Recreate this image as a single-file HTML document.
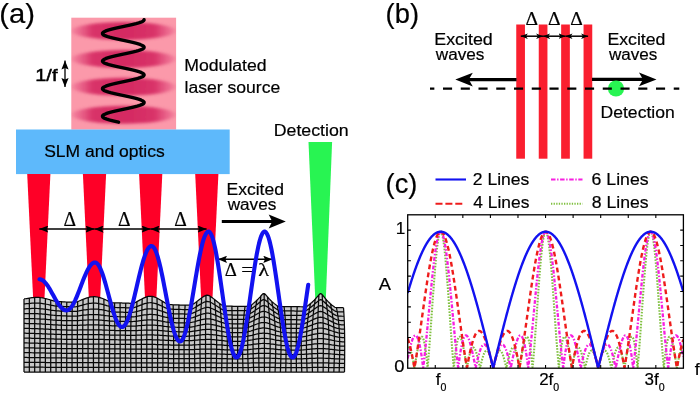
<!DOCTYPE html>
<html><head><meta charset="utf-8"><title>Figure</title>
<style>
html,body{margin:0;padding:0;background:#fff;}
svg{display:block;}
text{fill:#000;stroke:#000;stroke-width:0.2px;}
</style></head>
<body>
<svg width="700" height="397" viewBox="0 0 700 397">
<rect x="0" y="0" width="700" height="397" fill="#fff"/>
<defs>
<linearGradient id="pg" x1="0" y1="0" x2="1" y2="0"><stop offset="0" stop-color="#e0457a" stop-opacity="0.25"/><stop offset="0.2" stop-color="#d93268" stop-opacity="1"/><stop offset="0.5" stop-color="#d42a62" stop-opacity="1"/><stop offset="0.8" stop-color="#d93268" stop-opacity="1"/><stop offset="1" stop-color="#e0457a" stop-opacity="0.25"/></linearGradient>
<filter id="bl" x="-10%" y="-30%" width="120%" height="160%"><feGaussianBlur stdDeviation="2.5 1.7"/></filter>
<clipPath id="pc"><rect x="71.3" y="17.7" width="104.8" height="111.89999999999999"/></clipPath>
<marker id="ah" viewBox="0 0 10 8" refX="10" refY="4" markerWidth="9" markerHeight="7.2" markerUnits="userSpaceOnUse" orient="auto-start-reverse"><path d="M0,0 L10,4 L0,8 L1.8,4 Z" fill="#000"/></marker>
</defs>
<rect x="71.3" y="17.7" width="104.8" height="111.9" fill="#fb99aa"/>
<g clip-path="url(#pc)">
<ellipse cx="123.7" cy="31.0" rx="52" ry="9" fill="url(#pg)" filter="url(#bl)"/>
<ellipse cx="123.7" cy="59.0" rx="52" ry="9" fill="url(#pg)" filter="url(#bl)"/>
<ellipse cx="123.7" cy="86.8" rx="52" ry="9" fill="url(#pg)" filter="url(#bl)"/>
<ellipse cx="123.7" cy="114.8" rx="52" ry="9" fill="url(#pg)" filter="url(#bl)"/>
</g>
<path d="M144.1,19.7 L143.97,20.2 L143.56,20.7 L142.9,21.2 L141.98,21.7 L140.82,22.2 L139.43,22.7 L137.84,23.2 L136.06,23.7 L134.11,24.2 L132.02,24.7 L129.82,25.2 L127.53,25.7 L125.19,26.2 L122.83,26.7 L120.47,27.2 L118.15,27.7 L115.89,28.2 L113.73,28.7 L111.69,29.2 L109.81,29.7 L108.1,30.2 L106.58,30.7 L105.29,31.2 L104.22,31.7 L103.4,32.2 L102.84,32.7 L102.55,33.2 L102.52,33.7 L102.76,34.2 L103.27,34.7 L104.04,35.2 L105.05,35.7 L106.31,36.2 L107.78,36.7 L109.45,37.2 L111.31,37.7 L113.31,38.2 L115.45,38.7 L117.69,39.2 L120,39.7 L122.35,40.2 L124.72,40.7 L127.07,41.2 L129.37,41.7 L131.59,42.2 L133.7,42.7 L135.68,43.2 L137.5,43.7 L139.13,44.2 L140.56,44.7 L141.77,45.2 L142.74,45.7 L143.45,46.2 L143.91,46.7 L144.09,47.2 L144.01,47.7 L143.66,48.2 L143.05,48.7 L142.18,49.2 L141.07,49.7 L139.73,50.2 L138.17,50.7 L136.43,51.2 L134.51,51.7 L132.45,52.2 L130.27,52.7 L127.99,53.2 L125.66,53.7 L123.3,54.2 L120.94,54.7 L118.61,55.2 L116.33,55.7 L114.15,56.2 L112.09,56.7 L110.17,57.2 L108.43,57.7 L106.87,58.2 L105.53,58.7 L104.42,59.2 L103.55,59.7 L102.94,60.2 L102.59,60.7 L102.51,61.2 L102.69,61.7 L103.15,62.2 L103.86,62.7 L104.83,63.2 L106.04,63.7 L107.47,64.2 L109.1,64.7 L110.92,65.2 L112.9,65.7 L115.01,66.2 L117.23,66.7 L119.53,67.2 L121.88,67.7 L124.25,68.2 L126.6,68.7 L128.91,69.2 L131.15,69.7 L133.29,70.2 L135.29,70.7 L137.15,71.2 L138.82,71.7 L140.29,72.2 L141.55,72.7 L142.56,73.2 L143.33,73.7 L143.84,74.2 L144.08,74.7 L144.05,75.2 L143.76,75.7 L143.2,76.2 L142.38,76.7 L141.31,77.2 L140.02,77.7 L138.5,78.2 L136.79,78.7 L134.91,79.2 L132.87,79.7 L130.71,80.2 L128.45,80.7 L126.13,81.2 L123.77,81.7 L121.41,82.2 L119.07,82.7 L116.78,83.2 L114.58,83.7 L112.49,84.2 L110.54,84.7 L108.76,85.2 L107.17,85.7 L105.78,86.2 L104.62,86.7 L103.7,87.2 L103.04,87.7 L102.63,88.2 L102.5,88.7 L102.63,89.2 L103.04,89.7 L103.7,90.2 L104.62,90.7 L105.78,91.2 L107.17,91.7 L108.76,92.2 L110.54,92.7 L112.49,93.2 L114.58,93.7 L116.78,94.2 L119.07,94.7 L121.41,95.2 L123.77,95.7 L126.13,96.2 L128.45,96.7 L130.71,97.2 L132.87,97.7 L134.91,98.2 L136.79,98.7 L138.5,99.2 L140.02,99.7 L141.31,100.2 L142.38,100.7 L143.2,101.2 L143.76,101.7 L144.05,102.2 L144.08,102.7 L143.84,103.2 L143.33,103.7 L142.56,104.2 L141.55,104.7 L140.29,105.2 L138.82,105.7 L137.15,106.2 L135.29,106.7 L133.29,107.2 L131.15,107.7 L128.91,108.2 L126.6,108.7 L124.25,109.2 L121.88,109.7 L119.53,110.2 L117.23,110.7 L115.01,111.2 L112.9,111.7 L110.92,112.2 L109.1,112.7 L107.47,113.2 L106.04,113.7 L104.83,114.2 L103.86,114.7 L103.15,115.2 L102.69,115.7 L102.51,116.2 L102.59,116.7 L102.94,117.2 L103.55,117.7 L104.42,118.2 L105.53,118.7 L106.87,119.2 L108.43,119.7 L110.17,120.2 L112.09,120.7 L114.15,121.2 L116.33,121.7 L118.61,122.2" fill="none" stroke="#000" stroke-width="3.4" stroke-linecap="round" stroke-linejoin="round"/>
<rect x="16" y="129.5" width="213.7" height="44.6" fill="#5eb9fb"/>
<polygon points="27.2,174 50.4,174 44.4,300 33.2,300" fill="#fe0027"/>
<polygon points="82.9,174 106.1,174 100.1,300 88.9,300" fill="#fe0027"/>
<polygon points="139.1,174 162.3,174 156.3,300 145.1,300" fill="#fe0027"/>
<polygon points="195.2,174 218.4,174 212.4,300 201.2,300" fill="#fe0027"/>
<polygon points="308.5,142 332.1,142 325.8,300 315.3,300" fill="#28f452"/>
<text x="-0.7" y="23" font-size="27.5" font-family='"Liberation Sans", Arial, Helvetica, sans-serif' text-anchor="start" textLength="35.7" lengthAdjust="spacingAndGlyphs" >(a)</text>
<text x="35.28" y="80.8" font-size="17" font-family='"Liberation Sans", Arial, Helvetica, sans-serif' textLength="22.19" lengthAdjust="spacingAndGlyphs" style="stroke-width:0.5px">1/f</text>
<text x="184.25" y="71.4" font-size="17.3" font-family='"Liberation Sans", Arial, Helvetica, sans-serif' textLength="82.38" lengthAdjust="spacingAndGlyphs" >Modulated</text>
<text x="184.52" y="92.6" font-size="17.3" font-family='"Liberation Sans", Arial, Helvetica, sans-serif' textLength="95.77" lengthAdjust="spacingAndGlyphs" >laser source</text>
<text x="273.75" y="136.0" font-size="17.3" font-family='"Liberation Sans", Arial, Helvetica, sans-serif' textLength="74.91" lengthAdjust="spacingAndGlyphs" >Detection</text>
<text x="44.21" y="157" font-size="17.3" font-family='"Liberation Sans", Arial, Helvetica, sans-serif' textLength="120.42" lengthAdjust="spacingAndGlyphs" >SLM and optics</text>
<text x="226.46" y="195" font-size="17.3" font-family='"Liberation Sans", Arial, Helvetica, sans-serif' textLength="57.47" lengthAdjust="spacingAndGlyphs" >Excited</text>
<text x="227.63" y="209.6" font-size="17.3" font-family='"Liberation Sans", Arial, Helvetica, sans-serif' textLength="48.7" lengthAdjust="spacingAndGlyphs" >waves</text>
<line x1="65" y1="60.5" x2="65" y2="87" stroke="#000" stroke-width="1.3" marker-start="url(#ah)" marker-end="url(#ah)"/>
<line x1="39.3" y1="229.1" x2="94.5" y2="229.1" stroke="#000" stroke-width="1.5" marker-start="url(#ah)" marker-end="url(#ah)"/>
<line x1="94.5" y1="229.1" x2="150.6" y2="229.1" stroke="#000" stroke-width="1.5" marker-start="url(#ah)" marker-end="url(#ah)"/>
<line x1="150.6" y1="229.1" x2="206.6" y2="229.1" stroke="#000" stroke-width="1.5" marker-start="url(#ah)" marker-end="url(#ah)"/>
<g transform="translate(0,225.5) scale(1,1.04)">
<text x="63.4" y="0" font-size="19.4" font-family='"Liberation Serif", "Times New Roman", serif' textLength="12.58" lengthAdjust="spacingAndGlyphs" >&#916;</text>
</g>
<g transform="translate(0,225.5) scale(1,1.04)">
<text x="117.9" y="0" font-size="19.4" font-family='"Liberation Serif", "Times New Roman", serif' textLength="12.58" lengthAdjust="spacingAndGlyphs" >&#916;</text>
</g>
<g transform="translate(0,225.5) scale(1,1.04)">
<text x="174.3" y="0" font-size="19.4" font-family='"Liberation Serif", "Times New Roman", serif' textLength="12.58" lengthAdjust="spacingAndGlyphs" >&#916;</text>
</g>
<line x1="218" y1="259.3" x2="272.3" y2="259.3" stroke="#000" stroke-width="1.5" marker-start="url(#ah)" marker-end="url(#ah)"/>
<text x="224.68" y="275.6" font-size="19.4" font-family='"Liberation Serif", "Times New Roman", serif' textLength="12.13" lengthAdjust="spacingAndGlyphs" >&#916;</text>
<text x="241.23" y="275.6" font-size="19.4" font-family='"Liberation Serif", "Times New Roman", serif' textLength="12.12" lengthAdjust="spacingAndGlyphs" >=</text>
<text x="258.31" y="275.6" font-size="19.4" font-family='"Liberation Serif", "Times New Roman", serif' textLength="10.81" lengthAdjust="spacingAndGlyphs" >&#955;</text>
<line x1="221.8" y1="221.6" x2="273.2" y2="221.6" stroke="#000" stroke-width="3.0"/>
<path d="M285.8,221.6 L268.7,214.6 L272.2,221.6 L268.7,228.6 Z" fill="#000"/>
<polygon points="24,298.95 25.34,298.75 26.67,298.52 28.01,298.3 29.34,298.08 30.68,297.88 32.01,297.7 33.35,297.57 34.68,297.47 36.02,297.42 37.35,297.42 38.69,297.48 40.02,297.59 41.36,297.75 42.7,297.97 44.03,298.24 45.37,298.54 46.7,298.87 48.04,299.23 49.37,299.61 50.71,300.01 52.04,300.41 53.38,300.8 54.71,301.16 56.05,301.43 57.39,301.51 58.72,301.58 60.06,301.66 61.39,301.74 62.73,301.81 64.06,301.89 65.4,301.97 66.76,302.01 68.14,302.04 69.52,302.06 70.89,302.08 72.27,302.11 73.63,302.13 75,302.16 76.35,301.99 77.7,301.55 79.05,301.04 80.39,300.49 81.72,299.93 83.05,299.37 84.36,298.84 85.68,298.34 86.99,297.9 88.29,297.51 89.59,297.19 90.88,296.94 92.18,296.78 93.47,296.7 94.76,296.71 96.05,296.81 97.35,297 98.64,297.27 99.94,297.62 101.24,298.03 102.55,298.51 103.86,299.04 105.18,299.62 106.5,300.21 107.83,300.82 109.17,301.42 110.51,302 111.86,302.51 113.22,302.85 114.58,302.87 115.94,302.9 117.31,302.92 118.69,302.94 120.06,302.97 121.44,302.99 122.82,303.03 124.26,303.07 125.71,303.12 127.16,303.17 128.6,303.21 130.03,303.26 131.45,303.3 132.86,303.35 134.24,302.94 135.62,302.32 136.97,301.62 138.31,300.89 139.63,300.15 140.93,299.43 142.21,298.75 143.48,298.13 144.73,297.57 145.97,297.09 147.2,296.71 148.43,296.44 149.64,296.28 150.86,296.25 152.07,296.39 153.29,296.65 154.52,297.03 155.75,297.51 156.99,298.08 158.24,298.74 159.51,299.47 160.8,300.24 162.1,301.06 163.42,301.88 164.76,302.7 166.11,303.49 167.49,304.2 168.88,304.64 170.29,304.69 171.71,304.73 173.14,304.78 174.58,304.82 176.03,304.87 177.48,304.92 178.91,304.96 180.24,305.01 181.88,305.04 183.51,305.07 185.14,305.1 186.74,305.13 188.31,305.16 189.85,305.2 191.36,305.09 192.82,304.3 194.23,303.4 195.6,302.46 196.92,301.49 198.19,300.53 199.41,299.6 200.59,298.7 201.73,297.86 202.84,297.09 203.92,296.4 204.97,295.81 206.01,295.37 207.03,295.17 208.06,295.3 209.09,295.66 210.13,296.25 211.2,296.96 212.29,297.75 213.41,298.62 214.57,299.55 215.77,300.53 217.02,301.54 218.31,302.57 219.65,303.59 221.04,304.58 222.48,305.5 223.96,306.08 225.48,306.11 227.04,306.14 228.62,306.17 230.24,306.21 231.87,306.24 233.51,306.27 235,306.3 236.33,306.31 237.71,306.31 239.59,306.32 241.45,306.33 243.28,306.34 245.07,306.34 246.81,306.35 248.49,306.36 250.09,305.82 251.62,304.74 253.06,303.64 254.42,302.52 255.69,301.41 256.87,300.29 257.98,299.19 259,298.11 259.97,297.05 260.87,296.01 261.73,295.01 262.55,294.12 263.35,293.64 264.14,293.59 264.94,294.04 265.76,294.91 266.61,295.92 267.51,296.96 268.46,298.03 269.48,299.13 270.57,300.24 271.74,301.37 273,302.5 274.34,303.63 275.78,304.75 277.29,305.84 278.88,306.55 280.55,306.55 282.28,306.56 284.07,306.57 285.89,306.57 287.75,306.58 289.63,306.59 291.08,306.6 292.42,306.61 293.75,306.64 295.35,306.66 297.22,306.69 299.07,306.72 300.89,306.75 302.66,306.78 304.38,306.8 306.03,306.83 307.6,305.85 309.09,304.73 310.5,303.59 311.83,302.44 313.06,301.29 314.21,300.15 315.29,299.03 316.29,297.92 317.23,296.84 318.11,295.79 318.95,294.79 319.76,294.01 320.56,293.58 321.35,293.91 322.16,294.57 322.99,295.59 323.85,296.68 324.77,297.8 325.75,298.96 326.8,300.13 327.92,301.32 329.13,302.53 330.42,303.73 331.79,304.93 333.26,306.12 334.8,307.26 336.43,307.59 338.12,307.62 339.87,307.64 341.68,307.67 343.52,307.7 344.5,372 24,372" fill="#c8c8c8"/>
<path d="M24,298.95 L25.34,298.75 L26.67,298.52 L28.01,298.3 L29.34,298.08 L30.68,297.88 L32.01,297.7 L33.35,297.57 L34.68,297.47 L36.02,297.42 L37.35,297.42 L38.69,297.48 L40.02,297.59 L41.36,297.75 L42.7,297.97 L44.03,298.24 L45.37,298.54 L46.7,298.87 L48.04,299.23 L49.37,299.61 L50.71,300.01 L52.04,300.41 L53.38,300.8 L54.71,301.16 L56.05,301.43 L57.39,301.51 L58.72,301.58 L60.06,301.66 L61.39,301.74 L62.73,301.81 L64.06,301.89 L65.4,301.97 L66.76,302.01 L68.14,302.04 L69.52,302.06 L70.89,302.08 L72.27,302.11 L73.63,302.13 L75,302.16 L76.35,301.99 L77.7,301.55 L79.05,301.04 L80.39,300.49 L81.72,299.93 L83.05,299.37 L84.36,298.84 L85.68,298.34 L86.99,297.9 L88.29,297.51 L89.59,297.19 L90.88,296.94 L92.18,296.78 L93.47,296.7 L94.76,296.71 L96.05,296.81 L97.35,297 L98.64,297.27 L99.94,297.62 L101.24,298.03 L102.55,298.51 L103.86,299.04 L105.18,299.62 L106.5,300.21 L107.83,300.82 L109.17,301.42 L110.51,302 L111.86,302.51 L113.22,302.85 L114.58,302.87 L115.94,302.9 L117.31,302.92 L118.69,302.94 L120.06,302.97 L121.44,302.99 L122.82,303.03 L124.26,303.07 L125.71,303.12 L127.16,303.17 L128.6,303.21 L130.03,303.26 L131.45,303.3 L132.86,303.35 L134.24,302.94 L135.62,302.32 L136.97,301.62 L138.31,300.89 L139.63,300.15 L140.93,299.43 L142.21,298.75 L143.48,298.13 L144.73,297.57 L145.97,297.09 L147.2,296.71 L148.43,296.44 L149.64,296.28 L150.86,296.25 L152.07,296.39 L153.29,296.65 L154.52,297.03 L155.75,297.51 L156.99,298.08 L158.24,298.74 L159.51,299.47 L160.8,300.24 L162.1,301.06 L163.42,301.88 L164.76,302.7 L166.11,303.49 L167.49,304.2 L168.88,304.64 L170.29,304.69 L171.71,304.73 L173.14,304.78 L174.58,304.82 L176.03,304.87 L177.48,304.92 L178.91,304.96 L180.24,305.01 L181.88,305.04 L183.51,305.07 L185.14,305.1 L186.74,305.13 L188.31,305.16 L189.85,305.2 L191.36,305.09 L192.82,304.3 L194.23,303.4 L195.6,302.46 L196.92,301.49 L198.19,300.53 L199.41,299.6 L200.59,298.7 L201.73,297.86 L202.84,297.09 L203.92,296.4 L204.97,295.81 L206.01,295.37 L207.03,295.17 L208.06,295.3 L209.09,295.66 L210.13,296.25 L211.2,296.96 L212.29,297.75 L213.41,298.62 L214.57,299.55 L215.77,300.53 L217.02,301.54 L218.31,302.57 L219.65,303.59 L221.04,304.58 L222.48,305.5 L223.96,306.08 L225.48,306.11 L227.04,306.14 L228.62,306.17 L230.24,306.21 L231.87,306.24 L233.51,306.27 L235,306.3 L236.33,306.31 L237.71,306.31 L239.59,306.32 L241.45,306.33 L243.28,306.34 L245.07,306.34 L246.81,306.35 L248.49,306.36 L250.09,305.82 L251.62,304.74 L253.06,303.64 L254.42,302.52 L255.69,301.41 L256.87,300.29 L257.98,299.19 L259,298.11 L259.97,297.05 L260.87,296.01 L261.73,295.01 L262.55,294.12 L263.35,293.64 L264.14,293.59 L264.94,294.04 L265.76,294.91 L266.61,295.92 L267.51,296.96 L268.46,298.03 L269.48,299.13 L270.57,300.24 L271.74,301.37 L273,302.5 L274.34,303.63 L275.78,304.75 L277.29,305.84 L278.88,306.55 L280.55,306.55 L282.28,306.56 L284.07,306.57 L285.89,306.57 L287.75,306.58 L289.63,306.59 L291.08,306.6 L292.42,306.61 L293.75,306.64 L295.35,306.66 L297.22,306.69 L299.07,306.72 L300.89,306.75 L302.66,306.78 L304.38,306.8 L306.03,306.83 L307.6,305.85 L309.09,304.73 L310.5,303.59 L311.83,302.44 L313.06,301.29 L314.21,300.15 L315.29,299.03 L316.29,297.92 L317.23,296.84 L318.11,295.79 L318.95,294.79 L319.76,294.01 L320.56,293.58 L321.35,293.91 L322.16,294.57 L322.99,295.59 L323.85,296.68 L324.77,297.8 L325.75,298.96 L326.8,300.13 L327.92,301.32 L329.13,302.53 L330.42,303.73 L331.79,304.93 L333.26,306.12 L334.8,307.26 L336.43,307.59 L338.12,307.62 L339.87,307.64 L341.68,307.67 L343.52,307.7 M24,303.9 L25.34,303.78 L26.67,303.66 L28.01,303.53 L29.34,303.4 L30.68,303.29 L32.01,303.19 L33.35,303.12 L34.68,303.08 L36.02,303.07 L37.35,303.1 L38.69,303.16 L40.02,303.26 L41.36,303.4 L42.7,303.57 L44.03,303.77 L45.37,304 L46.7,304.25 L48.04,304.51 L49.37,304.79 L50.71,305.08 L52.04,305.37 L53.38,305.65 L54.71,305.9 L56.05,306.09 L57.39,306.2 L58.72,306.28 L60.06,306.35 L61.39,306.42 L62.73,306.49 L64.06,306.56 L65.4,306.63 L66.76,306.68 L68.12,306.7 L69.49,306.72 L70.85,306.75 L72.21,306.77 L73.57,306.79 L74.92,306.76 L76.28,306.63 L77.62,306.39 L78.96,306.05 L80.3,305.68 L81.63,305.3 L82.96,304.93 L84.29,304.57 L85.61,304.24 L86.92,303.94 L88.24,303.68 L89.54,303.47 L90.85,303.31 L92.16,303.2 L93.46,303.15 L94.77,303.17 L96.07,303.24 L97.38,303.38 L98.68,303.57 L99.99,303.81 L101.3,304.09 L102.62,304.42 L103.94,304.79 L105.26,305.18 L106.59,305.59 L107.92,306.02 L109.25,306.44 L110.59,306.83 L111.94,307.16 L113.29,307.38 L114.64,307.48 L116,307.5 L117.36,307.52 L118.72,307.55 L120.09,307.57 L121.45,307.59 L122.82,307.63 L124.23,307.67 L125.65,307.71 L127.06,307.76 L128.47,307.8 L129.88,307.84 L131.27,307.87 L132.66,307.82 L134.03,307.56 L135.39,307.16 L136.74,306.67 L138.08,306.15 L139.4,305.61 L140.71,305.09 L142.01,304.59 L143.3,304.13 L144.58,303.72 L145.84,303.36 L147.1,303.08 L148.36,302.87 L149.61,302.75 L150.86,302.73 L152.11,302.82 L153.36,303.01 L154.62,303.29 L155.88,303.65 L157.15,304.08 L158.42,304.57 L159.71,305.12 L161.01,305.71 L162.32,306.33 L163.65,306.97 L164.99,307.6 L166.34,308.2 L167.7,308.69 L169.07,309.02 L170.46,309.17 L171.86,309.22 L173.26,309.26 L174.67,309.3 L176.09,309.35 L177.51,309.39 L178.91,309.43 L180.24,309.47 L181.79,309.5 L183.34,309.53 L184.88,309.56 L186.41,309.59 L187.92,309.62 L189.4,309.58 L190.85,309.38 L192.28,308.89 L193.67,308.19 L195.03,307.43 L196.35,306.65 L197.64,305.87 L198.89,305.1 L200.12,304.36 L201.32,303.67 L202.49,303.02 L203.64,302.44 L204.77,301.96 L205.89,301.59 L207.01,301.44 L208.12,301.52 L209.24,301.79 L210.37,302.24 L211.51,302.8 L212.67,303.45 L213.85,304.17 L215.06,304.94 L216.3,305.76 L217.57,306.6 L218.88,307.47 L220.22,308.33 L221.59,309.16 L223,309.85 L224.44,310.31 L225.91,310.5 L227.4,310.53 L228.92,310.56 L230.45,310.59 L232,310.62 L233.55,310.65 L235,310.68 L236.33,310.69 L237.7,310.69 L239.42,310.7 L241.13,310.71 L242.82,310.71 L244.48,310.72 L246.11,310.73 L247.69,310.55 L249.21,310.08 L250.68,309.3 L252.1,308.33 L253.45,307.35 L254.74,306.36 L255.96,305.38 L257.13,304.41 L258.25,303.46 L259.32,302.52 L260.34,301.62 L261.34,300.76 L262.31,300.05 L263.26,299.67 L264.21,299.64 L265.16,299.98 L266.13,300.69 L267.12,301.54 L268.14,302.45 L269.2,303.4 L270.31,304.36 L271.47,305.35 L272.69,306.34 L273.97,307.34 L275.31,308.33 L276.72,309.31 L278.18,310.14 L279.7,310.7 L281.27,310.92 L282.89,310.92 L284.54,310.93 L286.23,310.94 L287.94,310.94 L289.66,310.95 L291.08,310.96 L292.42,310.97 L293.75,310.99 L295.28,311.02 L296.99,311.05 L298.7,311.07 L300.38,311.1 L302.02,311.12 L303.63,311.11 L305.19,310.89 L306.7,310.22 L308.14,309.32 L309.53,308.32 L310.86,307.31 L312.12,306.29 L313.33,305.29 L314.48,304.3 L315.57,303.33 L316.62,302.38 L317.64,301.46 L318.62,300.64 L319.58,299.99 L320.53,299.72 L321.48,299.94 L322.44,300.48 L323.41,301.3 L324.41,302.25 L325.45,303.24 L326.53,304.26 L327.66,305.29 L328.84,306.35 L330.08,307.41 L331.39,308.47 L332.75,309.53 L334.18,310.57 L335.67,311.35 L337.21,311.76 L338.8,311.91 L340.43,311.93 L342.1,311.96 L343.8,311.99 M24,308.81 L25.34,308.76 L26.67,308.7 L28.01,308.64 L29.34,308.57 L30.68,308.52 L32.01,308.48 L33.35,308.45 L34.68,308.45 L36.02,308.46 L37.35,308.5 L38.69,308.57 L40.02,308.66 L41.36,308.77 L42.7,308.91 L44.03,309.07 L45.37,309.25 L46.7,309.43 L48.04,309.63 L49.37,309.84 L50.71,310.05 L52.04,310.26 L53.38,310.47 L54.71,310.64 L56.05,310.79 L57.39,310.89 L58.72,310.97 L60.06,311.04 L61.39,311.11 L62.73,311.17 L64.06,311.24 L65.4,311.3 L66.75,311.34 L68.1,311.37 L69.46,311.39 L70.81,311.41 L72.17,311.43 L73.52,311.44 L74.86,311.41 L76.21,311.32 L77.55,311.17 L78.89,310.96 L80.23,310.71 L81.56,310.47 L82.89,310.22 L84.22,309.98 L85.55,309.76 L86.87,309.56 L88.19,309.39 L89.51,309.25 L90.82,309.15 L92.14,309.09 L93.46,309.06 L94.77,309.07 L96.08,309.13 L97.4,309.23 L98.72,309.36 L100.03,309.53 L101.35,309.72 L102.68,309.95 L104,310.2 L105.33,310.47 L106.66,310.75 L107.99,311.05 L109.33,311.34 L110.66,311.61 L112.01,311.82 L113.35,311.99 L114.7,312.06 L116.05,312.11 L117.4,312.13 L118.75,312.15 L120.11,312.17 L121.46,312.19 L122.82,312.22 L124.2,312.26 L125.59,312.3 L126.98,312.34 L128.37,312.38 L129.75,312.42 L131.13,312.42 L132.49,312.38 L133.85,312.2 L135.21,311.95 L136.55,311.61 L137.89,311.24 L139.22,310.86 L140.53,310.48 L141.85,310.12 L143.15,309.78 L144.44,309.48 L145.74,309.22 L147.02,309.01 L148.3,308.86 L149.58,308.77 L150.86,308.76 L152.14,308.82 L153.42,308.95 L154.7,309.16 L155.99,309.43 L157.28,309.75 L158.58,310.12 L159.88,310.54 L161.19,310.98 L162.51,311.45 L163.84,311.94 L165.18,312.42 L166.52,312.87 L167.88,313.22 L169.24,313.49 L170.61,313.62 L171.98,313.7 L173.36,313.74 L174.75,313.78 L176.14,313.82 L177.53,313.86 L178.91,313.9 L180.24,313.94 L181.72,313.97 L183.2,313.99 L184.67,314.02 L186.13,314.05 L187.58,314.08 L189.01,313.98 L190.43,313.82 L191.82,313.42 L193.19,312.93 L194.54,312.32 L195.87,311.7 L197.18,311.06 L198.46,310.44 L199.72,309.84 L200.96,309.27 L202.19,308.74 L203.4,308.26 L204.61,307.86 L205.8,307.58 L206.99,307.44 L208.18,307.49 L209.37,307.66 L210.57,308.03 L211.77,308.47 L212.99,309 L214.23,309.59 L215.48,310.22 L216.75,310.89 L218.05,311.6 L219.36,312.32 L220.7,313.03 L222.06,313.72 L223.44,314.25 L224.85,314.65 L226.27,314.83 L227.71,314.92 L229.17,314.95 L230.63,314.98 L232.11,315.01 L233.59,315.03 L235,315.06 L236.33,315.07 L237.69,315.07 L239.28,315.08 L240.86,315.08 L242.43,315.09 L243.99,315.1 L245.51,315.05 L247.01,314.85 L248.47,314.43 L249.9,313.8 L251.28,313 L252.63,312.15 L253.93,311.29 L255.2,310.43 L256.42,309.59 L257.61,308.75 L258.77,307.94 L259.9,307.15 L261.01,306.45 L262.1,305.85 L263.19,305.56 L264.26,305.53 L265.35,305.82 L266.44,306.39 L267.54,307.09 L268.67,307.88 L269.83,308.71 L271.01,309.55 L272.23,310.41 L273.49,311.27 L274.79,312.14 L276.13,313.01 L277.51,313.85 L278.93,314.49 L280.39,314.98 L281.88,315.2 L283.4,315.29 L284.95,315.29 L286.52,315.3 L288.1,315.3 L289.69,315.31 L291.08,315.32 L292.42,315.33 L293.75,315.35 L295.21,315.38 L296.8,315.4 L298.38,315.42 L299.94,315.45 L301.49,315.47 L303,315.36 L304.49,315.16 L305.93,314.57 L307.34,313.89 L308.71,313.02 L310.04,312.14 L311.33,311.26 L312.58,310.38 L313.79,309.52 L314.97,308.67 L316.12,307.84 L317.24,307.06 L318.34,306.38 L319.43,305.9 L320.51,305.65 L321.59,305.84 L322.67,306.23 L323.77,306.95 L324.88,307.74 L326.02,308.61 L327.19,309.5 L328.38,310.41 L329.62,311.33 L330.89,312.25 L332.21,313.18 L333.56,314.11 L334.96,314.92 L336.4,315.6 L337.87,315.96 L339.37,316.19 L340.9,316.22 L342.46,316.25 L344.04,316.27 M24,313.7 L25.34,313.7 L26.67,313.68 L28.01,313.66 L29.34,313.64 L30.68,313.63 L32.01,313.62 L33.35,313.62 L34.68,313.64 L36.02,313.67 L37.35,313.72 L38.69,313.78 L40.02,313.86 L41.36,313.96 L42.7,314.08 L44.03,314.2 L45.37,314.34 L46.7,314.48 L48.04,314.63 L49.37,314.79 L50.71,314.94 L52.04,315.1 L53.38,315.25 L54.71,315.38 L56.05,315.5 L57.39,315.59 L58.72,315.66 L60.06,315.73 L61.39,315.79 L62.73,315.85 L64.06,315.91 L65.4,315.97 L66.74,316.01 L68.09,316.03 L69.44,316.05 L70.78,316.07 L72.13,316.09 L73.47,316.08 L74.81,316.06 L76.16,316.01 L77.5,315.91 L78.83,315.79 L80.17,315.63 L81.5,315.47 L82.84,315.31 L84.17,315.16 L85.5,315.02 L86.83,314.89 L88.15,314.78 L89.48,314.69 L90.8,314.63 L92.13,314.59 L93.45,314.58 L94.77,314.59 L96.1,314.64 L97.42,314.71 L98.74,314.8 L100.07,314.92 L101.4,315.05 L102.72,315.2 L104.05,315.37 L105.38,315.56 L106.71,315.75 L108.05,315.95 L109.38,316.15 L110.72,316.33 L112.06,316.48 L113.4,316.6 L114.74,316.66 L116.09,316.71 L117.43,316.74 L118.78,316.75 L120.13,316.77 L121.47,316.79 L122.82,316.82 L124.18,316.86 L125.55,316.9 L126.92,316.93 L128.28,316.97 L129.64,317 L131,316.99 L132.36,316.96 L133.71,316.83 L135.05,316.66 L136.39,316.45 L137.73,316.19 L139.06,315.93 L140.39,315.66 L141.71,315.41 L143.02,315.17 L144.34,314.95 L145.65,314.77 L146.95,314.62 L148.26,314.51 L149.56,314.45 L150.86,314.43 L152.17,314.48 L153.47,314.58 L154.77,314.73 L156.08,314.92 L157.39,315.16 L158.7,315.44 L160.02,315.75 L161.34,316.09 L162.67,316.44 L164,316.81 L165.34,317.17 L166.68,317.48 L168.02,317.76 L169.37,317.97 L170.73,318.09 L172.09,318.18 L173.45,318.22 L174.81,318.26 L176.18,318.3 L177.55,318.33 L178.91,318.37 L180.24,318.4 L181.66,318.43 L183.08,318.46 L184.49,318.48 L185.9,318.51 L187.3,318.49 L188.7,318.41 L190.08,318.27 L191.45,317.96 L192.8,317.61 L194.15,317.14 L195.48,316.65 L196.8,316.14 L198.1,315.65 L199.39,315.16 L200.68,314.7 L201.95,314.26 L203.21,313.88 L204.47,313.55 L205.72,313.33 L206.97,313.22 L208.22,313.24 L209.48,313.38 L210.73,313.64 L211.99,313.99 L213.26,314.41 L214.54,314.88 L215.82,315.4 L217.12,315.95 L218.43,316.52 L219.76,317.11 L221.1,317.7 L222.45,318.22 L223.81,318.66 L225.18,319 L226.57,319.17 L227.97,319.31 L229.37,319.34 L230.78,319.36 L232.2,319.39 L233.62,319.41 L235,319.44 L236.33,319.45 L237.68,319.45 L239.16,319.46 L240.64,319.46 L242.12,319.47 L243.58,319.47 L245.02,319.34 L246.45,319.17 L247.86,318.8 L249.25,318.26 L250.61,317.66 L251.95,316.92 L253.27,316.18 L254.57,315.44 L255.84,314.71 L257.09,313.99 L258.32,313.28 L259.54,312.62 L260.74,312.03 L261.94,311.59 L263.12,311.35 L264.31,311.33 L265.5,311.56 L266.69,311.98 L267.89,312.57 L269.11,313.24 L270.34,313.95 L271.59,314.68 L272.86,315.42 L274.15,316.17 L275.46,316.92 L276.8,317.67 L278.16,318.31 L279.55,318.87 L280.95,319.29 L282.38,319.48 L283.82,319.65 L285.28,319.65 L286.75,319.66 L288.23,319.66 L289.71,319.67 L291.08,319.68 L292.42,319.69 L293.75,319.71 L295.16,319.73 L296.64,319.75 L298.12,319.78 L299.59,319.8 L301.04,319.79 L302.48,319.63 L303.91,319.46 L305.31,318.94 L306.68,318.39 L308.04,317.7 L309.37,316.94 L310.68,316.18 L311.97,315.43 L313.23,314.68 L314.47,313.95 L315.7,313.24 L316.91,312.59 L318.11,312.01 L319.3,311.66 L320.49,311.49 L321.68,311.63 L322.87,311.96 L324.06,312.51 L325.27,313.17 L326.49,313.91 L327.73,314.68 L328.98,315.46 L330.26,316.26 L331.56,317.06 L332.88,317.87 L334.23,318.66 L335.6,319.28 L336.99,319.87 L338.41,320.19 L339.84,320.4 L341.29,320.52 L342.76,320.54 L344.23,320.56 M24,318.58 L25.34,318.61 L26.67,318.62 L28.01,318.62 L29.34,318.63 L30.68,318.64 L32.01,318.66 L33.35,318.68 L34.68,318.71 L36.02,318.75 L37.35,318.8 L38.69,318.86 L40.02,318.94 L41.36,319.02 L42.7,319.11 L44.03,319.22 L45.37,319.33 L46.7,319.44 L48.04,319.55 L49.37,319.67 L50.71,319.79 L52.04,319.91 L53.38,320.01 L54.71,320.12 L56.05,320.21 L57.39,320.28 L58.72,320.35 L60.06,320.42 L61.39,320.47 L62.73,320.53 L64.06,320.59 L65.4,320.64 L66.74,320.68 L68.08,320.69 L69.42,320.71 L70.76,320.73 L72.1,320.74 L73.44,320.74 L74.77,320.72 L76.11,320.69 L77.45,320.63 L78.79,320.56 L80.12,320.47 L81.46,320.37 L82.79,320.27 L84.13,320.17 L85.46,320.08 L86.79,320 L88.12,319.94 L89.45,319.88 L90.78,319.85 L92.11,319.82 L93.44,319.82 L94.78,319.84 L96.11,319.87 L97.44,319.92 L98.77,319.99 L100.1,320.07 L101.43,320.16 L102.76,320.26 L104.09,320.38 L105.43,320.51 L106.76,320.64 L108.1,320.78 L109.43,320.91 L110.77,321.02 L112.11,321.13 L113.44,321.22 L114.78,321.27 L116.12,321.31 L117.46,321.34 L118.8,321.36 L120.14,321.38 L121.48,321.39 L122.82,321.42 L124.17,321.45 L125.52,321.49 L126.87,321.52 L128.21,321.56 L129.56,321.57 L130.91,321.56 L132.25,321.54 L133.59,321.46 L134.93,321.35 L136.27,321.22 L137.6,321.05 L138.94,320.87 L140.27,320.69 L141.6,320.51 L142.92,320.34 L144.25,320.19 L145.58,320.06 L146.9,319.96 L148.22,319.88 L149.54,319.84 L150.86,319.84 L152.19,319.87 L153.51,319.94 L154.83,320.05 L156.15,320.2 L157.48,320.37 L158.8,320.58 L160.13,320.81 L161.46,321.06 L162.79,321.32 L164.13,321.59 L165.46,321.86 L166.8,322.08 L168.14,322.29 L169.48,322.46 L170.82,322.56 L172.17,322.65 L173.52,322.7 L174.86,322.74 L176.21,322.77 L177.56,322.81 L178.91,322.84 L180.24,322.87 L181.61,322.89 L182.98,322.92 L184.35,322.94 L185.72,322.96 L187.08,322.91 L188.44,322.85 L189.8,322.74 L191.15,322.49 L192.49,322.22 L193.83,321.9 L195.16,321.51 L196.49,321.12 L197.81,320.72 L199.13,320.34 L200.44,319.97 L201.75,319.62 L203.06,319.32 L204.36,319.07 L205.66,318.89 L206.96,318.79 L208.26,318.8 L209.56,318.9 L210.86,319.08 L212.17,319.35 L213.47,319.68 L214.78,320.06 L216.1,320.47 L217.42,320.92 L218.74,321.38 L220.07,321.86 L221.41,322.34 L222.75,322.72 L224.1,323.09 L225.45,323.38 L226.81,323.52 L228.17,323.66 L229.53,323.73 L230.9,323.75 L232.27,323.77 L233.64,323.8 L235,323.82 L236.33,323.83 L237.67,323.83 L239.07,323.84 L240.47,323.84 L241.86,323.85 L243.25,323.81 L244.63,323.66 L246.01,323.51 L247.37,323.2 L248.73,322.73 L250.08,322.25 L251.42,321.66 L252.74,321.03 L254.06,320.39 L255.37,319.77 L256.67,319.15 L257.96,318.55 L259.25,318.02 L260.53,317.53 L261.8,317.19 L263.08,317.02 L264.35,317.01 L265.62,317.17 L266.9,317.51 L268.18,317.98 L269.46,318.52 L270.75,319.12 L272.05,319.75 L273.36,320.38 L274.67,321.02 L276,321.67 L277.34,322.29 L278.68,322.78 L280.04,323.26 L281.4,323.63 L282.78,323.79 L284.16,323.95 L285.55,324.02 L286.94,324.02 L288.34,324.03 L289.73,324.03 L291.08,324.04 L292.42,324.05 L293.75,324.07 L295.12,324.09 L296.52,324.11 L297.91,324.13 L299.3,324.15 L300.69,324.07 L302.07,323.92 L303.44,323.78 L304.81,323.34 L306.16,322.86 L307.5,322.35 L308.84,321.7 L310.16,321.06 L311.48,320.41 L312.78,319.78 L314.08,319.15 L315.37,318.56 L316.65,318.04 L317.93,317.61 L319.2,317.31 L320.47,317.18 L321.75,317.29 L323.02,317.55 L324.3,317.96 L325.58,318.52 L326.86,319.13 L328.16,319.79 L329.46,320.47 L330.77,321.15 L332.09,321.84 L333.42,322.52 L334.76,323.13 L336.11,323.65 L337.47,324.16 L338.84,324.44 L340.22,324.62 L341.6,324.8 L342.99,324.83 L344.39,324.85 M24,323.46 L25.34,323.49 L26.67,323.52 L28.01,323.54 L29.34,323.57 L30.68,323.59 L32.01,323.62 L33.35,323.65 L34.68,323.69 L36.02,323.74 L37.35,323.79 L38.69,323.84 L40.02,323.91 L41.36,323.98 L42.7,324.06 L44.03,324.15 L45.37,324.24 L46.7,324.32 L48.04,324.41 L49.37,324.5 L50.71,324.59 L52.04,324.68 L53.38,324.76 L54.71,324.85 L56.05,324.92 L57.39,324.99 L58.72,325.05 L60.06,325.11 L61.39,325.16 L62.73,325.21 L64.06,325.26 L65.4,325.31 L66.73,325.34 L68.07,325.36 L69.4,325.37 L70.74,325.39 L72.07,325.4 L73.41,325.39 L74.74,325.39 L76.08,325.37 L77.42,325.33 L78.75,325.29 L80.09,325.24 L81.42,325.18 L82.76,325.12 L84.09,325.07 L85.43,325.01 L86.76,324.97 L88.1,324.93 L89.43,324.9 L90.77,324.88 L92.11,324.87 L93.44,324.87 L94.78,324.88 L96.11,324.91 L97.45,324.95 L98.78,325 L100.12,325.06 L101.46,325.12 L102.79,325.19 L104.13,325.27 L105.46,325.35 L106.8,325.44 L108.13,325.54 L109.47,325.62 L110.8,325.7 L112.14,325.78 L113.47,325.84 L114.81,325.88 L116.14,325.91 L117.48,325.95 L118.82,325.96 L120.15,325.98 L121.49,325.99 L122.82,326.02 L124.16,326.05 L125.49,326.08 L126.83,326.11 L128.16,326.14 L129.5,326.14 L130.83,326.14 L132.17,326.14 L133.5,326.09 L134.84,326.01 L136.17,325.93 L137.51,325.83 L138.84,325.71 L140.18,325.59 L141.51,325.47 L142.85,325.36 L144.18,325.26 L145.52,325.17 L146.86,325.1 L148.19,325.05 L149.53,325.02 L150.86,325.02 L152.2,325.05 L153.54,325.1 L154.87,325.18 L156.21,325.29 L157.54,325.42 L158.88,325.57 L160.22,325.74 L161.55,325.92 L162.89,326.12 L164.22,326.32 L165.56,326.5 L166.89,326.67 L168.23,326.83 L169.56,326.96 L170.9,327.04 L172.23,327.12 L173.57,327.18 L174.9,327.22 L176.24,327.25 L177.57,327.28 L178.91,327.31 L180.24,327.34 L181.58,327.36 L182.91,327.38 L184.25,327.4 L185.58,327.4 L186.91,327.35 L188.25,327.3 L189.58,327.22 L190.92,327.03 L192.25,326.82 L193.59,326.59 L194.92,326.3 L196.26,326 L197.59,325.69 L198.93,325.39 L200.27,325.1 L201.6,324.83 L202.94,324.58 L204.28,324.4 L205.61,324.26 L206.95,324.18 L208.29,324.18 L209.63,324.25 L210.96,324.39 L212.3,324.58 L213.64,324.83 L214.97,325.13 L216.31,325.46 L217.65,325.81 L218.98,326.19 L220.32,326.57 L221.65,326.91 L222.99,327.22 L224.32,327.53 L225.66,327.77 L226.99,327.89 L228.33,328.01 L229.66,328.12 L230.99,328.14 L232.33,328.16 L233.66,328.18 L235,328.2 L236.33,328.2 L237.67,328.21 L239,328.21 L240.33,328.22 L241.66,328.22 L243,328.13 L244.33,328 L245.66,327.87 L247,327.6 L248.33,327.21 L249.67,326.81 L251,326.37 L252.34,325.83 L253.67,325.3 L255.01,324.77 L256.35,324.25 L257.69,323.76 L259.02,323.32 L260.36,322.97 L261.7,322.68 L263.04,322.56 L264.38,322.55 L265.71,322.67 L267.05,322.94 L268.39,323.29 L269.73,323.74 L271.07,324.23 L272.4,324.76 L273.74,325.3 L275.08,325.84 L276.41,326.38 L277.75,326.85 L279.08,327.26 L280.42,327.67 L281.75,327.98 L283.08,328.12 L284.42,328.26 L285.75,328.38 L287.08,328.38 L288.42,328.39 L289.75,328.39 L291.08,328.4 L292.42,328.41 L293.75,328.42 L295.09,328.44 L296.42,328.46 L297.75,328.48 L299.09,328.48 L300.42,328.36 L301.75,328.24 L303.09,328.11 L304.42,327.74 L305.76,327.34 L307.09,326.93 L308.43,326.43 L309.76,325.89 L311.1,325.34 L312.44,324.81 L313.77,324.28 L315.11,323.81 L316.45,323.37 L317.79,323.06 L319.12,322.83 L320.46,322.73 L321.8,322.83 L323.14,323.02 L324.48,323.37 L325.81,323.79 L327.15,324.28 L328.49,324.84 L329.83,325.41 L331.16,325.99 L332.5,326.57 L333.83,327.15 L335.17,327.6 L336.5,328.04 L337.84,328.48 L339.17,328.71 L340.51,328.87 L341.84,329.03 L343.17,329.11 L344.51,329.13 M24,328.33 L25.34,328.36 L26.67,328.4 L28.01,328.43 L29.34,328.47 L30.68,328.5 L32.01,328.53 L33.35,328.57 L34.68,328.61 L36.02,328.66 L37.35,328.71 L38.69,328.76 L40.02,328.82 L41.36,328.88 L42.7,328.95 L44.03,329.02 L45.37,329.09 L46.7,329.16 L48.04,329.23 L49.37,329.3 L50.71,329.37 L52.04,329.44 L53.38,329.51 L54.71,329.57 L56.05,329.63 L57.39,329.69 L58.72,329.74 L60.06,329.79 L61.39,329.84 L62.73,329.89 L64.06,329.93 L65.4,329.98 L66.73,330.01 L68.06,330.02 L69.39,330.04 L70.72,330.05 L72.06,330.05 L73.39,330.06 L74.72,330.06 L76.06,330.05 L77.39,330.03 L78.72,330 L80.06,329.98 L81.4,329.95 L82.73,329.91 L84.07,329.88 L85.41,329.85 L86.74,329.82 L88.08,329.8 L89.42,329.79 L90.76,329.78 L92.1,329.78 L93.44,329.78 L94.78,329.8 L96.12,329.82 L97.46,329.85 L98.8,329.88 L100.14,329.92 L101.47,329.97 L102.81,330.01 L104.15,330.07 L105.49,330.13 L106.82,330.19 L108.16,330.25 L109.49,330.31 L110.83,330.36 L112.16,330.42 L113.5,330.46 L114.83,330.49 L116.16,330.52 L117.49,330.55 L118.83,330.57 L120.16,330.58 L121.49,330.59 L122.82,330.62 L124.15,330.64 L125.47,330.67 L126.8,330.7 L128.12,330.72 L129.45,330.73 L130.78,330.73 L132.1,330.73 L133.43,330.7 L134.77,330.66 L136.1,330.6 L137.44,330.55 L138.77,330.47 L140.11,330.4 L141.45,330.32 L142.79,330.25 L144.14,330.18 L145.48,330.12 L146.83,330.08 L148.17,330.05 L149.52,330.04 L150.87,330.04 L152.21,330.06 L153.56,330.1 L154.9,330.16 L156.25,330.24 L157.59,330.33 L158.94,330.44 L160.28,330.57 L161.62,330.7 L162.96,330.85 L164.29,330.99 L165.63,331.12 L166.96,331.24 L168.29,331.37 L169.62,331.47 L170.95,331.53 L172.28,331.6 L173.61,331.65 L174.93,331.69 L176.26,331.72 L177.58,331.75 L178.91,331.78 L180.24,331.8 L181.55,331.82 L182.86,331.84 L184.17,331.86 L185.48,331.84 L186.79,331.8 L188.11,331.76 L189.43,331.7 L190.75,331.56 L192.08,331.4 L193.41,331.23 L194.75,331.03 L196.09,330.8 L197.43,330.57 L198.78,330.33 L200.14,330.11 L201.49,329.9 L202.85,329.72 L204.22,329.58 L205.58,329.47 L206.94,329.4 L208.31,329.4 L209.67,329.45 L211.04,329.55 L212.4,329.68 L213.76,329.88 L215.11,330.1 L216.46,330.36 L217.81,330.64 L219.15,330.93 L220.49,331.23 L221.83,331.48 L223.16,331.73 L224.48,331.98 L225.81,332.17 L227.12,332.28 L228.44,332.38 L229.75,332.47 L231.06,332.52 L232.37,332.54 L233.67,332.56 L235,332.58 L236.33,332.58 L237.66,332.59 L238.95,332.59 L240.23,332.6 L241.52,332.57 L242.81,332.47 L244.11,332.36 L245.42,332.25 L246.73,332.03 L248.04,331.69 L249.37,331.36 L250.7,331.02 L252.04,330.6 L253.39,330.16 L254.75,329.72 L256.11,329.29 L257.48,328.9 L258.86,328.54 L260.24,328.27 L261.62,328.06 L263.01,327.96 L264.4,327.95 L265.78,328.05 L267.17,328.26 L268.55,328.54 L269.92,328.88 L271.3,329.28 L272.66,329.71 L274.02,330.16 L275.37,330.61 L276.71,331.05 L278.05,331.4 L279.37,331.74 L280.69,332.09 L282,332.35 L283.31,332.47 L284.61,332.58 L285.9,332.7 L287.19,332.74 L288.47,332.75 L289.76,332.75 L291.08,332.76 L292.42,332.77 L293.75,332.78 L295.07,332.8 L296.35,332.82 L297.64,332.83 L298.93,332.78 L300.22,332.68 L301.52,332.57 L302.83,332.47 L304.14,332.16 L305.46,331.82 L306.79,331.48 L308.13,331.12 L309.47,330.67 L310.82,330.22 L312.18,329.77 L313.55,329.35 L314.92,328.97 L316.3,328.65 L317.68,328.39 L319.07,328.23 L320.45,328.14 L321.84,328.22 L323.23,328.38 L324.61,328.65 L325.99,328.96 L327.36,329.37 L328.73,329.81 L330.09,330.29 L331.45,330.77 L332.8,331.26 L334.14,331.69 L335.47,332.06 L336.79,332.44 L338.11,332.8 L339.41,333 L340.72,333.14 L342.01,333.27 L343.3,333.4 L344.59,333.42 M24,333.19 L25.34,333.23 L26.67,333.27 L28.01,333.3 L29.34,333.34 L30.68,333.37 L32.01,333.41 L33.35,333.45 L34.68,333.49 L36.02,333.53 L37.35,333.58 L38.69,333.63 L40.02,333.68 L41.36,333.73 L42.7,333.79 L44.03,333.85 L45.37,333.91 L46.7,333.96 L48.04,334.02 L49.37,334.08 L50.71,334.13 L52.04,334.19 L53.38,334.24 L54.71,334.29 L56.05,334.35 L57.39,334.39 L58.72,334.44 L60.06,334.48 L61.39,334.53 L62.73,334.57 L64.06,334.61 L65.4,334.65 L66.73,334.67 L68.06,334.69 L69.39,334.7 L70.72,334.71 L72.05,334.71 L73.38,334.72 L74.71,334.72 L76.04,334.72 L77.37,334.71 L78.71,334.7 L80.04,334.69 L81.38,334.67 L82.71,334.66 L84.05,334.64 L85.39,334.62 L86.73,334.61 L88.07,334.6 L89.41,334.6 L90.75,334.59 L92.1,334.6 L93.44,334.6 L94.78,334.62 L96.12,334.63 L97.46,334.65 L98.81,334.68 L100.15,334.71 L101.49,334.74 L102.83,334.77 L104.17,334.81 L105.5,334.85 L106.84,334.89 L108.18,334.93 L109.51,334.97 L110.85,335.01 L112.18,335.05 L113.51,335.08 L114.84,335.1 L116.17,335.13 L117.5,335.15 L118.83,335.17 L120.16,335.18 L121.49,335.2 L122.82,335.22 L124.14,335.24 L125.46,335.26 L126.78,335.29 L128.1,335.3 L129.42,335.31 L130.74,335.32 L132.06,335.32 L133.39,335.31 L134.72,335.28 L136.05,335.25 L137.39,335.22 L138.73,335.18 L140.07,335.14 L141.41,335.09 L142.76,335.04 L144.1,335 L145.45,334.97 L146.81,334.94 L148.16,334.93 L149.51,334.92 L150.87,334.93 L152.22,334.94 L153.57,334.98 L154.93,335.02 L156.28,335.08 L157.63,335.15 L158.97,335.23 L160.32,335.32 L161.66,335.42 L163,335.52 L164.34,335.62 L165.68,335.71 L167.01,335.81 L168.34,335.9 L169.66,335.98 L170.99,336.03 L172.31,336.08 L173.63,336.13 L174.95,336.17 L176.27,336.2 L177.59,336.22 L178.91,336.25 L180.24,336.27 L181.53,336.29 L182.82,336.3 L184.11,336.31 L185.41,336.29 L186.71,336.26 L188.01,336.23 L189.32,336.19 L190.64,336.08 L191.96,335.96 L193.29,335.83 L194.63,335.7 L195.97,335.53 L197.33,335.36 L198.69,335.18 L200.05,335.01 L201.42,334.86 L202.8,334.73 L204.18,334.62 L205.56,334.53 L206.94,334.48 L208.32,334.48 L209.7,334.51 L211.09,334.58 L212.46,334.69 L213.84,334.82 L215.2,334.99 L216.57,335.19 L217.92,335.4 L219.27,335.63 L220.61,335.84 L221.95,336.03 L223.27,336.23 L224.59,336.43 L225.91,336.59 L227.21,336.67 L228.52,336.75 L229.81,336.84 L231.1,336.91 L232.39,336.93 L233.68,336.94 L235,336.96 L236.33,336.96 L237.66,336.97 L238.91,336.97 L240.17,336.97 L241.43,336.91 L242.69,336.82 L243.96,336.73 L245.25,336.64 L246.54,336.46 L247.85,336.18 L249.17,335.91 L250.5,335.63 L251.84,335.33 L253.2,334.97 L254.57,334.61 L255.96,334.26 L257.35,333.95 L258.75,333.7 L260.16,333.48 L261.57,333.32 L262.99,333.24 L264.41,333.23 L265.83,333.31 L267.24,333.48 L268.65,333.69 L270.06,333.94 L271.45,334.26 L272.83,334.6 L274.21,334.97 L275.57,335.34 L276.91,335.66 L278.25,335.95 L279.57,336.23 L280.88,336.51 L282.17,336.73 L283.46,336.83 L284.73,336.93 L286,337.02 L287.26,337.11 L288.51,337.11 L289.77,337.11 L291.08,337.12 L292.42,337.12 L293.75,337.14 L295.05,337.15 L296.3,337.17 L297.56,337.17 L298.82,337.09 L300.09,337.01 L301.37,336.92 L302.65,336.84 L303.95,336.58 L305.26,336.31 L306.59,336.03 L307.92,335.75 L309.28,335.41 L310.64,335.04 L312.01,334.68 L313.4,334.34 L314.8,334.04 L316.2,333.81 L317.61,333.62 L319.03,333.49 L320.45,333.42 L321.87,333.49 L323.28,333.62 L324.7,333.82 L326.1,334.07 L327.5,334.38 L328.89,334.73 L330.27,335.11 L331.64,335.51 L333,335.91 L334.34,336.22 L335.67,336.53 L336.98,336.84 L338.29,337.14 L339.58,337.31 L340.86,337.42 L342.13,337.53 L343.39,337.64 L344.65,337.71 M24,338.05 L25.34,338.09 L26.67,338.12 L28.01,338.16 L29.34,338.19 L30.68,338.23 L32.01,338.26 L33.35,338.3 L34.68,338.34 L36.02,338.38 L37.35,338.42 L38.69,338.46 L40.02,338.51 L41.36,338.56 L42.7,338.6 L44.03,338.66 L45.37,338.7 L46.7,338.75 L48.04,338.79 L49.37,338.84 L50.71,338.88 L52.04,338.92 L53.38,338.97 L54.71,339.01 L56.05,339.06 L57.39,339.09 L58.72,339.13 L60.06,339.17 L61.39,339.21 L62.73,339.25 L64.06,339.28 L65.4,339.32 L66.73,339.34 L68.05,339.35 L69.38,339.36 L70.71,339.37 L72.04,339.37 L73.37,339.38 L74.7,339.39 L76.03,339.39 L77.36,339.38 L78.7,339.38 L80.03,339.38 L81.37,339.37 L82.7,339.37 L84.04,339.36 L85.38,339.35 L86.72,339.35 L88.06,339.35 L89.41,339.34 L90.75,339.35 L92.09,339.35 L93.44,339.36 L94.78,339.37 L96.12,339.38 L97.47,339.4 L98.81,339.42 L100.15,339.44 L101.49,339.46 L102.83,339.49 L104.17,339.51 L105.51,339.54 L106.85,339.57 L108.19,339.6 L109.52,339.62 L110.86,339.65 L112.19,339.68 L113.52,339.7 L114.85,339.72 L116.18,339.74 L117.51,339.75 L118.84,339.77 L120.17,339.78 L121.49,339.8 L122.82,339.81 L124.14,339.83 L125.45,339.86 L126.76,339.87 L128.08,339.89 L129.4,339.9 L130.72,339.91 L132.04,339.92 L133.37,339.91 L134.69,339.9 L136.03,339.88 L137.36,339.87 L138.7,339.85 L140.04,339.82 L141.39,339.8 L142.73,339.77 L144.09,339.75 L145.44,339.73 L146.79,339.72 L148.15,339.71 L149.51,339.71 L150.87,339.72 L152.22,339.73 L153.58,339.76 L154.94,339.79 L156.29,339.83 L157.65,339.88 L159,339.94 L160.34,340.01 L161.69,340.08 L163.03,340.15 L164.37,340.22 L165.7,340.29 L167.04,340.36 L168.36,340.43 L169.69,340.49 L171.01,340.53 L172.33,340.57 L173.65,340.61 L174.96,340.64 L176.28,340.67 L177.59,340.69 L178.91,340.72 L180.24,340.74 L181.52,340.75 L182.8,340.77 L184.08,340.76 L185.37,340.74 L186.66,340.73 L187.96,340.71 L189.26,340.67 L190.57,340.6 L191.89,340.51 L193.22,340.42 L194.56,340.32 L195.91,340.21 L197.26,340.08 L198.63,339.95 L200,339.83 L201.38,339.72 L202.76,339.62 L204.15,339.54 L205.54,339.48 L206.94,339.44 L208.33,339.43 L209.72,339.46 L211.11,339.51 L212.5,339.58 L213.88,339.67 L215.26,339.8 L216.63,339.95 L217.99,340.11 L219.34,340.28 L220.68,340.42 L222.02,340.57 L223.34,340.73 L224.66,340.88 L225.97,341.01 L227.27,341.07 L228.56,341.14 L229.85,341.21 L231.13,341.28 L232.41,341.31 L233.69,341.33 L235,341.34 L236.33,341.34 L237.66,341.35 L238.89,341.35 L240.13,341.33 L241.37,341.26 L242.62,341.19 L243.88,341.12 L245.15,341.04 L246.44,340.9 L247.74,340.68 L249.05,340.45 L250.38,340.23 L251.73,340 L253.09,339.73 L254.47,339.44 L255.87,339.18 L257.27,338.94 L258.69,338.75 L260.11,338.59 L261.55,338.46 L262.98,338.4 L264.42,338.39 L265.86,338.46 L267.29,338.59 L268.71,338.75 L270.13,338.94 L271.54,339.18 L272.93,339.44 L274.32,339.74 L275.68,340.03 L277.03,340.26 L278.36,340.49 L279.68,340.72 L280.98,340.95 L282.27,341.12 L283.54,341.2 L284.81,341.28 L286.06,341.36 L287.3,341.44 L288.54,341.47 L289.77,341.47 L291.08,341.48 L292.42,341.48 L293.75,341.5 L295.04,341.51 L296.28,341.52 L297.51,341.49 L298.76,341.42 L300.01,341.36 L301.28,341.29 L302.55,341.22 L303.84,341.01 L305.15,340.79 L306.47,340.57 L307.81,340.34 L309.16,340.11 L310.53,339.81 L311.92,339.53 L313.32,339.27 L314.73,339.06 L316.15,338.88 L317.57,338.73 L319.01,338.63 L320.44,338.58 L321.88,338.63 L323.32,338.73 L324.75,338.89 L326.17,339.09 L327.58,339.3 L328.99,339.58 L330.38,339.89 L331.75,340.21 L333.11,340.49 L334.46,340.74 L335.78,340.99 L337.09,341.24 L338.39,341.49 L339.67,341.62 L340.94,341.72 L342.2,341.81 L343.44,341.9 L344.68,341.99 M24,342.9 L25.34,342.94 L26.67,342.97 L28.01,343 L29.34,343.04 L30.68,343.07 L32.01,343.1 L33.35,343.14 L34.68,343.17 L36.02,343.21 L37.35,343.24 L38.69,343.28 L40.02,343.32 L41.36,343.36 L42.7,343.4 L44.03,343.44 L45.37,343.48 L46.7,343.52 L48.04,343.55 L49.37,343.59 L50.71,343.62 L52.04,343.66 L53.38,343.69 L54.71,343.73 L56.05,343.76 L57.39,343.8 L58.72,343.83 L60.06,343.86 L61.39,343.89 L62.73,343.93 L64.06,343.96 L65.4,343.99 L66.73,344.01 L68.05,344.01 L69.38,344.02 L70.71,344.03 L72.04,344.04 L73.37,344.04 L74.7,344.05 L76.03,344.05 L77.36,344.05 L78.69,344.05 L80.03,344.05 L81.36,344.05 L82.7,344.05 L84.04,344.05 L85.38,344.05 L86.72,344.05 L88.06,344.05 L89.4,344.06 L90.75,344.06 L92.09,344.07 L93.44,344.07 L94.78,344.08 L96.12,344.09 L97.47,344.11 L98.81,344.12 L100.15,344.14 L101.5,344.15 L102.84,344.17 L104.18,344.19 L105.52,344.21 L106.85,344.22 L108.19,344.24 L109.53,344.26 L110.86,344.28 L112.19,344.3 L113.52,344.32 L114.85,344.33 L116.18,344.35 L117.51,344.36 L118.84,344.37 L120.17,344.39 L121.49,344.4 L122.82,344.41 L124.14,344.43 L125.45,344.45 L126.76,344.46 L128.07,344.47 L129.39,344.48 L130.71,344.49 L132.03,344.5 L133.36,344.51 L134.68,344.5 L136.02,344.5 L137.35,344.49 L138.69,344.48 L140.03,344.47 L141.38,344.46 L142.73,344.45 L144.08,344.44 L145.43,344.43 L146.79,344.42 L148.15,344.42 L149.51,344.43 L150.87,344.43 L152.23,344.45 L153.58,344.47 L154.94,344.49 L156.3,344.52 L157.65,344.56 L159,344.6 L160.35,344.65 L161.7,344.7 L163.04,344.75 L164.38,344.8 L165.71,344.85 L167.04,344.9 L168.37,344.95 L169.7,344.99 L171.02,345.02 L172.34,345.06 L173.65,345.09 L174.97,345.12 L176.28,345.15 L177.59,345.17 L178.91,345.18 L180.24,345.2 L181.52,345.21 L182.79,345.22 L184.07,345.21 L185.35,345.2 L186.64,345.19 L187.94,345.18 L189.24,345.16 L190.55,345.1 L191.87,345.04 L193.2,344.98 L194.54,344.91 L195.88,344.84 L197.24,344.75 L198.61,344.66 L199.98,344.57 L201.36,344.49 L202.75,344.43 L204.14,344.37 L205.54,344.32 L206.94,344.29 L208.33,344.29 L209.73,344.3 L211.12,344.34 L212.51,344.39 L213.9,344.46 L215.28,344.54 L216.65,344.65 L218.01,344.77 L219.36,344.88 L220.71,344.98 L222.04,345.1 L223.37,345.22 L224.68,345.34 L225.99,345.43 L227.28,345.48 L228.58,345.54 L229.86,345.59 L231.14,345.65 L232.42,345.69 L233.69,345.71 L235,345.72 L236.33,345.72 L237.66,345.73 L238.88,345.73 L240.11,345.69 L241.35,345.63 L242.59,345.57 L243.85,345.52 L245.12,345.46 L246.4,345.34 L247.69,345.16 L249.01,344.99 L250.34,344.81 L251.69,344.64 L253.05,344.45 L254.44,344.23 L255.83,344.03 L257.24,343.86 L258.67,343.72 L260.1,343.6 L261.53,343.5 L262.98,343.45 L264.42,343.44 L265.86,343.5 L267.3,343.6 L268.74,343.72 L270.16,343.86 L271.57,344.03 L272.97,344.23 L274.36,344.46 L275.72,344.66 L277.07,344.84 L278.41,345.02 L279.72,345.2 L281.02,345.39 L282.31,345.52 L283.58,345.59 L284.83,345.65 L286.08,345.72 L287.31,345.78 L288.55,345.83 L289.77,345.84 L291.08,345.84 L292.42,345.84 L293.75,345.85 L295.04,345.87 L296.27,345.87 L297.5,345.82 L298.74,345.77 L299.98,345.71 L301.24,345.66 L302.52,345.61 L303.8,345.45 L305.11,345.27 L306.43,345.09 L307.77,344.92 L309.12,344.74 L310.49,344.53 L311.88,344.32 L313.28,344.12 L314.7,343.97 L316.12,343.84 L317.56,343.74 L319,343.65 L320.44,343.61 L321.89,343.66 L323.33,343.74 L324.77,343.87 L326.2,344.01 L327.61,344.18 L329.02,344.38 L330.41,344.61 L331.79,344.85 L333.15,345.05 L334.5,345.25 L335.83,345.45 L337.13,345.65 L338.43,345.85 L339.71,345.95 L340.97,346.03 L342.22,346.1 L343.46,346.18 L344.7,346.25 M24,347.76 L25.34,347.79 L26.67,347.81 L28.01,347.84 L29.34,347.87 L30.68,347.9 L32.01,347.93 L33.35,347.96 L34.68,347.99 L36.02,348.02 L37.35,348.05 L38.69,348.08 L40.02,348.11 L41.36,348.15 L42.7,348.18 L44.03,348.21 L45.37,348.25 L46.7,348.27 L48.04,348.3 L49.37,348.33 L50.71,348.36 L52.04,348.39 L53.38,348.41 L54.71,348.44 L56.05,348.47 L57.39,348.5 L58.72,348.52 L60.06,348.55 L61.39,348.58 L62.73,348.6 L64.06,348.63 L65.4,348.66 L66.73,348.67 L68.05,348.68 L69.38,348.69 L70.71,348.69 L72.04,348.7 L73.37,348.7 L74.7,348.71 L76.03,348.71 L77.36,348.72 L78.69,348.72 L80.03,348.72 L81.37,348.72 L82.7,348.73 L84.04,348.73 L85.38,348.73 L86.72,348.73 L88.06,348.74 L89.41,348.74 L90.75,348.75 L92.09,348.75 L93.44,348.76 L94.78,348.77 L96.12,348.77 L97.47,348.78 L98.81,348.79 L100.15,348.81 L101.5,348.82 L102.84,348.83 L104.18,348.84 L105.52,348.86 L106.85,348.87 L108.19,348.88 L109.52,348.9 L110.86,348.91 L112.19,348.92 L113.52,348.94 L114.85,348.95 L116.18,348.96 L117.51,348.97 L118.84,348.98 L120.17,348.99 L121.49,349 L122.82,349.01 L124.14,349.02 L125.45,349.04 L126.76,349.05 L128.08,349.06 L129.39,349.07 L130.71,349.08 L132.03,349.09 L133.36,349.1 L134.69,349.1 L136.02,349.1 L137.35,349.1 L138.69,349.1 L140.04,349.09 L141.38,349.09 L142.73,349.09 L144.08,349.08 L145.44,349.08 L146.79,349.08 L148.15,349.08 L149.51,349.09 L150.87,349.1 L152.22,349.11 L153.58,349.13 L154.94,349.14 L156.3,349.17 L157.65,349.19 L159,349.22 L160.35,349.26 L161.69,349.29 L163.04,349.32 L164.37,349.36 L165.71,349.39 L167.04,349.43 L168.37,349.47 L169.69,349.5 L171.01,349.52 L172.33,349.55 L173.65,349.57 L174.96,349.6 L176.28,349.62 L177.59,349.64 L178.91,349.65 L180.24,349.67 L181.52,349.68 L182.8,349.68 L184.08,349.67 L185.36,349.67 L186.65,349.66 L187.94,349.65 L189.25,349.64 L190.56,349.6 L191.88,349.56 L193.21,349.52 L194.55,349.47 L195.89,349.42 L197.25,349.37 L198.62,349.31 L199.99,349.25 L201.37,349.2 L202.76,349.15 L204.15,349.11 L205.54,349.07 L206.94,349.05 L208.33,349.05 L209.73,349.06 L211.12,349.09 L212.51,349.12 L213.89,349.17 L215.27,349.23 L216.64,349.3 L218,349.38 L219.35,349.45 L220.7,349.53 L222.03,349.61 L223.35,349.7 L224.67,349.79 L225.98,349.86 L227.28,349.9 L228.57,349.94 L229.85,349.98 L231.14,350.03 L232.41,350.07 L233.69,350.09 L235,350.1 L236.33,350.1 L237.66,350.1 L238.89,350.1 L240.12,350.05 L241.36,350.01 L242.61,349.96 L243.86,349.92 L245.13,349.88 L246.41,349.79 L247.71,349.65 L249.03,349.52 L250.36,349.38 L251.71,349.25 L253.07,349.12 L254.45,348.97 L255.85,348.82 L257.26,348.7 L258.68,348.6 L260.1,348.52 L261.54,348.44 L262.98,348.4 L264.42,348.4 L265.86,348.44 L267.3,348.52 L268.73,348.61 L270.15,348.71 L271.56,348.83 L272.96,348.97 L274.34,349.13 L275.71,349.27 L277.06,349.41 L278.39,349.55 L279.71,349.69 L281.01,349.83 L282.29,349.93 L283.56,349.98 L284.82,350.03 L286.07,350.08 L287.31,350.13 L288.54,350.18 L289.77,350.2 L291.08,350.2 L292.42,350.2 L293.75,350.21 L295.04,350.22 L296.27,350.2 L297.5,350.16 L298.75,350.12 L300,350.08 L301.26,350.04 L302.53,350 L303.82,349.88 L305.13,349.75 L306.45,349.61 L307.78,349.48 L309.14,349.34 L310.51,349.21 L311.9,349.06 L313.3,348.92 L314.71,348.81 L316.13,348.72 L317.57,348.64 L319,348.58 L320.44,348.55 L321.88,348.58 L323.32,348.65 L324.76,348.74 L326.18,348.85 L327.6,348.97 L329.01,349.11 L330.4,349.28 L331.78,349.44 L333.14,349.59 L334.48,349.75 L335.81,349.9 L337.12,350.05 L338.41,350.2 L339.69,350.29 L340.96,350.35 L342.21,350.4 L343.45,350.46 L344.69,350.52 M24,352.61 L25.34,352.63 L26.67,352.65 L28.01,352.68 L29.34,352.7 L30.68,352.73 L32.01,352.75 L33.35,352.77 L34.68,352.8 L36.02,352.82 L37.35,352.85 L38.69,352.87 L40.02,352.9 L41.36,352.93 L42.7,352.95 L44.03,352.98 L45.37,353 L46.7,353.02 L48.04,353.05 L49.37,353.07 L50.71,353.09 L52.04,353.11 L53.38,353.13 L54.71,353.16 L56.05,353.18 L57.39,353.2 L58.72,353.22 L60.06,353.24 L61.39,353.26 L62.73,353.28 L64.06,353.3 L65.4,353.32 L66.73,353.34 L68.06,353.34 L69.38,353.35 L70.71,353.35 L72.04,353.36 L73.37,353.36 L74.7,353.37 L76.03,353.37 L77.37,353.38 L78.7,353.38 L80.04,353.38 L81.37,353.39 L82.71,353.39 L84.05,353.39 L85.39,353.4 L86.73,353.4 L88.07,353.4 L89.41,353.41 L90.75,353.41 L92.09,353.42 L93.44,353.42 L94.78,353.43 L96.12,353.44 L97.47,353.44 L98.81,353.45 L100.15,353.46 L101.49,353.47 L102.83,353.48 L104.17,353.49 L105.51,353.49 L106.85,353.5 L108.18,353.51 L109.52,353.52 L110.85,353.53 L112.19,353.54 L113.52,353.55 L114.85,353.56 L116.18,353.57 L117.51,353.57 L118.84,353.58 L120.17,353.59 L121.49,353.6 L122.82,353.61 L124.14,353.62 L125.45,353.63 L126.77,353.64 L128.09,353.65 L129.4,353.66 L130.73,353.67 L132.05,353.68 L133.37,353.68 L134.7,353.69 L136.04,353.69 L137.37,353.69 L138.71,353.69 L140.05,353.7 L141.4,353.7 L142.74,353.7 L144.09,353.7 L145.44,353.7 L146.8,353.7 L148.15,353.71 L149.51,353.71 L150.87,353.72 L152.22,353.73 L153.58,353.74 L154.93,353.76 L156.29,353.77 L157.64,353.79 L158.99,353.81 L160.33,353.84 L161.68,353.86 L163.02,353.88 L164.36,353.9 L165.69,353.93 L167.03,353.95 L168.35,353.98 L169.68,354 L171,354.02 L172.32,354.04 L173.64,354.06 L174.96,354.08 L176.27,354.09 L177.59,354.11 L178.91,354.12 L180.24,354.13 L181.53,354.14 L182.81,354.14 L184.09,354.14 L185.38,354.14 L186.68,354.13 L187.98,354.13 L189.28,354.12 L190.6,354.1 L191.92,354.07 L193.25,354.04 L194.59,354.01 L195.93,353.98 L197.29,353.95 L198.65,353.91 L200.02,353.87 L201.4,353.84 L202.78,353.81 L204.16,353.78 L205.55,353.76 L206.94,353.74 L208.33,353.74 L209.72,353.75 L211.1,353.76 L212.49,353.79 L213.86,353.82 L215.24,353.86 L216.6,353.91 L217.96,353.95 L219.31,354 L220.66,354.06 L221.99,354.11 L223.32,354.18 L224.63,354.24 L225.94,354.29 L227.25,354.32 L228.54,354.35 L229.83,354.38 L231.12,354.41 L232.4,354.44 L233.69,354.47 L235,354.48 L236.33,354.48 L237.66,354.48 L238.9,354.46 L240.14,354.43 L241.39,354.4 L242.65,354.36 L243.91,354.33 L245.19,354.3 L246.48,354.23 L247.78,354.13 L249.1,354.03 L250.43,353.94 L251.77,353.84 L253.14,353.74 L254.51,353.65 L255.9,353.56 L257.3,353.48 L258.71,353.41 L260.13,353.35 L261.56,353.29 L262.99,353.26 L264.42,353.26 L265.85,353.29 L267.27,353.35 L268.69,353.41 L270.1,353.49 L271.51,353.57 L272.9,353.66 L274.27,353.76 L275.64,353.85 L276.99,353.96 L278.32,354.06 L279.64,354.16 L280.94,354.27 L282.23,354.34 L283.51,354.38 L284.78,354.42 L286.03,354.45 L287.28,354.49 L288.53,354.53 L289.77,354.56 L291.08,354.56 L292.42,354.56 L293.75,354.57 L295.04,354.57 L296.29,354.55 L297.53,354.52 L298.78,354.49 L300.04,354.46 L301.31,354.43 L302.59,354.4 L303.88,354.31 L305.19,354.21 L306.52,354.11 L307.85,354.02 L309.21,353.92 L310.57,353.83 L311.95,353.73 L313.35,353.65 L314.75,353.58 L316.17,353.51 L317.59,353.45 L319.02,353.41 L320.45,353.39 L321.88,353.42 L323.3,353.46 L324.73,353.53 L326.14,353.61 L327.55,353.7 L328.95,353.79 L330.34,353.91 L331.71,354 L333.07,354.11 L334.41,354.23 L335.74,354.34 L337.05,354.45 L338.35,354.56 L339.64,354.63 L340.91,354.67 L342.17,354.71 L343.42,354.76 L344.67,354.8 M24,357.46 L25.34,357.47 L26.67,357.49 L28.01,357.51 L29.34,357.53 L30.68,357.55 L32.01,357.57 L33.35,357.58 L34.68,357.6 L36.02,357.62 L37.35,357.64 L38.69,357.66 L40.02,357.68 L41.36,357.7 L42.7,357.72 L44.03,357.74 L45.37,357.76 L46.7,357.77 L48.04,357.79 L49.37,357.8 L50.71,357.82 L52.04,357.84 L53.38,357.85 L54.71,357.87 L56.05,357.88 L57.39,357.9 L58.72,357.92 L60.06,357.93 L61.39,357.95 L62.73,357.96 L64.06,357.98 L65.4,357.99 L66.73,358 L68.06,358.01 L69.39,358.01 L70.72,358.02 L72.05,358.02 L73.38,358.02 L74.71,358.03 L76.04,358.03 L77.38,358.03 L78.71,358.04 L80.04,358.04 L81.38,358.04 L82.72,358.05 L84.06,358.05 L85.39,358.05 L86.73,358.06 L88.07,358.06 L89.41,358.06 L90.75,358.07 L92.1,358.07 L93.44,358.08 L94.78,358.08 L96.12,358.09 L97.46,358.09 L98.8,358.1 L100.14,358.1 L101.48,358.11 L102.82,358.11 L104.16,358.12 L105.5,358.13 L106.84,358.13 L108.17,358.14 L109.51,358.14 L110.84,358.15 L112.18,358.16 L113.51,358.16 L114.84,358.17 L116.17,358.18 L117.5,358.18 L118.83,358.19 L120.16,358.19 L121.49,358.2 L122.82,358.21 L124.14,358.21 L125.46,358.22 L126.78,358.23 L128.1,358.24 L129.42,358.25 L130.75,358.25 L132.07,358.26 L133.4,358.27 L134.73,358.27 L136.06,358.27 L137.4,358.28 L138.73,358.28 L140.07,358.28 L141.42,358.29 L142.76,358.29 L144.11,358.29 L145.46,358.3 L146.81,358.3 L148.16,358.3 L149.51,358.31 L150.87,358.32 L152.22,358.32 L153.57,358.33 L154.92,358.34 L156.27,358.35 L157.62,358.37 L158.97,358.38 L160.31,358.39 L161.65,358.41 L163,358.42 L164.33,358.44 L165.67,358.46 L167,358.47 L168.33,358.49 L169.66,358.51 L170.98,358.52 L172.31,358.53 L173.63,358.54 L174.95,358.56 L176.27,358.57 L177.59,358.58 L178.91,358.59 L180.24,358.6 L181.54,358.6 L182.83,358.6 L184.12,358.6 L185.42,358.6 L186.72,358.6 L188.03,358.6 L189.34,358.6 L190.66,358.58 L191.98,358.56 L193.31,358.55 L194.65,358.53 L196,358.51 L197.35,358.49 L198.7,358.47 L200.07,358.45 L201.44,358.43 L202.81,358.41 L204.18,358.4 L205.56,358.38 L206.94,358.37 L208.32,358.37 L209.7,358.37 L211.08,358.39 L212.45,358.4 L213.82,358.42 L215.19,358.45 L216.55,358.47 L217.9,358.5 L219.25,358.53 L220.59,358.56 L221.93,358.6 L223.25,358.64 L224.57,358.69 L225.89,358.72 L227.2,358.74 L228.5,358.76 L229.8,358.78 L231.1,358.8 L232.39,358.83 L233.68,358.85 L235,358.86 L236.33,358.86 L237.66,358.86 L238.92,358.84 L240.18,358.81 L241.44,358.79 L242.71,358.77 L243.99,358.75 L245.28,358.72 L246.58,358.68 L247.88,358.61 L249.2,358.54 L250.54,358.47 L251.88,358.41 L253.24,358.35 L254.61,358.3 L255.99,358.24 L257.37,358.19 L258.77,358.15 L260.18,358.1 L261.58,358.06 L263,358.04 L264.41,358.04 L265.82,358.06 L267.23,358.1 L268.63,358.15 L270.03,358.2 L271.42,358.25 L272.8,358.31 L274.17,358.36 L275.53,358.42 L276.88,358.49 L278.21,358.56 L279.53,358.63 L280.84,358.7 L282.14,358.76 L283.43,358.78 L284.71,358.81 L285.98,358.83 L287.25,358.86 L288.51,358.88 L289.77,358.91 L291.08,358.92 L292.42,358.92 L293.75,358.93 L295.05,358.92 L296.31,358.9 L297.57,358.88 L298.84,358.86 L300.11,358.84 L301.39,358.82 L302.69,358.8 L303.99,358.74 L305.3,358.67 L306.62,358.61 L307.96,358.54 L309.31,358.48 L310.67,358.42 L312.05,358.37 L313.43,358.32 L314.82,358.27 L316.22,358.23 L317.63,358.19 L319.04,358.16 L320.45,358.14 L321.86,358.16 L323.27,358.2 L324.68,358.25 L326.08,358.3 L327.48,358.36 L328.86,358.42 L330.24,358.48 L331.61,358.54 L332.96,358.61 L334.3,358.69 L335.63,358.77 L336.95,358.85 L338.25,358.93 L339.55,358.97 L340.83,359 L342.11,359.03 L343.38,359.06 L344.64,359.09 M24,362.31 L25.34,362.32 L26.67,362.33 L28.01,362.34 L29.34,362.35 L30.68,362.37 L32.01,362.38 L33.35,362.39 L34.68,362.4 L36.02,362.42 L37.35,362.43 L38.69,362.44 L40.02,362.45 L41.36,362.47 L42.7,362.48 L44.03,362.49 L45.37,362.51 L46.7,362.52 L48.04,362.53 L49.37,362.54 L50.71,362.55 L52.04,362.56 L53.38,362.57 L54.71,362.58 L56.05,362.59 L57.39,362.6 L58.72,362.61 L60.06,362.62 L61.39,362.63 L62.73,362.64 L64.06,362.65 L65.4,362.66 L66.73,362.67 L68.06,362.67 L69.39,362.67 L70.72,362.68 L72.06,362.68 L73.39,362.68 L74.72,362.69 L76.05,362.69 L77.39,362.69 L78.72,362.69 L80.06,362.7 L81.39,362.7 L82.73,362.7 L84.07,362.7 L85.4,362.71 L86.74,362.71 L88.08,362.71 L89.42,362.71 L90.76,362.72 L92.1,362.72 L93.44,362.72 L94.78,362.73 L96.12,362.73 L97.46,362.73 L98.8,362.74 L100.14,362.74 L101.48,362.74 L102.81,362.75 L104.15,362.75 L105.49,362.75 L106.83,362.76 L108.16,362.76 L109.5,362.77 L110.83,362.77 L112.17,362.77 L113.5,362.78 L114.83,362.78 L116.16,362.78 L117.5,362.79 L118.83,362.79 L120.16,362.79 L121.49,362.8 L122.82,362.8 L124.15,362.81 L125.47,362.81 L126.79,362.82 L128.12,362.83 L129.44,362.83 L130.77,362.84 L132.1,362.84 L133.43,362.85 L134.76,362.85 L136.09,362.85 L137.43,362.86 L138.77,362.86 L140.11,362.86 L141.45,362.87 L142.79,362.87 L144.13,362.87 L145.48,362.87 L146.82,362.88 L148.17,362.88 L149.52,362.89 L150.87,362.89 L152.21,362.9 L153.56,362.9 L154.91,362.91 L156.25,362.92 L157.6,362.92 L158.94,362.93 L160.28,362.94 L161.62,362.95 L162.96,362.96 L164.3,362.97 L165.63,362.98 L166.97,362.99 L168.3,363 L169.63,363.01 L170.96,363.01 L172.28,363.02 L173.61,363.03 L174.93,363.04 L176.26,363.05 L177.58,363.05 L178.91,363.06 L180.24,363.07 L181.55,363.07 L182.85,363.07 L184.16,363.07 L185.47,363.07 L186.78,363.07 L188.09,363.07 L189.41,363.07 L190.74,363.06 L192.06,363.05 L193.4,363.04 L194.73,363.03 L196.07,363.02 L197.42,363.01 L198.77,363 L200.13,362.99 L201.49,362.98 L202.85,362.97 L204.21,362.96 L205.58,362.96 L206.94,362.95 L208.31,362.95 L209.68,362.95 L211.04,362.96 L212.4,362.97 L213.77,362.98 L215.12,362.99 L216.48,363.01 L217.82,363.02 L219.17,363.04 L220.51,363.06 L221.84,363.08 L223.17,363.1 L224.5,363.13 L225.82,363.15 L227.14,363.16 L228.45,363.17 L229.76,363.19 L231.07,363.2 L232.37,363.21 L233.68,363.23 L235,363.24 L236.33,363.24 L237.66,363.23 L238.94,363.22 L240.22,363.2 L241.51,363.19 L242.8,363.18 L244.09,363.16 L245.39,363.15 L246.7,363.12 L248.02,363.08 L249.34,363.04 L250.68,363 L252.02,362.96 L253.37,362.92 L254.73,362.9 L256.1,362.87 L257.47,362.84 L258.85,362.82 L260.23,362.79 L261.62,362.77 L263.01,362.76 L264.4,362.75 L265.79,362.77 L267.18,362.79 L268.56,362.82 L269.94,362.85 L271.31,362.88 L272.68,362.91 L274.04,362.93 L275.39,362.97 L276.74,363.01 L278.07,363.05 L279.4,363.1 L280.71,363.14 L282.02,363.17 L283.33,363.19 L284.62,363.2 L285.91,363.22 L287.2,363.24 L288.48,363.25 L289.76,363.27 L291.08,363.28 L292.42,363.28 L293.75,363.28 L295.06,363.27 L296.34,363.26 L297.63,363.25 L298.91,363.24 L300.21,363.23 L301.5,363.21 L302.81,363.2 L304.12,363.17 L305.44,363.12 L306.76,363.08 L308.1,363.04 L309.45,363.01 L310.8,362.98 L312.16,362.96 L313.53,362.93 L314.91,362.9 L316.29,362.88 L317.67,362.85 L319.06,362.83 L320.45,362.83 L321.84,362.84 L323.23,362.86 L324.62,362.89 L326,362.92 L327.38,362.96 L328.75,362.99 L330.12,363.02 L331.47,363.05 L332.82,363.1 L334.16,363.14 L335.49,363.19 L336.81,363.24 L338.13,363.29 L339.43,363.31 L340.73,363.33 L342.03,363.35 L343.32,363.37 L344.6,363.39 M24,367.15 L25.34,367.16 L26.67,367.17 L28.01,367.17 L29.34,367.18 L30.68,367.18 L32.01,367.19 L33.35,367.2 L34.68,367.2 L36.02,367.21 L37.35,367.22 L38.69,367.22 L40.02,367.23 L41.36,367.23 L42.7,367.24 L44.03,367.25 L45.37,367.25 L46.7,367.26 L48.04,367.26 L49.37,367.27 L50.71,367.27 L52.04,367.28 L53.38,367.28 L54.71,367.29 L56.05,367.3 L57.39,367.3 L58.72,367.31 L60.06,367.31 L61.39,367.32 L62.73,367.32 L64.06,367.33 L65.4,367.33 L66.73,367.33 L68.06,367.34 L69.4,367.34 L70.73,367.34 L72.06,367.34 L73.4,367.34 L74.73,367.34 L76.07,367.34 L77.4,367.35 L78.74,367.35 L80.07,367.35 L81.41,367.35 L82.74,367.35 L84.08,367.35 L85.42,367.35 L86.75,367.36 L88.09,367.36 L89.43,367.36 L90.76,367.36 L92.1,367.36 L93.44,367.36 L94.78,367.36 L96.12,367.37 L97.45,367.37 L98.79,367.37 L100.13,367.37 L101.47,367.37 L102.8,367.37 L104.14,367.38 L105.48,367.38 L106.81,367.38 L108.15,367.38 L109.48,367.38 L110.82,367.39 L112.15,367.39 L113.49,367.39 L114.82,367.39 L116.15,367.39 L117.49,367.39 L118.82,367.4 L120.15,367.4 L121.49,367.4 L122.82,367.4 L124.15,367.4 L125.48,367.41 L126.81,367.41 L128.14,367.41 L129.47,367.42 L130.8,367.42 L132.13,367.42 L133.46,367.42 L134.8,367.43 L136.13,367.43 L137.47,367.43 L138.8,367.43 L140.14,367.43 L141.48,367.44 L142.82,367.44 L144.16,367.44 L145.5,367.44 L146.84,367.44 L148.18,367.45 L149.52,367.45 L150.86,367.45 L152.21,367.45 L153.55,367.46 L154.89,367.46 L156.23,367.46 L157.57,367.47 L158.91,367.47 L160.25,367.47 L161.59,367.48 L162.92,367.48 L164.26,367.49 L165.6,367.49 L166.93,367.49 L168.26,367.5 L169.6,367.5 L170.93,367.51 L172.26,367.51 L173.59,367.51 L174.92,367.52 L176.25,367.52 L177.58,367.53 L178.91,367.53 L180.24,367.53 L181.56,367.53 L182.88,367.53 L184.2,367.53 L185.52,367.53 L186.85,367.54 L188.17,367.54 L189.5,367.54 L190.83,367.53 L192.16,367.53 L193.49,367.53 L194.83,367.52 L196.17,367.52 L197.51,367.51 L198.85,367.51 L200.2,367.51 L201.55,367.5 L202.89,367.5 L204.24,367.5 L205.6,367.49 L206.95,367.49 L208.3,367.49 L209.65,367.49 L211,367.5 L212.35,367.5 L213.7,367.5 L215.05,367.51 L216.39,367.51 L217.73,367.52 L219.07,367.53 L220.41,367.54 L221.75,367.55 L223.08,367.56 L224.41,367.57 L225.74,367.58 L227.06,367.58 L228.39,367.59 L229.71,367.59 L231.03,367.6 L232.35,367.61 L233.67,367.61 L235,367.62 L236.33,367.62 L237.66,367.61 L238.97,367.61 L240.28,367.6 L241.59,367.59 L242.9,367.59 L244.21,367.58 L245.53,367.58 L246.85,367.56 L248.18,367.54 L249.51,367.53 L250.84,367.51 L252.18,367.49 L253.52,367.48 L254.87,367.46 L256.22,367.46 L257.58,367.45 L258.94,367.43 L260.3,367.42 L261.66,367.41 L263.02,367.4 L264.39,367.4 L265.75,367.41 L267.11,367.42 L268.48,367.43 L269.83,367.45 L271.19,367.46 L272.54,367.47 L273.89,367.48 L275.23,367.5 L276.57,367.51 L277.91,367.53 L279.24,367.55 L280.56,367.57 L281.89,367.59 L283.2,367.59 L284.52,367.6 L285.83,367.61 L287.14,367.62 L288.45,367.62 L289.75,367.63 L291.08,367.64 L292.42,367.64 L293.75,367.64 L295.08,367.63 L296.38,367.63 L297.69,367.62 L299,367.62 L300.31,367.61 L301.63,367.61 L302.95,367.6 L304.27,367.59 L305.6,367.57 L306.93,367.55 L308.26,367.53 L309.61,367.52 L310.95,367.5 L312.3,367.49 L313.65,367.49 L315.01,367.48 L316.37,367.46 L317.73,367.45 L319.09,367.45 L320.46,367.44 L321.82,367.45 L323.19,367.46 L324.55,367.47 L325.91,367.49 L327.26,367.5 L328.62,367.51 L329.97,367.53 L331.32,367.54 L332.66,367.56 L334,367.58 L335.33,367.6 L336.66,367.62 L337.98,367.64 L339.3,367.66 L340.62,367.67 L341.93,367.67 L343.24,367.68 L344.55,367.69 M24,372 L25.34,372 L26.67,372 L28.01,372 L29.34,372 L30.68,372 L32.01,372 L33.35,372 L34.68,372 L36.02,372 L37.35,372 L38.69,372 L40.02,372 L41.36,372 L42.7,372 L44.03,372 L45.37,372 L46.7,372 L48.04,372 L49.37,372 L50.71,372 L52.04,372 L53.38,372 L54.71,372 L56.05,372 L57.39,372 L58.72,372 L60.06,372 L61.39,372 L62.73,372 L64.06,372 L65.4,372 L66.73,372 L68.07,372 L69.4,372 L70.74,372 L72.08,372 L73.41,372 L74.75,372 L76.08,372 L77.42,372 L78.75,372 L80.09,372 L81.42,372 L82.76,372 L84.09,372 L85.43,372 L86.76,372 L88.1,372 L89.44,372 L90.77,372 L92.11,372 L93.44,372 L94.78,372 L96.11,372 L97.45,372 L98.78,372 L100.12,372 L101.45,372 L102.79,372 L104.12,372 L105.46,372 L106.8,372 L108.13,372 L109.47,372 L110.8,372 L112.14,372 L113.47,372 L114.81,372 L116.14,372 L117.48,372 L118.81,372 L120.15,372 L121.49,372 L122.82,372 L124.16,372 L125.49,372 L126.83,372 L128.16,372 L129.5,372 L130.83,372 L132.17,372 L133.5,372 L134.84,372 L136.18,372 L137.51,372 L138.85,372 L140.18,372 L141.52,372 L142.85,372 L144.19,372 L145.52,372 L146.86,372 L148.19,372 L149.53,372 L150.86,372 L152.2,372 L153.54,372 L154.87,372 L156.21,372 L157.54,372 L158.88,372 L160.21,372 L161.55,372 L162.88,372 L164.22,372 L165.55,372 L166.89,372 L168.22,372 L169.56,372 L170.9,372 L172.23,372 L173.57,372 L174.9,372 L176.24,372 L177.57,372 L178.91,372 L180.24,372 L181.58,372 L182.91,372 L184.25,372 L185.59,372 L186.92,372 L188.26,372 L189.59,372 L190.93,372 L192.26,372 L193.6,372 L194.93,372 L196.27,372 L197.6,372 L198.94,372 L200.28,372 L201.61,372 L202.95,372 L204.28,372 L205.62,372 L206.95,372 L208.29,372 L209.62,372 L210.96,372 L212.29,372 L213.63,372 L214.96,372 L216.3,372 L217.64,372 L218.97,372 L220.31,372 L221.64,372 L222.98,372 L224.31,372 L225.65,372 L226.98,372 L228.32,372 L229.65,372 L230.99,372 L232.32,372 L233.66,372 L235,372 L236.33,372 L237.67,372 L239,372 L240.34,372 L241.67,372 L243.01,372 L244.34,372 L245.68,372 L247.01,372 L248.35,372 L249.69,372 L251.02,372 L252.36,372 L253.69,372 L255.03,372 L256.36,372 L257.7,372 L259.03,372 L260.37,372 L261.7,372 L263.04,372 L264.38,372 L265.71,372 L267.05,372 L268.38,372 L269.72,372 L271.05,372 L272.39,372 L273.72,372 L275.06,372 L276.39,372 L277.73,372 L279.06,372 L280.4,372 L281.74,372 L283.07,372 L284.41,372 L285.74,372 L287.08,372 L288.41,372 L289.75,372 L291.08,372 L292.42,372 L293.75,372 L295.09,372 L296.43,372 L297.76,372 L299.1,372 L300.43,372 L301.77,372 L303.1,372 L304.44,372 L305.77,372 L307.11,372 L308.44,372 L309.78,372 L311.11,372 L312.45,372 L313.79,372 L315.12,372 L316.46,372 L317.79,372 L319.13,372 L320.46,372 L321.8,372 L323.13,372 L324.47,372 L325.8,372 L327.14,372 L328.48,372 L329.81,372 L331.15,372 L332.48,372 L333.82,372 L335.15,372 L336.49,372 L337.82,372 L339.16,372 L340.49,372 L341.83,372 L343.16,372 L344.5,372 M24,298.95 L24,303.9 L24,308.81 L24,313.7 L24,318.58 L24,323.46 L24,328.33 L24,333.19 L24,338.05 L24,342.9 L24,347.76 L24,352.61 L24,357.46 L24,362.31 L24,367.15 L24,372 M29.34,298.08 L29.34,303.4 L29.34,308.57 L29.34,313.64 L29.34,318.63 L29.34,323.57 L29.34,328.47 L29.34,333.34 L29.34,338.19 L29.34,343.04 L29.34,347.87 L29.34,352.7 L29.34,357.53 L29.34,362.35 L29.34,367.18 L29.34,372 M34.68,297.47 L34.68,303.08 L34.68,308.45 L34.68,313.64 L34.68,318.71 L34.68,323.69 L34.68,328.61 L34.68,333.49 L34.68,338.34 L34.68,343.17 L34.68,347.99 L34.68,352.8 L34.68,357.6 L34.68,362.4 L34.68,367.2 L34.68,372 M40.02,297.59 L40.02,303.26 L40.02,308.66 L40.02,313.86 L40.02,318.94 L40.02,323.91 L40.02,328.82 L40.02,333.68 L40.02,338.51 L40.02,343.32 L40.02,348.11 L40.02,352.9 L40.02,357.68 L40.02,362.45 L40.02,367.23 L40.02,372 M45.37,298.54 L45.37,304 L45.37,309.25 L45.37,314.34 L45.37,319.33 L45.37,324.24 L45.37,329.09 L45.37,333.91 L45.37,338.7 L45.37,343.48 L45.37,348.25 L45.37,353 L45.37,357.76 L45.37,362.51 L45.37,367.25 L45.37,372 M50.71,300.01 L50.71,305.08 L50.71,310.05 L50.71,314.94 L50.71,319.79 L50.71,324.59 L50.71,329.37 L50.71,334.13 L50.71,338.88 L50.71,343.62 L50.71,348.36 L50.71,353.09 L50.71,357.82 L50.71,362.55 L50.71,367.27 L50.71,372 M56.05,301.43 L56.05,306.09 L56.05,310.79 L56.05,315.5 L56.05,320.21 L56.05,324.92 L56.05,329.63 L56.05,334.35 L56.05,339.06 L56.05,343.76 L56.05,348.47 L56.05,353.18 L56.05,357.88 L56.05,362.59 L56.05,367.3 L56.05,372 M61.39,301.74 L61.39,306.42 L61.39,311.11 L61.39,315.79 L61.39,320.47 L61.39,325.16 L61.39,329.84 L61.39,334.53 L61.39,339.21 L61.39,343.89 L61.39,348.58 L61.39,353.26 L61.39,357.95 L61.39,362.63 L61.39,367.32 L61.39,372 M66.76,302.01 L66.76,306.68 L66.75,311.34 L66.74,316.01 L66.74,320.68 L66.73,325.34 L66.73,330.01 L66.73,334.67 L66.73,339.34 L66.73,344.01 L66.73,348.67 L66.73,353.34 L66.73,358 L66.73,362.67 L66.73,367.33 L66.73,372 M72.27,302.11 L72.21,306.77 L72.17,311.43 L72.13,316.09 L72.1,320.74 L72.07,325.4 L72.06,330.05 L72.05,334.71 L72.04,339.37 L72.04,344.04 L72.04,348.7 L72.04,353.36 L72.05,358.02 L72.06,362.68 L72.06,367.34 L72.08,372 M77.7,301.55 L77.62,306.39 L77.55,311.17 L77.5,315.91 L77.45,320.63 L77.42,325.33 L77.39,330.03 L77.37,334.71 L77.36,339.38 L77.36,344.05 L77.36,348.72 L77.37,353.38 L77.38,358.03 L77.39,362.69 L77.4,367.35 L77.42,372 M83.05,299.37 L82.96,304.93 L82.89,310.22 L82.84,315.31 L82.79,320.27 L82.76,325.12 L82.73,329.91 L82.71,334.66 L82.7,339.37 L82.7,344.05 L82.7,348.73 L82.71,353.39 L82.72,358.05 L82.73,362.7 L82.74,367.35 L82.76,372 M88.29,297.51 L88.24,303.68 L88.19,309.39 L88.15,314.78 L88.12,319.94 L88.1,324.93 L88.08,329.8 L88.07,334.6 L88.06,339.35 L88.06,344.05 L88.06,348.74 L88.07,353.4 L88.07,358.06 L88.08,362.71 L88.09,367.36 L88.1,372 M93.47,296.7 L93.46,303.15 L93.46,309.06 L93.45,314.58 L93.44,319.82 L93.44,324.87 L93.44,329.78 L93.44,334.6 L93.44,339.36 L93.44,344.07 L93.44,348.76 L93.44,353.42 L93.44,358.08 L93.44,362.72 L93.44,367.36 L93.44,372 M98.64,297.27 L98.68,303.57 L98.72,309.36 L98.74,314.8 L98.77,319.99 L98.78,325 L98.8,329.88 L98.81,334.68 L98.81,339.42 L98.81,344.12 L98.81,348.79 L98.81,353.45 L98.8,358.1 L98.8,362.74 L98.79,367.37 L98.78,372 M103.86,299.04 L103.94,304.79 L104,310.2 L104.05,315.37 L104.09,320.38 L104.13,325.27 L104.15,330.07 L104.17,334.81 L104.17,339.51 L104.18,344.19 L104.18,348.84 L104.17,353.49 L104.16,358.12 L104.15,362.75 L104.14,367.38 L104.12,372 M109.17,301.42 L109.25,306.44 L109.33,311.34 L109.38,316.15 L109.43,320.91 L109.47,325.62 L109.49,330.31 L109.51,334.97 L109.52,339.62 L109.53,344.26 L109.52,348.9 L109.52,353.52 L109.51,358.14 L109.5,362.77 L109.48,367.38 L109.47,372 M114.58,302.87 L114.64,307.48 L114.7,312.06 L114.74,316.66 L114.78,321.27 L114.81,325.88 L114.83,330.49 L114.84,335.1 L114.85,339.72 L114.85,344.33 L114.85,348.95 L114.85,353.56 L114.84,358.17 L114.83,362.78 L114.82,367.39 L114.81,372 M120.06,302.97 L120.09,307.57 L120.11,312.17 L120.13,316.77 L120.14,321.38 L120.15,325.98 L120.16,330.58 L120.16,335.18 L120.17,339.78 L120.17,344.39 L120.17,348.99 L120.17,353.59 L120.16,358.19 L120.16,362.79 L120.15,367.4 L120.15,372 M125.71,303.12 L125.65,307.71 L125.59,312.3 L125.55,316.9 L125.52,321.49 L125.49,326.08 L125.47,330.67 L125.46,335.26 L125.45,339.86 L125.45,344.45 L125.45,349.04 L125.45,353.63 L125.46,358.22 L125.47,362.81 L125.48,367.41 L125.49,372 M131.45,303.3 L131.27,307.87 L131.13,312.42 L131,316.99 L130.91,321.56 L130.83,326.14 L130.78,330.73 L130.74,335.32 L130.72,339.91 L130.71,344.49 L130.71,349.08 L130.73,353.67 L130.75,358.25 L130.77,362.84 L130.8,367.42 L130.83,372 M136.97,301.62 L136.74,306.67 L136.55,311.61 L136.39,316.45 L136.27,321.22 L136.17,325.93 L136.1,330.6 L136.05,335.25 L136.03,339.88 L136.02,344.5 L136.02,349.1 L136.04,353.69 L136.06,358.27 L136.09,362.85 L136.13,367.43 L136.18,372 M142.21,298.75 L142.01,304.59 L141.85,310.12 L141.71,315.41 L141.6,320.51 L141.51,325.47 L141.45,330.32 L141.41,335.09 L141.39,339.8 L141.38,344.46 L141.38,349.09 L141.4,353.7 L141.42,358.29 L141.45,362.87 L141.48,367.44 L141.52,372 M147.2,296.71 L147.1,303.08 L147.02,309.01 L146.95,314.62 L146.9,319.96 L146.86,325.1 L146.83,330.08 L146.81,334.94 L146.79,339.72 L146.79,344.42 L146.79,349.08 L146.8,353.7 L146.81,358.3 L146.82,362.88 L146.84,367.44 L146.86,372 M152.07,296.39 L152.11,302.82 L152.14,308.82 L152.17,314.48 L152.19,319.87 L152.2,325.05 L152.21,330.06 L152.22,334.94 L152.22,339.73 L152.23,344.45 L152.22,349.11 L152.22,353.73 L152.22,358.32 L152.21,362.9 L152.21,367.45 L152.2,372 M156.99,298.08 L157.15,304.08 L157.28,309.75 L157.39,315.16 L157.48,320.37 L157.54,325.42 L157.59,330.33 L157.63,335.15 L157.65,339.88 L157.65,344.56 L157.65,349.19 L157.64,353.79 L157.62,358.37 L157.6,362.92 L157.57,367.47 L157.54,372 M162.1,301.06 L162.32,306.33 L162.51,311.45 L162.67,316.44 L162.79,321.32 L162.89,326.12 L162.96,330.85 L163,335.52 L163.03,340.15 L163.04,344.75 L163.04,349.32 L163.02,353.88 L163,358.42 L162.96,362.96 L162.92,367.48 L162.88,372 M167.49,304.2 L167.7,308.69 L167.88,313.22 L168.02,317.76 L168.14,322.29 L168.23,326.83 L168.29,331.37 L168.34,335.9 L168.36,340.43 L168.37,344.95 L168.37,349.47 L168.35,353.98 L168.33,358.49 L168.3,363 L168.26,367.5 L168.22,372 M173.14,304.78 L173.26,309.26 L173.36,313.74 L173.45,318.22 L173.52,322.7 L173.57,327.18 L173.61,331.65 L173.63,336.13 L173.65,340.61 L173.65,345.09 L173.65,349.57 L173.64,354.06 L173.63,358.54 L173.61,363.03 L173.59,367.51 L173.57,372 M178.91,304.96 L178.91,309.43 L178.91,313.9 L178.91,318.37 L178.91,322.84 L178.91,327.31 L178.91,331.78 L178.91,336.25 L178.91,340.72 L178.91,345.18 L178.91,349.65 L178.91,354.12 L178.91,358.59 L178.91,363.06 L178.91,367.53 L178.91,372 M185.14,305.1 L184.88,309.56 L184.67,314.02 L184.49,318.48 L184.35,322.94 L184.25,327.4 L184.17,331.86 L184.11,336.31 L184.08,340.76 L184.07,345.21 L184.08,349.67 L184.09,354.14 L184.12,358.6 L184.16,363.07 L184.2,367.53 L184.25,372 M191.36,305.09 L190.85,309.38 L190.43,313.82 L190.08,318.27 L189.8,322.74 L189.58,327.22 L189.43,331.7 L189.32,336.19 L189.26,340.67 L189.24,345.16 L189.25,349.64 L189.28,354.12 L189.34,358.6 L189.41,363.07 L189.5,367.54 L189.59,372 M196.92,301.49 L196.35,306.65 L195.87,311.7 L195.48,316.65 L195.16,321.51 L194.92,326.3 L194.75,331.03 L194.63,335.7 L194.56,340.32 L194.54,344.91 L194.55,349.47 L194.59,354.01 L194.65,358.53 L194.73,363.03 L194.83,367.52 L194.93,372 M201.73,297.86 L201.32,303.67 L200.96,309.27 L200.68,314.7 L200.44,319.97 L200.27,325.1 L200.14,330.11 L200.05,335.01 L200,339.83 L199.98,344.57 L199.99,349.25 L200.02,353.87 L200.07,358.45 L200.13,362.99 L200.2,367.51 L200.28,372 M206.01,295.37 L205.89,301.59 L205.8,307.58 L205.72,313.33 L205.66,318.89 L205.61,324.26 L205.58,329.47 L205.56,334.53 L205.54,339.48 L205.54,344.32 L205.54,349.07 L205.55,353.76 L205.56,358.38 L205.58,362.96 L205.6,367.49 L205.62,372 M210.13,296.25 L210.37,302.24 L210.57,308.03 L210.73,313.64 L210.86,319.08 L210.96,324.39 L211.04,329.55 L211.09,334.58 L211.11,339.51 L211.12,344.34 L211.12,349.09 L211.1,353.76 L211.08,358.39 L211.04,362.96 L211,367.5 L210.96,372 M214.57,299.55 L215.06,304.94 L215.48,310.22 L215.82,315.4 L216.1,320.47 L216.31,325.46 L216.46,330.36 L216.57,335.19 L216.63,339.95 L216.65,344.65 L216.64,349.3 L216.6,353.91 L216.55,358.47 L216.48,363.01 L216.39,367.51 L216.3,372 M219.65,303.59 L220.22,308.33 L220.7,313.03 L221.1,317.7 L221.41,322.34 L221.65,326.91 L221.83,331.48 L221.95,336.03 L222.02,340.57 L222.04,345.1 L222.03,349.61 L221.99,354.11 L221.93,358.6 L221.84,363.08 L221.75,367.55 L221.64,372 M225.48,306.11 L225.91,310.5 L226.27,314.83 L226.57,319.17 L226.81,323.52 L226.99,327.89 L227.12,332.28 L227.21,336.67 L227.27,341.07 L227.28,345.48 L227.28,349.9 L227.25,354.32 L227.2,358.74 L227.14,363.16 L227.06,367.58 L226.98,372 M231.87,306.24 L232,310.62 L232.11,315.01 L232.2,319.39 L232.27,323.77 L232.33,328.16 L232.37,332.54 L232.39,336.93 L232.41,341.31 L232.42,345.69 L232.41,350.07 L232.4,354.44 L232.39,358.83 L232.37,363.21 L232.35,367.61 L232.32,372 M237.71,306.31 L237.7,310.69 L237.69,315.07 L237.68,319.45 L237.67,323.83 L237.67,328.21 L237.66,332.59 L237.66,336.97 L237.66,341.35 L237.66,345.73 L237.66,350.1 L237.66,354.48 L237.66,358.86 L237.66,363.23 L237.66,367.61 L237.67,372 M245.07,306.34 L244.48,310.72 L243.99,315.1 L243.58,319.47 L243.25,323.81 L243,328.13 L242.81,332.47 L242.69,336.82 L242.62,341.19 L242.59,345.57 L242.61,349.96 L242.65,354.36 L242.71,358.77 L242.8,363.18 L242.9,367.59 L243.01,372 M251.62,304.74 L250.68,309.3 L249.9,313.8 L249.25,318.26 L248.73,322.73 L248.33,327.21 L248.04,331.69 L247.85,336.18 L247.74,340.68 L247.69,345.16 L247.71,349.65 L247.78,354.13 L247.88,358.61 L248.02,363.08 L248.18,367.54 L248.35,372 M256.87,300.29 L255.96,305.38 L255.2,310.43 L254.57,315.44 L254.06,320.39 L253.67,325.3 L253.39,330.16 L253.2,334.97 L253.09,339.73 L253.05,344.45 L253.07,349.12 L253.14,353.74 L253.24,358.35 L253.37,362.92 L253.52,367.48 L253.69,372 M260.87,296.01 L260.34,301.62 L259.9,307.15 L259.54,312.62 L259.25,318.02 L259.02,323.32 L258.86,328.54 L258.75,333.7 L258.69,338.75 L258.67,343.72 L258.68,348.6 L258.71,353.41 L258.77,358.15 L258.85,362.82 L258.94,367.43 L259.03,372 M264.14,293.59 L264.21,299.64 L264.26,305.53 L264.31,311.33 L264.35,317.01 L264.38,322.55 L264.4,327.95 L264.41,333.23 L264.42,338.39 L264.42,343.44 L264.42,348.4 L264.42,353.26 L264.41,358.04 L264.4,362.75 L264.39,367.4 L264.38,372 M267.51,296.96 L268.14,302.45 L268.67,307.88 L269.11,313.24 L269.46,318.52 L269.73,323.74 L269.92,328.88 L270.06,333.94 L270.13,338.94 L270.16,343.86 L270.15,348.71 L270.1,353.49 L270.03,358.2 L269.94,362.85 L269.83,367.45 L269.72,372 M271.74,301.37 L272.69,306.34 L273.49,311.27 L274.15,316.17 L274.67,321.02 L275.08,325.84 L275.37,330.61 L275.57,335.34 L275.68,340.03 L275.72,344.66 L275.71,349.27 L275.64,353.85 L275.53,358.42 L275.39,362.97 L275.23,367.5 L275.06,372 M277.29,305.84 L278.18,310.14 L278.93,314.49 L279.55,318.87 L280.04,323.26 L280.42,327.67 L280.69,332.09 L280.88,336.51 L280.98,340.95 L281.02,345.39 L281.01,349.83 L280.94,354.27 L280.84,358.7 L280.71,363.14 L280.56,367.57 L280.4,372 M284.07,306.57 L284.54,310.93 L284.95,315.29 L285.28,319.65 L285.55,324.02 L285.75,328.38 L285.9,332.7 L286,337.02 L286.06,341.36 L286.08,345.72 L286.07,350.08 L286.03,354.45 L285.98,358.83 L285.91,363.22 L285.83,367.61 L285.74,372 M291.08,306.6 L291.08,310.96 L291.08,315.32 L291.08,319.68 L291.08,324.04 L291.08,328.4 L291.08,332.76 L291.08,337.12 L291.08,341.48 L291.08,345.84 L291.08,350.2 L291.08,354.56 L291.08,358.92 L291.08,363.28 L291.08,367.64 L291.08,372 M297.22,306.69 L296.99,311.05 L296.8,315.4 L296.64,319.75 L296.52,324.11 L296.42,328.46 L296.35,332.82 L296.3,337.17 L296.28,341.52 L296.27,345.87 L296.27,350.2 L296.29,354.55 L296.31,358.9 L296.34,363.26 L296.38,367.63 L296.43,372 M304.38,306.8 L303.63,311.11 L303,315.36 L302.48,319.63 L302.07,323.92 L301.75,328.24 L301.52,332.57 L301.37,336.92 L301.28,341.29 L301.24,345.66 L301.26,350.04 L301.31,354.43 L301.39,358.82 L301.5,363.21 L301.63,367.61 L301.77,372 M310.5,303.59 L309.53,308.32 L308.71,313.02 L308.04,317.7 L307.5,322.35 L307.09,326.93 L306.79,331.48 L306.59,336.03 L306.47,340.57 L306.43,345.09 L306.45,349.61 L306.52,354.11 L306.62,358.61 L306.76,363.08 L306.93,367.55 L307.11,372 M315.29,299.03 L314.48,304.3 L313.79,309.52 L313.23,314.68 L312.78,319.78 L312.44,324.81 L312.18,329.77 L312.01,334.68 L311.92,339.53 L311.88,344.32 L311.9,349.06 L311.95,353.73 L312.05,358.37 L312.16,362.96 L312.3,367.49 L312.45,372 M318.95,294.79 L318.62,300.64 L318.34,306.38 L318.11,312.01 L317.93,317.61 L317.79,323.06 L317.68,328.39 L317.61,333.62 L317.57,338.73 L317.56,343.74 L317.57,348.64 L317.59,353.45 L317.63,358.19 L317.67,362.85 L317.73,367.45 L317.79,372 M322.16,294.57 L322.44,300.48 L322.67,306.23 L322.87,311.96 L323.02,317.55 L323.14,323.02 L323.23,328.38 L323.28,333.62 L323.32,338.73 L323.33,343.74 L323.32,348.65 L323.3,353.46 L323.27,358.2 L323.23,362.86 L323.19,367.46 L323.13,372 M325.75,298.96 L326.53,304.26 L327.19,309.5 L327.73,314.68 L328.16,319.79 L328.49,324.84 L328.73,329.81 L328.89,334.73 L328.99,339.58 L329.02,344.38 L329.01,349.11 L328.95,353.79 L328.86,358.42 L328.75,362.99 L328.62,367.51 L328.48,372 M330.42,303.73 L331.39,308.47 L332.21,313.18 L332.88,317.87 L333.42,322.52 L333.83,327.15 L334.14,331.69 L334.34,336.22 L334.46,340.74 L334.5,345.25 L334.48,349.75 L334.41,354.23 L334.3,358.69 L334.16,363.14 L334,367.58 L333.82,372 M336.43,307.59 L337.21,311.76 L337.87,315.96 L338.41,320.19 L338.84,324.44 L339.17,328.71 L339.41,333 L339.58,337.31 L339.67,341.62 L339.71,345.95 L339.69,350.29 L339.64,354.63 L339.55,358.97 L339.43,363.31 L339.3,367.66 L339.16,372 M343.52,307.7 L343.8,311.99 L344.04,316.27 L344.23,320.56 L344.39,324.85 L344.51,329.13 L344.59,333.42 L344.65,337.71 L344.68,341.99 L344.7,346.25 L344.69,350.52 L344.67,354.8 L344.64,359.09 L344.6,363.39 L344.55,367.69 L344.5,372" fill="none" stroke="#080808" stroke-width="1.25" stroke-linejoin="round"/>
<g transform="scale(1,1.0)"><path d="M39.5,279.3 L40.17,279.35 L40.85,279.49 L41.52,279.73 L42.2,280.06 L42.88,280.48 L43.55,280.99 L44.23,281.59 L44.9,282.27 L45.58,283.03 L46.25,283.85 L46.92,284.75 L47.6,285.71 L48.27,286.73 L48.95,287.79 L49.62,288.9 L50.3,290.04 L50.98,291.22 L51.65,292.42 L52.33,293.63 L53,294.85 L53.67,296.07 L54.35,297.28 L55.02,298.48 L55.7,299.66 L56.38,300.8 L57.05,301.91 L57.73,302.97 L58.4,303.99 L59.08,304.95 L59.75,305.85 L60.42,306.67 L61.1,307.43 L61.77,308.11 L62.45,308.71 L63.12,309.22 L63.8,309.64 L64.47,309.97 L65.15,310.21 L65.83,310.35 L66.5,310.4 L67.21,310.33 L67.92,310.11 L68.64,309.74 L69.35,309.23 L70.06,308.58 L70.78,307.79 L71.49,306.87 L72.2,305.83 L72.91,304.66 L73.62,303.39 L74.34,302 L75.05,300.53 L75.76,298.96 L76.47,297.32 L77.19,295.62 L77.9,293.85 L78.61,292.04 L79.33,290.2 L80.04,288.33 L80.75,286.45 L81.46,284.57 L82.17,282.7 L82.89,280.86 L83.6,279.05 L84.31,277.28 L85.03,275.58 L85.74,273.94 L86.45,272.37 L87.16,270.9 L87.88,269.51 L88.59,268.24 L89.3,267.07 L90.01,266.03 L90.72,265.11 L91.44,264.32 L92.15,263.67 L92.86,263.16 L93.58,262.79 L94.29,262.57 L95,262.5 L95.67,262.6 L96.35,262.9 L97.03,263.39 L97.7,264.08 L98.38,264.95 L99.05,266.02 L99.72,267.25 L100.4,268.66 L101.08,270.23 L101.75,271.95 L102.42,273.81 L103.1,275.79 L103.78,277.9 L104.45,280.11 L105.12,282.41 L105.8,284.78 L106.47,287.22 L107.15,289.7 L107.83,292.22 L108.5,294.75 L109.17,297.28 L109.85,299.8 L110.53,302.28 L111.2,304.72 L111.88,307.09 L112.55,309.39 L113.22,311.6 L113.9,313.71 L114.58,315.69 L115.25,317.55 L115.92,319.27 L116.6,320.84 L117.28,322.25 L117.95,323.48 L118.62,324.55 L119.3,325.42 L119.97,326.11 L120.65,326.6 L121.33,326.9 L122,327 L122.74,326.88 L123.47,326.5 L124.21,325.88 L124.95,325.02 L125.69,323.92 L126.42,322.59 L127.16,321.03 L127.9,319.27 L128.64,317.3 L129.38,315.14 L130.11,312.8 L130.85,310.31 L131.59,307.66 L132.32,304.89 L133.06,302 L133.8,299.02 L134.54,295.95 L135.28,292.84 L136.01,289.68 L136.75,286.5 L137.49,283.32 L138.22,280.16 L138.96,277.05 L139.7,273.98 L140.44,271 L141.18,268.11 L141.91,265.34 L142.65,262.69 L143.39,260.2 L144.12,257.86 L144.86,255.7 L145.6,253.73 L146.34,251.97 L147.07,250.41 L147.81,249.08 L148.55,247.98 L149.29,247.12 L150.03,246.5 L150.76,246.12 L151.5,246 L152.21,246.15 L152.93,246.59 L153.64,247.32 L154.35,248.34 L155.06,249.63 L155.78,251.2 L156.49,253.04 L157.2,255.12 L157.91,257.44 L158.62,259.99 L159.34,262.74 L160.05,265.68 L160.76,268.8 L161.47,272.07 L162.19,275.48 L162.9,278.99 L163.61,282.6 L164.32,286.28 L165.04,290 L165.75,293.75 L166.46,297.5 L167.18,301.22 L167.89,304.9 L168.6,308.51 L169.31,312.02 L170.03,315.43 L170.74,318.7 L171.45,321.82 L172.16,324.76 L172.88,327.51 L173.59,330.06 L174.3,332.38 L175.01,334.46 L175.72,336.3 L176.44,337.87 L177.15,339.16 L177.86,340.18 L178.57,340.91 L179.29,341.35 L180,341.5 L180.71,341.33 L181.43,340.82 L182.14,339.98 L182.85,338.81 L183.56,337.32 L184.28,335.51 L184.99,333.4 L185.7,331.01 L186.41,328.33 L187.12,325.41 L187.84,322.24 L188.55,318.85 L189.26,315.26 L189.97,311.5 L190.69,307.58 L191.4,303.53 L192.11,299.38 L192.82,295.15 L193.54,290.86 L194.25,286.55 L194.96,282.24 L195.68,277.95 L196.39,273.72 L197.1,269.57 L197.81,265.52 L198.53,261.6 L199.24,257.84 L199.95,254.25 L200.66,250.86 L201.38,247.69 L202.09,244.77 L202.8,242.09 L203.51,239.7 L204.22,237.59 L204.94,235.78 L205.65,234.29 L206.36,233.12 L207.07,232.28 L207.79,231.77 L208.5,231.6 L209.2,231.79 L209.9,232.38 L210.6,233.34 L211.3,234.68 L212,236.39 L212.7,238.46 L213.4,240.88 L214.1,243.62 L214.8,246.68 L215.5,250.04 L216.2,253.67 L216.9,257.55 L217.6,261.66 L218.3,265.97 L219,270.46 L219.7,275.1 L220.4,279.85 L221.1,284.7 L221.8,289.61 L222.5,294.55 L223.2,299.49 L223.9,304.4 L224.6,309.25 L225.3,314 L226,318.64 L226.7,323.13 L227.4,327.44 L228.1,331.55 L228.8,335.43 L229.5,339.06 L230.2,342.42 L230.9,345.48 L231.6,348.22 L232.3,350.64 L233,352.71 L233.7,354.42 L234.4,355.76 L235.1,356.72 L235.8,357.31 L236.5,357.5 L237.2,357.31 L237.91,356.72 L238.61,355.76 L239.31,354.42 L240.01,352.71 L240.72,350.64 L241.42,348.22 L242.12,345.48 L242.82,342.42 L243.53,339.06 L244.23,335.43 L244.93,331.55 L245.63,327.44 L246.34,323.13 L247.04,318.64 L247.74,314 L248.44,309.25 L249.15,304.4 L249.85,299.49 L250.55,294.55 L251.25,289.61 L251.96,284.7 L252.66,279.85 L253.36,275.1 L254.06,270.46 L254.77,265.97 L255.47,261.66 L256.17,257.55 L256.87,253.67 L257.58,250.04 L258.28,246.68 L258.98,243.62 L259.68,240.88 L260.38,238.46 L261.09,236.39 L261.79,234.68 L262.49,233.34 L263.2,232.38 L263.9,231.79 L264.6,231.6 L265.3,231.79 L266,232.38 L266.7,233.34 L267.4,234.68 L268.1,236.39 L268.8,238.46 L269.5,240.88 L270.2,243.62 L270.9,246.68 L271.6,250.04 L272.3,253.67 L273,257.55 L273.7,261.66 L274.4,265.97 L275.1,270.46 L275.8,275.1 L276.5,279.85 L277.2,284.7 L277.9,289.61 L278.6,294.55 L279.3,299.49 L280,304.4 L280.7,309.25 L281.4,314 L282.1,318.64 L282.8,323.13 L283.5,327.44 L284.2,331.55 L284.9,335.43 L285.6,339.06 L286.3,342.42 L287,345.48 L287.7,348.22 L288.4,350.64 L289.1,352.71 L289.8,354.42 L290.5,355.76 L291.2,356.72 L291.9,357.31 L292.6,357.5 L293.31,357.31 L294.02,356.72 L294.73,355.76 L295.44,354.42 L296.15,352.71 L296.86,350.64 L297.57,348.22 L298.28,345.48 L298.99,342.42 L299.7,339.06 L300.41,335.43 L301.12,331.55 L301.83,327.44 L302.54,323.13 L303.25,318.64 L303.96,314 L304.67,309.25 L305.38,304.4 L306.09,299.49 L306.8,294.55 L307.51,289.61 L308.22,284.7" fill="none" stroke="#1212f0" stroke-width="4.1" stroke-linecap="round" stroke-linejoin="round"/></g>
<text x="385.6" y="22.5" font-size="27.5" font-family='"Liberation Sans", Arial, Helvetica, sans-serif' text-anchor="start" textLength="33.4" lengthAdjust="spacingAndGlyphs" >(b)</text>
<rect x="516.25" y="24.5" width="8.7" height="134.2" fill="#fa1f2f"/>
<rect x="538.75" y="24.5" width="8.7" height="134.2" fill="#fa1f2f"/>
<rect x="561.15" y="24.5" width="8.7" height="134.2" fill="#fa1f2f"/>
<rect x="583.55" y="24.5" width="8.7" height="134.2" fill="#fa1f2f"/>
<text x="525.4" y="24.8" font-size="19.4" font-family='"Liberation Serif", "Times New Roman", serif' textLength="12.58" lengthAdjust="spacingAndGlyphs" >&#916;</text>
<text x="548" y="24.8" font-size="19.4" font-family='"Liberation Serif", "Times New Roman", serif' textLength="12.58" lengthAdjust="spacingAndGlyphs" >&#916;</text>
<text x="570.3" y="24.8" font-size="19.4" font-family='"Liberation Serif", "Times New Roman", serif' textLength="12.58" lengthAdjust="spacingAndGlyphs" >&#916;</text>
<line x1="520.8" y1="36.2" x2="543.1" y2="36.2" stroke="#000" stroke-width="1.5" marker-start="url(#ah2)" marker-end="url(#ah2)"/>
<line x1="543.1" y1="36.2" x2="565.5" y2="36.2" stroke="#000" stroke-width="1.5" marker-start="url(#ah2)" marker-end="url(#ah2)"/>
<line x1="565.5" y1="36.2" x2="588.1" y2="36.2" stroke="#000" stroke-width="1.5" marker-start="url(#ah2)" marker-end="url(#ah2)"/>
<defs><marker id="ah2" viewBox="0 0 10 8" refX="10" refY="4" markerWidth="7" markerHeight="5.6" markerUnits="userSpaceOnUse" orient="auto-start-reverse"><path d="M0,0 L10,4 L0,8 L2.5,4 Z" fill="#000"/></marker></defs>
<text x="434.24" y="45.2" font-size="17.3" font-family='"Liberation Sans", Arial, Helvetica, sans-serif' textLength="58.51" lengthAdjust="spacingAndGlyphs" >Excited</text>
<text x="435.73" y="59.5" font-size="17.3" font-family='"Liberation Sans", Arial, Helvetica, sans-serif' textLength="48.7" lengthAdjust="spacingAndGlyphs" >waves</text>
<text x="607.45" y="45.2" font-size="17.3" font-family='"Liberation Sans", Arial, Helvetica, sans-serif' textLength="57.99" lengthAdjust="spacingAndGlyphs" >Excited</text>
<text x="608.93" y="59.8" font-size="17.3" font-family='"Liberation Sans", Arial, Helvetica, sans-serif' textLength="48.39" lengthAdjust="spacingAndGlyphs" >waves</text>
<text x="600.56" y="118.3" font-size="17.3" font-family='"Liberation Sans", Arial, Helvetica, sans-serif' textLength="74.18" lengthAdjust="spacingAndGlyphs" >Detection</text>
<line x1="516.5" y1="79.6" x2="467.8" y2="79.6" stroke="#000" stroke-width="3.1"/>
<path d="M455.3,79.6 L472.8,72.8 L468.8,79.6 L472.8,86.4 Z" fill="#000"/>
<line x1="592" y1="79.4" x2="644" y2="79.4" stroke="#000" stroke-width="3.1"/>
<path d="M656.5,79.4 L639,72.6 L643,79.4 L639,86.2 Z" fill="#000"/>
<circle cx="616" cy="88.5" r="8.1" fill="#28f452"/>
<line x1="430" y1="88.6" x2="679.3" y2="88.6" stroke="#000" stroke-width="2.1" stroke-dasharray="9.1 8.65" stroke-dashoffset="4.75"/>
<text x="385.6" y="193.2" font-size="27.5" font-family='"Liberation Sans", Arial, Helvetica, sans-serif' text-anchor="start" textLength="31.8" lengthAdjust="spacingAndGlyphs" >(c)</text>
<clipPath id="fc"><rect x="407.7" y="214.8" width="275.7" height="153.4"/></clipPath>
<g clip-path="url(#fc)" fill="none" stroke-linejoin="round">
<path d="M407.7,347.61 L407.9,347.5 L408.1,347.45 L408.3,347.44 L408.5,347.47 L408.7,347.56 L408.9,347.69 L409.1,347.86 L409.3,348.09 L409.5,348.36 L409.7,348.68 L409.9,349.04 L410.1,349.46 L410.3,349.91 L410.5,350.42 L410.7,350.96 L410.9,351.55 L411.1,352.19 L411.3,352.86 L411.5,353.58 L411.7,354.34 L411.9,355.13 L412.1,355.97 L412.3,356.84 L412.5,357.74 L412.7,358.68 L412.9,359.64 L413.1,360.64 L413.3,361.67 L413.5,362.72 L413.7,363.79 L413.9,364.89 L414.1,366 L414.3,367.14 L414.5,367.71 L414.7,366.55 L414.9,365.37 L415.1,364.19 L415.3,363 L415.5,361.81 L415.7,360.62 L415.9,359.42 L416.1,358.24 L416.3,357.05 L416.5,355.88 L416.7,354.72 L416.9,353.57 L417.1,352.44 L417.3,351.33 L417.5,350.24 L417.7,349.17 L417.9,348.14 L418.1,347.13 L418.3,346.15 L418.5,345.21 L418.7,344.31 L418.9,343.44 L419.1,342.62 L419.3,341.84 L419.5,341.11 L419.7,340.43 L419.9,339.8 L420.1,339.23 L420.3,338.71 L420.5,338.24 L420.7,337.84 L420.9,337.5 L421.1,337.22 L421.3,337.01 L421.5,336.86 L421.7,336.78 L421.9,336.77 L422.1,336.83 L422.3,336.97 L422.5,337.17 L422.7,337.46 L422.9,337.81 L423.1,338.24 L423.3,338.75 L423.5,339.34 L423.7,340.01 L423.9,340.75 L424.1,341.57 L424.3,342.47 L424.5,343.45 L424.7,344.51 L424.9,345.65 L425.1,346.86 L425.3,348.15 L425.5,349.52 L425.7,350.96 L425.9,352.48 L426.1,354.08 L426.3,355.74 L426.5,357.48 L426.7,359.29 L426.9,361.17 L427.1,363.12 L427.3,365.13 L427.5,367.21 L427.7,366.66 L427.9,364.46 L428.1,362.2 L428.3,359.89 L428.5,357.52 L428.7,355.1 L428.9,352.63 L429.1,350.12 L429.3,347.56 L429.5,344.96 L429.7,342.33 L429.9,339.66 L430.1,336.96 L430.3,334.22 L430.5,331.47 L430.7,328.68 L430.9,325.88 L431.1,323.07 L431.3,320.24 L431.5,317.4 L431.7,314.55 L431.9,311.7 L432.1,308.86 L432.3,306.01 L432.5,303.17 L432.7,300.35 L432.9,297.54 L433.1,294.74 L433.3,291.97 L433.5,289.22 L433.7,286.5 L433.9,283.82 L434.1,281.16 L434.3,278.55 L434.5,275.97 L434.7,273.45 L434.9,270.97 L435.1,268.54 L435.3,266.16 L435.5,263.85 L435.7,261.59 L435.9,259.4 L436.1,257.27 L436.3,255.21 L436.5,253.22 L436.7,251.31 L436.9,249.48 L437.1,247.72 L437.3,246.04 L437.5,244.45 L437.7,242.95 L437.9,241.53 L438.1,240.2 L438.3,238.96 L438.5,237.82 L438.7,236.77 L438.9,235.81 L439.1,234.96 L439.3,234.2 L439.5,233.54 L439.7,232.98 L439.9,232.52 L440.1,232.16 L440.3,231.9 L440.5,231.75 L440.7,231.7 L440.9,231.75 L441.1,231.9 L441.3,232.16 L441.5,232.52 L441.7,232.98 L441.9,233.54 L442.1,234.2 L442.3,234.96 L442.5,235.81 L442.7,236.77 L442.9,237.82 L443.1,238.96 L443.3,240.2 L443.5,241.53 L443.7,242.95 L443.9,244.45 L444.1,246.04 L444.3,247.72 L444.5,249.48 L444.7,251.31 L444.9,253.22 L445.1,255.21 L445.3,257.27 L445.5,259.4 L445.7,261.59 L445.9,263.85 L446.1,266.16 L446.3,268.54 L446.5,270.97 L446.7,273.45 L446.9,275.97 L447.1,278.55 L447.3,281.16 L447.5,283.82 L447.7,286.5 L447.9,289.22 L448.1,291.97 L448.3,294.74 L448.5,297.54 L448.7,300.35 L448.9,303.17 L449.1,306.01 L449.3,308.86 L449.5,311.7 L449.7,314.55 L449.9,317.4 L450.1,320.24 L450.3,323.07 L450.5,325.88 L450.7,328.68 L450.9,331.47 L451.1,334.22 L451.3,336.96 L451.5,339.66 L451.7,342.33 L451.9,344.96 L452.1,347.56 L452.3,350.12 L452.5,352.63 L452.7,355.1 L452.9,357.52 L453.1,359.89 L453.3,362.2 L453.5,364.46 L453.7,366.66 L453.9,367.21 L454.1,365.13 L454.3,363.12 L454.5,361.17 L454.7,359.29 L454.9,357.48 L455.1,355.74 L455.3,354.08 L455.5,352.48 L455.7,350.96 L455.9,349.52 L456.1,348.15 L456.3,346.86 L456.5,345.65 L456.7,344.51 L456.9,343.45 L457.1,342.47 L457.3,341.57 L457.5,340.75 L457.7,340.01 L457.9,339.34 L458.1,338.75 L458.3,338.24 L458.5,337.81 L458.7,337.46 L458.9,337.17 L459.1,336.97 L459.3,336.83 L459.5,336.77 L459.7,336.78 L459.9,336.86 L460.1,337.01 L460.3,337.22 L460.5,337.5 L460.7,337.84 L460.9,338.24 L461.1,338.71 L461.3,339.23 L461.5,339.8 L461.7,340.43 L461.9,341.11 L462.1,341.84 L462.3,342.62 L462.5,343.44 L462.7,344.31 L462.9,345.21 L463.1,346.15 L463.3,347.13 L463.5,348.14 L463.7,349.17 L463.9,350.24 L464.1,351.33 L464.3,352.44 L464.5,353.57 L464.7,354.72 L464.9,355.88 L465.1,357.05 L465.3,358.24 L465.5,359.42 L465.7,360.62 L465.9,361.81 L466.1,363 L466.3,364.19 L466.5,365.37 L466.7,366.55 L466.9,367.71 L467.1,367.14 L467.3,366 L467.5,364.89 L467.7,363.79 L467.9,362.72 L468.1,361.67 L468.3,360.64 L468.5,359.64 L468.7,358.68 L468.9,357.74 L469.1,356.84 L469.3,355.97 L469.5,355.13 L469.7,354.34 L469.9,353.58 L470.1,352.86 L470.3,352.19 L470.5,351.55 L470.7,350.96 L470.9,350.42 L471.1,349.91 L471.3,349.46 L471.5,349.04 L471.7,348.68 L471.9,348.36 L472.1,348.09 L472.3,347.86 L472.5,347.69 L472.7,347.56 L472.9,347.47 L473.1,347.44 L473.3,347.45 L473.5,347.5 L473.7,347.61 L473.9,347.75 L474.1,347.94 L474.3,348.18 L474.5,348.46 L474.7,348.78 L474.9,349.14 L475.1,349.54 L475.3,349.97 L475.5,350.45 L475.7,350.96 L475.9,351.51 L476.1,352.09 L476.3,352.7 L476.5,353.34 L476.7,354.02 L476.9,354.71 L477.1,355.44 L477.3,356.19 L477.5,356.95 L477.7,357.74 L477.9,358.55 L478.1,359.38 L478.3,360.22 L478.5,361.07 L478.7,361.93 L478.9,362.8 L479.1,363.68 L479.3,364.56 L479.5,365.45 L479.7,366.34 L479.9,367.23 L480.1,367.89 L480.3,367.01 L480.5,366.14 L480.7,365.27 L480.9,364.42 L481.1,363.57 L481.3,362.75 L481.5,361.93 L481.7,361.14 L481.9,360.36 L482.1,359.6 L482.3,358.87 L482.5,358.16 L482.7,357.47 L482.9,356.81 L483.1,356.18 L483.3,355.57 L483.5,355 L483.7,354.46 L483.9,353.95 L484.1,353.47 L484.3,353.03 L484.5,352.63 L484.7,352.26 L484.9,351.92 L485.1,351.62 L485.3,351.37 L485.5,351.14 L485.7,350.96 L485.9,350.82 L486.1,350.71 L486.3,350.65 L486.5,350.62 L486.7,350.64 L486.9,350.69 L487.1,350.78 L487.3,350.91 L487.5,351.08 L487.7,351.28 L487.9,351.53 L488.1,351.81 L488.3,352.12 L488.5,352.47 L488.7,352.86 L488.9,353.28 L489.1,353.73 L489.3,354.21 L489.5,354.73 L489.7,355.27 L489.9,355.84 L490.1,356.44 L490.3,357.06 L490.5,357.71 L490.7,358.38 L490.9,359.07 L491.1,359.78 L491.3,360.5 L491.5,361.25 L491.7,362.01 L491.9,362.78 L492.1,363.56 L492.3,364.36 L492.5,365.16 L492.7,365.97 L492.9,366.78 L493.1,367.59 L493.3,367.59 L493.5,366.78 L493.7,365.97 L493.9,365.16 L494.1,364.36 L494.3,363.56 L494.5,362.78 L494.7,362.01 L494.9,361.25 L495.1,360.5 L495.3,359.78 L495.5,359.07 L495.7,358.38 L495.9,357.71 L496.1,357.06 L496.3,356.44 L496.5,355.84 L496.7,355.27 L496.9,354.73 L497.1,354.21 L497.3,353.73 L497.5,353.28 L497.7,352.86 L497.9,352.47 L498.1,352.12 L498.3,351.81 L498.5,351.53 L498.7,351.28 L498.9,351.08 L499.1,350.91 L499.3,350.78 L499.5,350.69 L499.7,350.64 L499.9,350.62 L500.1,350.65 L500.3,350.71 L500.5,350.82 L500.7,350.96 L500.9,351.14 L501.1,351.37 L501.3,351.62 L501.5,351.92 L501.7,352.26 L501.9,352.63 L502.1,353.03 L502.3,353.47 L502.5,353.95 L502.7,354.46 L502.9,355 L503.1,355.57 L503.3,356.18 L503.5,356.81 L503.7,357.47 L503.9,358.16 L504.1,358.87 L504.3,359.6 L504.5,360.36 L504.7,361.14 L504.9,361.93 L505.1,362.75 L505.3,363.57 L505.5,364.42 L505.7,365.27 L505.9,366.14 L506.1,367.01 L506.3,367.89 L506.5,367.23 L506.7,366.34 L506.9,365.45 L507.1,364.56 L507.3,363.68 L507.5,362.8 L507.7,361.93 L507.9,361.07 L508.1,360.22 L508.3,359.38 L508.5,358.55 L508.7,357.74 L508.9,356.95 L509.1,356.19 L509.3,355.44 L509.5,354.71 L509.7,354.02 L509.9,353.34 L510.1,352.7 L510.3,352.09 L510.5,351.51 L510.7,350.96 L510.9,350.45 L511.1,349.97 L511.3,349.54 L511.5,349.14 L511.7,348.78 L511.9,348.46 L512.1,348.18 L512.3,347.94 L512.5,347.75 L512.7,347.61 L512.9,347.5 L513.1,347.45 L513.3,347.44 L513.5,347.47 L513.7,347.56 L513.9,347.69 L514.1,347.86 L514.3,348.09 L514.5,348.36 L514.7,348.68 L514.9,349.04 L515.1,349.46 L515.3,349.91 L515.5,350.42 L515.7,350.96 L515.9,351.55 L516.1,352.19 L516.3,352.86 L516.5,353.58 L516.7,354.34 L516.9,355.13 L517.1,355.97 L517.3,356.84 L517.5,357.74 L517.7,358.68 L517.9,359.64 L518.1,360.64 L518.3,361.67 L518.5,362.72 L518.7,363.79 L518.9,364.89 L519.1,366 L519.3,367.14 L519.5,367.71 L519.7,366.55 L519.9,365.37 L520.1,364.19 L520.3,363 L520.5,361.81 L520.7,360.62 L520.9,359.42 L521.1,358.24 L521.3,357.05 L521.5,355.88 L521.7,354.72 L521.9,353.57 L522.1,352.44 L522.3,351.33 L522.5,350.24 L522.7,349.17 L522.9,348.14 L523.1,347.13 L523.3,346.15 L523.5,345.21 L523.7,344.31 L523.9,343.44 L524.1,342.62 L524.3,341.84 L524.5,341.11 L524.7,340.43 L524.9,339.8 L525.1,339.23 L525.3,338.71 L525.5,338.24 L525.7,337.84 L525.9,337.5 L526.1,337.22 L526.3,337.01 L526.5,336.86 L526.7,336.78 L526.9,336.77 L527.1,336.83 L527.3,336.97 L527.5,337.17 L527.7,337.46 L527.9,337.81 L528.1,338.24 L528.3,338.75 L528.5,339.34 L528.7,340.01 L528.9,340.75 L529.1,341.57 L529.3,342.47 L529.5,343.45 L529.7,344.51 L529.9,345.65 L530.1,346.86 L530.3,348.15 L530.5,349.52 L530.7,350.96 L530.9,352.48 L531.1,354.08 L531.3,355.74 L531.5,357.48 L531.7,359.29 L531.9,361.17 L532.1,363.12 L532.3,365.13 L532.5,367.21 L532.7,366.66 L532.9,364.46 L533.1,362.2 L533.3,359.89 L533.5,357.52 L533.7,355.1 L533.9,352.63 L534.1,350.12 L534.3,347.56 L534.5,344.96 L534.7,342.33 L534.9,339.66 L535.1,336.96 L535.3,334.22 L535.5,331.47 L535.7,328.68 L535.9,325.88 L536.1,323.07 L536.3,320.24 L536.5,317.4 L536.7,314.55 L536.9,311.7 L537.1,308.86 L537.3,306.01 L537.5,303.17 L537.7,300.35 L537.9,297.54 L538.1,294.74 L538.3,291.97 L538.5,289.22 L538.7,286.5 L538.9,283.82 L539.1,281.16 L539.3,278.55 L539.5,275.97 L539.7,273.45 L539.9,270.97 L540.1,268.54 L540.3,266.16 L540.5,263.85 L540.7,261.59 L540.9,259.4 L541.1,257.27 L541.3,255.21 L541.5,253.22 L541.7,251.31 L541.9,249.48 L542.1,247.72 L542.3,246.04 L542.5,244.45 L542.7,242.95 L542.9,241.53 L543.1,240.2 L543.3,238.96 L543.5,237.82 L543.7,236.77 L543.9,235.81 L544.1,234.96 L544.3,234.2 L544.5,233.54 L544.7,232.98 L544.9,232.52 L545.1,232.16 L545.3,231.9 L545.5,231.75 L545.7,231.7 L545.9,231.75 L546.1,231.9 L546.3,232.16 L546.5,232.52 L546.7,232.98 L546.9,233.54 L547.1,234.2 L547.3,234.96 L547.5,235.81 L547.7,236.77 L547.9,237.82 L548.1,238.96 L548.3,240.2 L548.5,241.53 L548.7,242.95 L548.9,244.45 L549.1,246.04 L549.3,247.72 L549.5,249.48 L549.7,251.31 L549.9,253.22 L550.1,255.21 L550.3,257.27 L550.5,259.4 L550.7,261.59 L550.9,263.85 L551.1,266.16 L551.3,268.54 L551.5,270.97 L551.7,273.45 L551.9,275.97 L552.1,278.55 L552.3,281.16 L552.5,283.82 L552.7,286.5 L552.9,289.22 L553.1,291.97 L553.3,294.74 L553.5,297.54 L553.7,300.35 L553.9,303.17 L554.1,306.01 L554.3,308.86 L554.5,311.7 L554.7,314.55 L554.9,317.4 L555.1,320.24 L555.3,323.07 L555.5,325.88 L555.7,328.68 L555.9,331.47 L556.1,334.22 L556.3,336.96 L556.5,339.66 L556.7,342.33 L556.9,344.96 L557.1,347.56 L557.3,350.12 L557.5,352.63 L557.7,355.1 L557.9,357.52 L558.1,359.89 L558.3,362.2 L558.5,364.46 L558.7,366.66 L558.9,367.21 L559.1,365.13 L559.3,363.12 L559.5,361.17 L559.7,359.29 L559.9,357.48 L560.1,355.74 L560.3,354.08 L560.5,352.48 L560.7,350.96 L560.9,349.52 L561.1,348.15 L561.3,346.86 L561.5,345.65 L561.7,344.51 L561.9,343.45 L562.1,342.47 L562.3,341.57 L562.5,340.75 L562.7,340.01 L562.9,339.34 L563.1,338.75 L563.3,338.24 L563.5,337.81 L563.7,337.46 L563.9,337.17 L564.1,336.97 L564.3,336.83 L564.5,336.77 L564.7,336.78 L564.9,336.86 L565.1,337.01 L565.3,337.22 L565.5,337.5 L565.7,337.84 L565.9,338.24 L566.1,338.71 L566.3,339.23 L566.5,339.8 L566.7,340.43 L566.9,341.11 L567.1,341.84 L567.3,342.62 L567.5,343.44 L567.7,344.31 L567.9,345.21 L568.1,346.15 L568.3,347.13 L568.5,348.14 L568.7,349.17 L568.9,350.24 L569.1,351.33 L569.3,352.44 L569.5,353.57 L569.7,354.72 L569.9,355.88 L570.1,357.05 L570.3,358.24 L570.5,359.42 L570.7,360.62 L570.9,361.81 L571.1,363 L571.3,364.19 L571.5,365.37 L571.7,366.55 L571.9,367.71 L572.1,367.14 L572.3,366 L572.5,364.89 L572.7,363.79 L572.9,362.72 L573.1,361.67 L573.3,360.64 L573.5,359.64 L573.7,358.68 L573.9,357.74 L574.1,356.84 L574.3,355.97 L574.5,355.13 L574.7,354.34 L574.9,353.58 L575.1,352.86 L575.3,352.19 L575.5,351.55 L575.7,350.96 L575.9,350.42 L576.1,349.91 L576.3,349.46 L576.5,349.04 L576.7,348.68 L576.9,348.36 L577.1,348.09 L577.3,347.86 L577.5,347.69 L577.7,347.56 L577.9,347.47 L578.1,347.44 L578.3,347.45 L578.5,347.5 L578.7,347.61 L578.9,347.75 L579.1,347.94 L579.3,348.18 L579.5,348.46 L579.7,348.78 L579.9,349.14 L580.1,349.54 L580.3,349.97 L580.5,350.45 L580.7,350.96 L580.9,351.51 L581.1,352.09 L581.3,352.7 L581.5,353.34 L581.7,354.02 L581.9,354.71 L582.1,355.44 L582.3,356.19 L582.5,356.95 L582.7,357.74 L582.9,358.55 L583.1,359.38 L583.3,360.22 L583.5,361.07 L583.7,361.93 L583.9,362.8 L584.1,363.68 L584.3,364.56 L584.5,365.45 L584.7,366.34 L584.9,367.23 L585.1,367.89 L585.3,367.01 L585.5,366.14 L585.7,365.27 L585.9,364.42 L586.1,363.57 L586.3,362.75 L586.5,361.93 L586.7,361.14 L586.9,360.36 L587.1,359.6 L587.3,358.87 L587.5,358.16 L587.7,357.47 L587.9,356.81 L588.1,356.18 L588.3,355.57 L588.5,355 L588.7,354.46 L588.9,353.95 L589.1,353.47 L589.3,353.03 L589.5,352.63 L589.7,352.26 L589.9,351.92 L590.1,351.62 L590.3,351.37 L590.5,351.14 L590.7,350.96 L590.9,350.82 L591.1,350.71 L591.3,350.65 L591.5,350.62 L591.7,350.64 L591.9,350.69 L592.1,350.78 L592.3,350.91 L592.5,351.08 L592.7,351.28 L592.9,351.53 L593.1,351.81 L593.3,352.12 L593.5,352.47 L593.7,352.86 L593.9,353.28 L594.1,353.73 L594.3,354.21 L594.5,354.73 L594.7,355.27 L594.9,355.84 L595.1,356.44 L595.3,357.06 L595.5,357.71 L595.7,358.38 L595.9,359.07 L596.1,359.78 L596.3,360.5 L596.5,361.25 L596.7,362.01 L596.9,362.78 L597.1,363.56 L597.3,364.36 L597.5,365.16 L597.7,365.97 L597.9,366.78 L598.1,367.59 L598.3,367.59 L598.5,366.78 L598.7,365.97 L598.9,365.16 L599.1,364.36 L599.3,363.56 L599.5,362.78 L599.7,362.01 L599.9,361.25 L600.1,360.5 L600.3,359.78 L600.5,359.07 L600.7,358.38 L600.9,357.71 L601.1,357.06 L601.3,356.44 L601.5,355.84 L601.7,355.27 L601.9,354.73 L602.1,354.21 L602.3,353.73 L602.5,353.28 L602.7,352.86 L602.9,352.47 L603.1,352.12 L603.3,351.81 L603.5,351.53 L603.7,351.28 L603.9,351.08 L604.1,350.91 L604.3,350.78 L604.5,350.69 L604.7,350.64 L604.9,350.62 L605.1,350.65 L605.3,350.71 L605.5,350.82 L605.7,350.96 L605.9,351.14 L606.1,351.37 L606.3,351.62 L606.5,351.92 L606.7,352.26 L606.9,352.63 L607.1,353.03 L607.3,353.47 L607.5,353.95 L607.7,354.46 L607.9,355 L608.1,355.57 L608.3,356.18 L608.5,356.81 L608.7,357.47 L608.9,358.16 L609.1,358.87 L609.3,359.6 L609.5,360.36 L609.7,361.14 L609.9,361.93 L610.1,362.75 L610.3,363.57 L610.5,364.42 L610.7,365.27 L610.9,366.14 L611.1,367.01 L611.3,367.89 L611.5,367.23 L611.7,366.34 L611.9,365.45 L612.1,364.56 L612.3,363.68 L612.5,362.8 L612.7,361.93 L612.9,361.07 L613.1,360.22 L613.3,359.38 L613.5,358.55 L613.7,357.74 L613.9,356.95 L614.1,356.19 L614.3,355.44 L614.5,354.71 L614.7,354.02 L614.9,353.34 L615.1,352.7 L615.3,352.09 L615.5,351.51 L615.7,350.96 L615.9,350.45 L616.1,349.97 L616.3,349.54 L616.5,349.14 L616.7,348.78 L616.9,348.46 L617.1,348.18 L617.3,347.94 L617.5,347.75 L617.7,347.61 L617.9,347.5 L618.1,347.45 L618.3,347.44 L618.5,347.47 L618.7,347.56 L618.9,347.69 L619.1,347.86 L619.3,348.09 L619.5,348.36 L619.7,348.68 L619.9,349.04 L620.1,349.46 L620.3,349.91 L620.5,350.42 L620.7,350.96 L620.9,351.55 L621.1,352.19 L621.3,352.86 L621.5,353.58 L621.7,354.34 L621.9,355.13 L622.1,355.97 L622.3,356.84 L622.5,357.74 L622.7,358.68 L622.9,359.64 L623.1,360.64 L623.3,361.67 L623.5,362.72 L623.7,363.79 L623.9,364.89 L624.1,366 L624.3,367.14 L624.5,367.71 L624.7,366.55 L624.9,365.37 L625.1,364.19 L625.3,363 L625.5,361.81 L625.7,360.62 L625.9,359.42 L626.1,358.24 L626.3,357.05 L626.5,355.88 L626.7,354.72 L626.9,353.57 L627.1,352.44 L627.3,351.33 L627.5,350.24 L627.7,349.17 L627.9,348.14 L628.1,347.13 L628.3,346.15 L628.5,345.21 L628.7,344.31 L628.9,343.44 L629.1,342.62 L629.3,341.84 L629.5,341.11 L629.7,340.43 L629.9,339.8 L630.1,339.23 L630.3,338.71 L630.5,338.24 L630.7,337.84 L630.9,337.5 L631.1,337.22 L631.3,337.01 L631.5,336.86 L631.7,336.78 L631.9,336.77 L632.1,336.83 L632.3,336.97 L632.5,337.17 L632.7,337.46 L632.9,337.81 L633.1,338.24 L633.3,338.75 L633.5,339.34 L633.7,340.01 L633.9,340.75 L634.1,341.57 L634.3,342.47 L634.5,343.45 L634.7,344.51 L634.9,345.65 L635.1,346.86 L635.3,348.15 L635.5,349.52 L635.7,350.96 L635.9,352.48 L636.1,354.08 L636.3,355.74 L636.5,357.48 L636.7,359.29 L636.9,361.17 L637.1,363.12 L637.3,365.13 L637.5,367.21 L637.7,366.66 L637.9,364.46 L638.1,362.2 L638.3,359.89 L638.5,357.52 L638.7,355.1 L638.9,352.63 L639.1,350.12 L639.3,347.56 L639.5,344.96 L639.7,342.33 L639.9,339.66 L640.1,336.96 L640.3,334.22 L640.5,331.47 L640.7,328.68 L640.9,325.88 L641.1,323.07 L641.3,320.24 L641.5,317.4 L641.7,314.55 L641.9,311.7 L642.1,308.86 L642.3,306.01 L642.5,303.17 L642.7,300.35 L642.9,297.54 L643.1,294.74 L643.3,291.97 L643.5,289.22 L643.7,286.5 L643.9,283.82 L644.1,281.16 L644.3,278.55 L644.5,275.97 L644.7,273.45 L644.9,270.97 L645.1,268.54 L645.3,266.16 L645.5,263.85 L645.7,261.59 L645.9,259.4 L646.1,257.27 L646.3,255.21 L646.5,253.22 L646.7,251.31 L646.9,249.48 L647.1,247.72 L647.3,246.04 L647.5,244.45 L647.7,242.95 L647.9,241.53 L648.1,240.2 L648.3,238.96 L648.5,237.82 L648.7,236.77 L648.9,235.81 L649.1,234.96 L649.3,234.2 L649.5,233.54 L649.7,232.98 L649.9,232.52 L650.1,232.16 L650.3,231.9 L650.5,231.75 L650.7,231.7 L650.9,231.75 L651.1,231.9 L651.3,232.16 L651.5,232.52 L651.7,232.98 L651.9,233.54 L652.1,234.2 L652.3,234.96 L652.5,235.81 L652.7,236.77 L652.9,237.82 L653.1,238.96 L653.3,240.2 L653.5,241.53 L653.7,242.95 L653.9,244.45 L654.1,246.04 L654.3,247.72 L654.5,249.48 L654.7,251.31 L654.9,253.22 L655.1,255.21 L655.3,257.27 L655.5,259.4 L655.7,261.59 L655.9,263.85 L656.1,266.16 L656.3,268.54 L656.5,270.97 L656.7,273.45 L656.9,275.97 L657.1,278.55 L657.3,281.16 L657.5,283.82 L657.7,286.5 L657.9,289.22 L658.1,291.97 L658.3,294.74 L658.5,297.54 L658.7,300.35 L658.9,303.17 L659.1,306.01 L659.3,308.86 L659.5,311.7 L659.7,314.55 L659.9,317.4 L660.1,320.24 L660.3,323.07 L660.5,325.88 L660.7,328.68 L660.9,331.47 L661.1,334.22 L661.3,336.96 L661.5,339.66 L661.7,342.33 L661.9,344.96 L662.1,347.56 L662.3,350.12 L662.5,352.63 L662.7,355.1 L662.9,357.52 L663.1,359.89 L663.3,362.2 L663.5,364.46 L663.7,366.66 L663.9,367.21 L664.1,365.13 L664.3,363.12 L664.5,361.17 L664.7,359.29 L664.9,357.48 L665.1,355.74 L665.3,354.08 L665.5,352.48 L665.7,350.96 L665.9,349.52 L666.1,348.15 L666.3,346.86 L666.5,345.65 L666.7,344.51 L666.9,343.45 L667.1,342.47 L667.3,341.57 L667.5,340.75 L667.7,340.01 L667.9,339.34 L668.1,338.75 L668.3,338.24 L668.5,337.81 L668.7,337.46 L668.9,337.17 L669.1,336.97 L669.3,336.83 L669.5,336.77 L669.7,336.78 L669.9,336.86 L670.1,337.01 L670.3,337.22 L670.5,337.5 L670.7,337.84 L670.9,338.24 L671.1,338.71 L671.3,339.23 L671.5,339.8 L671.7,340.43 L671.9,341.11 L672.1,341.84 L672.3,342.62 L672.5,343.44 L672.7,344.31 L672.9,345.21 L673.1,346.15 L673.3,347.13 L673.5,348.14 L673.7,349.17 L673.9,350.24 L674.1,351.33 L674.3,352.44 L674.5,353.57 L674.7,354.72 L674.9,355.88 L675.1,357.05 L675.3,358.24 L675.5,359.42 L675.7,360.62 L675.9,361.81 L676.1,363 L676.3,364.19 L676.5,365.37 L676.7,366.55 L676.9,367.71 L677.1,367.14 L677.3,366 L677.5,364.89 L677.7,363.79 L677.9,362.72 L678.1,361.67 L678.3,360.64 L678.5,359.64 L678.7,358.68 L678.9,357.74 L679.1,356.84 L679.3,355.97 L679.5,355.13 L679.7,354.34 L679.9,353.58 L680.1,352.86 L680.3,352.19 L680.5,351.55 L680.7,350.96 L680.9,350.42 L681.1,349.91 L681.3,349.46 L681.5,349.04 L681.7,348.68 L681.9,348.36 L682.1,348.09 L682.3,347.86 L682.5,347.69 L682.7,347.56 L682.9,347.47 L683.1,347.44 L683.3,347.45" stroke="#80c040" stroke-width="2.1" stroke-dasharray="1.6 1.4"/>
<path d="M407.7,358.44 L407.9,357.49 L408.1,356.54 L408.3,355.6 L408.5,354.67 L408.7,353.75 L408.9,352.84 L409.1,351.94 L409.3,351.05 L409.5,350.18 L409.7,349.32 L409.9,348.48 L410.1,347.65 L410.3,346.84 L410.5,346.05 L410.7,345.28 L410.9,344.54 L411.1,343.81 L411.3,343.11 L411.5,342.43 L411.7,341.78 L411.9,341.15 L412.1,340.55 L412.3,339.98 L412.5,339.44 L412.7,338.93 L412.9,338.45 L413.1,338 L413.3,337.58 L413.5,337.2 L413.7,336.86 L413.9,336.54 L414.1,336.27 L414.3,336.03 L414.5,335.83 L414.7,335.66 L414.9,335.54 L415.1,335.45 L415.3,335.41 L415.5,335.4 L415.7,335.44 L415.9,335.52 L416.1,335.64 L416.3,335.8 L416.5,336 L416.7,336.25 L416.9,336.54 L417.1,336.88 L417.3,337.26 L417.5,337.68 L417.7,338.15 L417.9,338.66 L418.1,339.22 L418.3,339.82 L418.5,340.47 L418.7,341.16 L418.9,341.89 L419.1,342.68 L419.3,343.5 L419.5,344.37 L419.7,345.28 L419.9,346.24 L420.1,347.24 L420.3,348.29 L420.5,349.37 L420.7,350.5 L420.9,351.67 L421.1,352.89 L421.3,354.14 L421.5,355.44 L421.7,356.77 L421.9,358.15 L422.1,359.56 L422.3,361.01 L422.5,362.5 L422.7,364.03 L422.9,365.59 L423.1,367.19 L423.3,367.18 L423.5,365.52 L423.7,363.82 L423.9,362.09 L424.1,360.33 L424.3,358.54 L424.5,356.73 L424.7,354.88 L424.9,353.01 L425.1,351.11 L425.3,349.19 L425.5,347.25 L425.7,345.28 L425.9,343.3 L426.1,341.29 L426.3,339.27 L426.5,337.23 L426.7,335.17 L426.9,333.1 L427.1,331.02 L427.3,328.92 L427.5,326.82 L427.7,324.7 L427.9,322.58 L428.1,320.45 L428.3,318.32 L428.5,316.18 L428.7,314.04 L428.9,311.91 L429.1,309.77 L429.3,307.63 L429.5,305.5 L429.7,303.37 L429.9,301.25 L430.1,299.14 L430.3,297.03 L430.5,294.94 L430.7,292.86 L430.9,290.8 L431.1,288.75 L431.3,286.71 L431.5,284.69 L431.7,282.7 L431.9,280.72 L432.1,278.77 L432.3,276.83 L432.5,274.93 L432.7,273.05 L432.9,271.2 L433.1,269.37 L433.3,267.58 L433.5,265.82 L433.7,264.09 L433.9,262.39 L434.1,260.73 L434.3,259.1 L434.5,257.52 L434.7,255.97 L434.9,254.46 L435.1,252.99 L435.3,251.56 L435.5,250.18 L435.7,248.84 L435.9,247.54 L436.1,246.29 L436.3,245.08 L436.5,243.93 L436.7,242.82 L436.9,241.76 L437.1,240.75 L437.3,239.79 L437.5,238.88 L437.7,238.02 L437.9,237.21 L438.1,236.46 L438.3,235.76 L438.5,235.12 L438.7,234.53 L438.9,233.99 L439.1,233.52 L439.3,233.09 L439.5,232.72 L439.7,232.41 L439.9,232.16 L440.1,231.96 L440.3,231.81 L440.5,231.73 L440.7,231.7 L440.9,231.73 L441.1,231.81 L441.3,231.96 L441.5,232.16 L441.7,232.41 L441.9,232.72 L442.1,233.09 L442.3,233.52 L442.5,233.99 L442.7,234.53 L442.9,235.12 L443.1,235.76 L443.3,236.46 L443.5,237.21 L443.7,238.02 L443.9,238.88 L444.1,239.79 L444.3,240.75 L444.5,241.76 L444.7,242.82 L444.9,243.93 L445.1,245.08 L445.3,246.29 L445.5,247.54 L445.7,248.84 L445.9,250.18 L446.1,251.56 L446.3,252.99 L446.5,254.46 L446.7,255.97 L446.9,257.52 L447.1,259.1 L447.3,260.73 L447.5,262.39 L447.7,264.09 L447.9,265.82 L448.1,267.58 L448.3,269.37 L448.5,271.2 L448.7,273.05 L448.9,274.93 L449.1,276.83 L449.3,278.77 L449.5,280.72 L449.7,282.7 L449.9,284.69 L450.1,286.71 L450.3,288.75 L450.5,290.8 L450.7,292.86 L450.9,294.94 L451.1,297.03 L451.3,299.14 L451.5,301.25 L451.7,303.37 L451.9,305.5 L452.1,307.63 L452.3,309.77 L452.5,311.91 L452.7,314.04 L452.9,316.18 L453.1,318.32 L453.3,320.45 L453.5,322.58 L453.7,324.7 L453.9,326.82 L454.1,328.92 L454.3,331.02 L454.5,333.1 L454.7,335.17 L454.9,337.23 L455.1,339.27 L455.3,341.29 L455.5,343.3 L455.7,345.28 L455.9,347.25 L456.1,349.19 L456.3,351.11 L456.5,353.01 L456.7,354.88 L456.9,356.73 L457.1,358.54 L457.3,360.33 L457.5,362.09 L457.7,363.82 L457.9,365.52 L458.1,367.18 L458.3,367.19 L458.5,365.59 L458.7,364.03 L458.9,362.5 L459.1,361.01 L459.3,359.56 L459.5,358.15 L459.7,356.77 L459.9,355.44 L460.1,354.14 L460.3,352.89 L460.5,351.67 L460.7,350.5 L460.9,349.37 L461.1,348.29 L461.3,347.24 L461.5,346.24 L461.7,345.28 L461.9,344.37 L462.1,343.5 L462.3,342.68 L462.5,341.89 L462.7,341.16 L462.9,340.47 L463.1,339.82 L463.3,339.22 L463.5,338.66 L463.7,338.15 L463.9,337.68 L464.1,337.26 L464.3,336.88 L464.5,336.54 L464.7,336.25 L464.9,336 L465.1,335.8 L465.3,335.64 L465.5,335.52 L465.7,335.44 L465.9,335.4 L466.1,335.41 L466.3,335.45 L466.5,335.54 L466.7,335.66 L466.9,335.83 L467.1,336.03 L467.3,336.27 L467.5,336.54 L467.7,336.86 L467.9,337.2 L468.1,337.58 L468.3,338 L468.5,338.45 L468.7,338.93 L468.9,339.44 L469.1,339.98 L469.3,340.55 L469.5,341.15 L469.7,341.78 L469.9,342.43 L470.1,343.11 L470.3,343.81 L470.5,344.54 L470.7,345.28 L470.9,346.05 L471.1,346.84 L471.3,347.65 L471.5,348.48 L471.7,349.32 L471.9,350.18 L472.1,351.05 L472.3,351.94 L472.5,352.84 L472.7,353.75 L472.9,354.67 L473.1,355.6 L473.3,356.54 L473.5,357.49 L473.7,358.44 L473.9,359.39 L474.1,360.35 L474.3,361.31 L474.5,362.27 L474.7,363.23 L474.9,364.19 L475.1,365.15 L475.3,366.1 L475.5,367.06 L475.7,368 L475.9,367.06 L476.1,366.13 L476.3,365.21 L476.5,364.3 L476.7,363.39 L476.9,362.5 L477.1,361.63 L477.3,360.76 L477.5,359.91 L477.7,359.08 L477.9,358.26 L478.1,357.45 L478.3,356.67 L478.5,355.91 L478.7,355.16 L478.9,354.43 L479.1,353.73 L479.3,353.04 L479.5,352.38 L479.7,351.75 L479.9,351.13 L480.1,350.54 L480.3,349.98 L480.5,349.44 L480.7,348.92 L480.9,348.43 L481.1,347.97 L481.3,347.54 L481.5,347.13 L481.7,346.75 L481.9,346.4 L482.1,346.08 L482.3,345.78 L482.5,345.52 L482.7,345.28 L482.9,345.08 L483.1,344.9 L483.3,344.75 L483.5,344.64 L483.7,344.55 L483.9,344.49 L484.1,344.46 L484.3,344.46 L484.5,344.49 L484.7,344.55 L484.9,344.64 L485.1,344.76 L485.3,344.91 L485.5,345.08 L485.7,345.28 L485.9,345.51 L486.1,345.77 L486.3,346.06 L486.5,346.37 L486.7,346.71 L486.9,347.07 L487.1,347.46 L487.3,347.88 L487.5,348.32 L487.7,348.78 L487.9,349.27 L488.1,349.78 L488.3,350.31 L488.5,350.86 L488.7,351.43 L488.9,352.02 L489.1,352.63 L489.3,353.26 L489.5,353.91 L489.7,354.57 L489.9,355.25 L490.1,355.95 L490.3,356.66 L490.5,357.38 L490.7,358.12 L490.9,358.86 L491.1,359.62 L491.3,360.39 L491.5,361.17 L491.7,361.95 L491.9,362.74 L492.1,363.54 L492.3,364.34 L492.5,365.15 L492.7,365.96 L492.9,366.78 L493.1,367.59 L493.3,367.59 L493.5,366.78 L493.7,365.96 L493.9,365.15 L494.1,364.34 L494.3,363.54 L494.5,362.74 L494.7,361.95 L494.9,361.17 L495.1,360.39 L495.3,359.62 L495.5,358.86 L495.7,358.12 L495.9,357.38 L496.1,356.66 L496.3,355.95 L496.5,355.25 L496.7,354.57 L496.9,353.91 L497.1,353.26 L497.3,352.63 L497.5,352.02 L497.7,351.43 L497.9,350.86 L498.1,350.31 L498.3,349.78 L498.5,349.27 L498.7,348.78 L498.9,348.32 L499.1,347.88 L499.3,347.46 L499.5,347.07 L499.7,346.71 L499.9,346.37 L500.1,346.06 L500.3,345.77 L500.5,345.51 L500.7,345.28 L500.9,345.08 L501.1,344.91 L501.3,344.76 L501.5,344.64 L501.7,344.55 L501.9,344.49 L502.1,344.46 L502.3,344.46 L502.5,344.49 L502.7,344.55 L502.9,344.64 L503.1,344.75 L503.3,344.9 L503.5,345.08 L503.7,345.28 L503.9,345.52 L504.1,345.78 L504.3,346.08 L504.5,346.4 L504.7,346.75 L504.9,347.13 L505.1,347.54 L505.3,347.97 L505.5,348.43 L505.7,348.92 L505.9,349.44 L506.1,349.98 L506.3,350.54 L506.5,351.13 L506.7,351.75 L506.9,352.38 L507.1,353.04 L507.3,353.73 L507.5,354.43 L507.7,355.16 L507.9,355.91 L508.1,356.67 L508.3,357.45 L508.5,358.26 L508.7,359.08 L508.9,359.91 L509.1,360.76 L509.3,361.63 L509.5,362.5 L509.7,363.39 L509.9,364.3 L510.1,365.21 L510.3,366.13 L510.5,367.06 L510.7,368 L510.9,367.06 L511.1,366.1 L511.3,365.15 L511.5,364.19 L511.7,363.23 L511.9,362.27 L512.1,361.31 L512.3,360.35 L512.5,359.39 L512.7,358.44 L512.9,357.49 L513.1,356.54 L513.3,355.6 L513.5,354.67 L513.7,353.75 L513.9,352.84 L514.1,351.94 L514.3,351.05 L514.5,350.18 L514.7,349.32 L514.9,348.48 L515.1,347.65 L515.3,346.84 L515.5,346.05 L515.7,345.28 L515.9,344.54 L516.1,343.81 L516.3,343.11 L516.5,342.43 L516.7,341.78 L516.9,341.15 L517.1,340.55 L517.3,339.98 L517.5,339.44 L517.7,338.93 L517.9,338.45 L518.1,338 L518.3,337.58 L518.5,337.2 L518.7,336.86 L518.9,336.54 L519.1,336.27 L519.3,336.03 L519.5,335.83 L519.7,335.66 L519.9,335.54 L520.1,335.45 L520.3,335.41 L520.5,335.4 L520.7,335.44 L520.9,335.52 L521.1,335.64 L521.3,335.8 L521.5,336 L521.7,336.25 L521.9,336.54 L522.1,336.88 L522.3,337.26 L522.5,337.68 L522.7,338.15 L522.9,338.66 L523.1,339.22 L523.3,339.82 L523.5,340.47 L523.7,341.16 L523.9,341.89 L524.1,342.68 L524.3,343.5 L524.5,344.37 L524.7,345.28 L524.9,346.24 L525.1,347.24 L525.3,348.29 L525.5,349.37 L525.7,350.5 L525.9,351.67 L526.1,352.89 L526.3,354.14 L526.5,355.44 L526.7,356.77 L526.9,358.15 L527.1,359.56 L527.3,361.01 L527.5,362.5 L527.7,364.03 L527.9,365.59 L528.1,367.19 L528.3,367.18 L528.5,365.52 L528.7,363.82 L528.9,362.09 L529.1,360.33 L529.3,358.54 L529.5,356.73 L529.7,354.88 L529.9,353.01 L530.1,351.11 L530.3,349.19 L530.5,347.25 L530.7,345.28 L530.9,343.3 L531.1,341.29 L531.3,339.27 L531.5,337.23 L531.7,335.17 L531.9,333.1 L532.1,331.02 L532.3,328.92 L532.5,326.82 L532.7,324.7 L532.9,322.58 L533.1,320.45 L533.3,318.32 L533.5,316.18 L533.7,314.04 L533.9,311.91 L534.1,309.77 L534.3,307.63 L534.5,305.5 L534.7,303.37 L534.9,301.25 L535.1,299.14 L535.3,297.03 L535.5,294.94 L535.7,292.86 L535.9,290.8 L536.1,288.75 L536.3,286.71 L536.5,284.69 L536.7,282.7 L536.9,280.72 L537.1,278.77 L537.3,276.83 L537.5,274.93 L537.7,273.05 L537.9,271.2 L538.1,269.37 L538.3,267.58 L538.5,265.82 L538.7,264.09 L538.9,262.39 L539.1,260.73 L539.3,259.1 L539.5,257.52 L539.7,255.97 L539.9,254.46 L540.1,252.99 L540.3,251.56 L540.5,250.18 L540.7,248.84 L540.9,247.54 L541.1,246.29 L541.3,245.08 L541.5,243.93 L541.7,242.82 L541.9,241.76 L542.1,240.75 L542.3,239.79 L542.5,238.88 L542.7,238.02 L542.9,237.21 L543.1,236.46 L543.3,235.76 L543.5,235.12 L543.7,234.53 L543.9,233.99 L544.1,233.52 L544.3,233.09 L544.5,232.72 L544.7,232.41 L544.9,232.16 L545.1,231.96 L545.3,231.81 L545.5,231.73 L545.7,231.7 L545.9,231.73 L546.1,231.81 L546.3,231.96 L546.5,232.16 L546.7,232.41 L546.9,232.72 L547.1,233.09 L547.3,233.52 L547.5,233.99 L547.7,234.53 L547.9,235.12 L548.1,235.76 L548.3,236.46 L548.5,237.21 L548.7,238.02 L548.9,238.88 L549.1,239.79 L549.3,240.75 L549.5,241.76 L549.7,242.82 L549.9,243.93 L550.1,245.08 L550.3,246.29 L550.5,247.54 L550.7,248.84 L550.9,250.18 L551.1,251.56 L551.3,252.99 L551.5,254.46 L551.7,255.97 L551.9,257.52 L552.1,259.1 L552.3,260.73 L552.5,262.39 L552.7,264.09 L552.9,265.82 L553.1,267.58 L553.3,269.37 L553.5,271.2 L553.7,273.05 L553.9,274.93 L554.1,276.83 L554.3,278.77 L554.5,280.72 L554.7,282.7 L554.9,284.69 L555.1,286.71 L555.3,288.75 L555.5,290.8 L555.7,292.86 L555.9,294.94 L556.1,297.03 L556.3,299.14 L556.5,301.25 L556.7,303.37 L556.9,305.5 L557.1,307.63 L557.3,309.77 L557.5,311.91 L557.7,314.04 L557.9,316.18 L558.1,318.32 L558.3,320.45 L558.5,322.58 L558.7,324.7 L558.9,326.82 L559.1,328.92 L559.3,331.02 L559.5,333.1 L559.7,335.17 L559.9,337.23 L560.1,339.27 L560.3,341.29 L560.5,343.3 L560.7,345.28 L560.9,347.25 L561.1,349.19 L561.3,351.11 L561.5,353.01 L561.7,354.88 L561.9,356.73 L562.1,358.54 L562.3,360.33 L562.5,362.09 L562.7,363.82 L562.9,365.52 L563.1,367.18 L563.3,367.19 L563.5,365.59 L563.7,364.03 L563.9,362.5 L564.1,361.01 L564.3,359.56 L564.5,358.15 L564.7,356.77 L564.9,355.44 L565.1,354.14 L565.3,352.89 L565.5,351.67 L565.7,350.5 L565.9,349.37 L566.1,348.29 L566.3,347.24 L566.5,346.24 L566.7,345.28 L566.9,344.37 L567.1,343.5 L567.3,342.68 L567.5,341.89 L567.7,341.16 L567.9,340.47 L568.1,339.82 L568.3,339.22 L568.5,338.66 L568.7,338.15 L568.9,337.68 L569.1,337.26 L569.3,336.88 L569.5,336.54 L569.7,336.25 L569.9,336 L570.1,335.8 L570.3,335.64 L570.5,335.52 L570.7,335.44 L570.9,335.4 L571.1,335.41 L571.3,335.45 L571.5,335.54 L571.7,335.66 L571.9,335.83 L572.1,336.03 L572.3,336.27 L572.5,336.54 L572.7,336.86 L572.9,337.2 L573.1,337.58 L573.3,338 L573.5,338.45 L573.7,338.93 L573.9,339.44 L574.1,339.98 L574.3,340.55 L574.5,341.15 L574.7,341.78 L574.9,342.43 L575.1,343.11 L575.3,343.81 L575.5,344.54 L575.7,345.28 L575.9,346.05 L576.1,346.84 L576.3,347.65 L576.5,348.48 L576.7,349.32 L576.9,350.18 L577.1,351.05 L577.3,351.94 L577.5,352.84 L577.7,353.75 L577.9,354.67 L578.1,355.6 L578.3,356.54 L578.5,357.49 L578.7,358.44 L578.9,359.39 L579.1,360.35 L579.3,361.31 L579.5,362.27 L579.7,363.23 L579.9,364.19 L580.1,365.15 L580.3,366.1 L580.5,367.06 L580.7,368 L580.9,367.06 L581.1,366.13 L581.3,365.21 L581.5,364.3 L581.7,363.39 L581.9,362.5 L582.1,361.63 L582.3,360.76 L582.5,359.91 L582.7,359.08 L582.9,358.26 L583.1,357.45 L583.3,356.67 L583.5,355.91 L583.7,355.16 L583.9,354.43 L584.1,353.73 L584.3,353.04 L584.5,352.38 L584.7,351.75 L584.9,351.13 L585.1,350.54 L585.3,349.98 L585.5,349.44 L585.7,348.92 L585.9,348.43 L586.1,347.97 L586.3,347.54 L586.5,347.13 L586.7,346.75 L586.9,346.4 L587.1,346.08 L587.3,345.78 L587.5,345.52 L587.7,345.28 L587.9,345.08 L588.1,344.9 L588.3,344.75 L588.5,344.64 L588.7,344.55 L588.9,344.49 L589.1,344.46 L589.3,344.46 L589.5,344.49 L589.7,344.55 L589.9,344.64 L590.1,344.76 L590.3,344.91 L590.5,345.08 L590.7,345.28 L590.9,345.51 L591.1,345.77 L591.3,346.06 L591.5,346.37 L591.7,346.71 L591.9,347.07 L592.1,347.46 L592.3,347.88 L592.5,348.32 L592.7,348.78 L592.9,349.27 L593.1,349.78 L593.3,350.31 L593.5,350.86 L593.7,351.43 L593.9,352.02 L594.1,352.63 L594.3,353.26 L594.5,353.91 L594.7,354.57 L594.9,355.25 L595.1,355.95 L595.3,356.66 L595.5,357.38 L595.7,358.12 L595.9,358.86 L596.1,359.62 L596.3,360.39 L596.5,361.17 L596.7,361.95 L596.9,362.74 L597.1,363.54 L597.3,364.34 L597.5,365.15 L597.7,365.96 L597.9,366.78 L598.1,367.59 L598.3,367.59 L598.5,366.78 L598.7,365.96 L598.9,365.15 L599.1,364.34 L599.3,363.54 L599.5,362.74 L599.7,361.95 L599.9,361.17 L600.1,360.39 L600.3,359.62 L600.5,358.86 L600.7,358.12 L600.9,357.38 L601.1,356.66 L601.3,355.95 L601.5,355.25 L601.7,354.57 L601.9,353.91 L602.1,353.26 L602.3,352.63 L602.5,352.02 L602.7,351.43 L602.9,350.86 L603.1,350.31 L603.3,349.78 L603.5,349.27 L603.7,348.78 L603.9,348.32 L604.1,347.88 L604.3,347.46 L604.5,347.07 L604.7,346.71 L604.9,346.37 L605.1,346.06 L605.3,345.77 L605.5,345.51 L605.7,345.28 L605.9,345.08 L606.1,344.91 L606.3,344.76 L606.5,344.64 L606.7,344.55 L606.9,344.49 L607.1,344.46 L607.3,344.46 L607.5,344.49 L607.7,344.55 L607.9,344.64 L608.1,344.75 L608.3,344.9 L608.5,345.08 L608.7,345.28 L608.9,345.52 L609.1,345.78 L609.3,346.08 L609.5,346.4 L609.7,346.75 L609.9,347.13 L610.1,347.54 L610.3,347.97 L610.5,348.43 L610.7,348.92 L610.9,349.44 L611.1,349.98 L611.3,350.54 L611.5,351.13 L611.7,351.75 L611.9,352.38 L612.1,353.04 L612.3,353.73 L612.5,354.43 L612.7,355.16 L612.9,355.91 L613.1,356.67 L613.3,357.45 L613.5,358.26 L613.7,359.08 L613.9,359.91 L614.1,360.76 L614.3,361.63 L614.5,362.5 L614.7,363.39 L614.9,364.3 L615.1,365.21 L615.3,366.13 L615.5,367.06 L615.7,368 L615.9,367.06 L616.1,366.1 L616.3,365.15 L616.5,364.19 L616.7,363.23 L616.9,362.27 L617.1,361.31 L617.3,360.35 L617.5,359.39 L617.7,358.44 L617.9,357.49 L618.1,356.54 L618.3,355.6 L618.5,354.67 L618.7,353.75 L618.9,352.84 L619.1,351.94 L619.3,351.05 L619.5,350.18 L619.7,349.32 L619.9,348.48 L620.1,347.65 L620.3,346.84 L620.5,346.05 L620.7,345.28 L620.9,344.54 L621.1,343.81 L621.3,343.11 L621.5,342.43 L621.7,341.78 L621.9,341.15 L622.1,340.55 L622.3,339.98 L622.5,339.44 L622.7,338.93 L622.9,338.45 L623.1,338 L623.3,337.58 L623.5,337.2 L623.7,336.86 L623.9,336.54 L624.1,336.27 L624.3,336.03 L624.5,335.83 L624.7,335.66 L624.9,335.54 L625.1,335.45 L625.3,335.41 L625.5,335.4 L625.7,335.44 L625.9,335.52 L626.1,335.64 L626.3,335.8 L626.5,336 L626.7,336.25 L626.9,336.54 L627.1,336.88 L627.3,337.26 L627.5,337.68 L627.7,338.15 L627.9,338.66 L628.1,339.22 L628.3,339.82 L628.5,340.47 L628.7,341.16 L628.9,341.89 L629.1,342.68 L629.3,343.5 L629.5,344.37 L629.7,345.28 L629.9,346.24 L630.1,347.24 L630.3,348.29 L630.5,349.37 L630.7,350.5 L630.9,351.67 L631.1,352.89 L631.3,354.14 L631.5,355.44 L631.7,356.77 L631.9,358.15 L632.1,359.56 L632.3,361.01 L632.5,362.5 L632.7,364.03 L632.9,365.59 L633.1,367.19 L633.3,367.18 L633.5,365.52 L633.7,363.82 L633.9,362.09 L634.1,360.33 L634.3,358.54 L634.5,356.73 L634.7,354.88 L634.9,353.01 L635.1,351.11 L635.3,349.19 L635.5,347.25 L635.7,345.28 L635.9,343.3 L636.1,341.29 L636.3,339.27 L636.5,337.23 L636.7,335.17 L636.9,333.1 L637.1,331.02 L637.3,328.92 L637.5,326.82 L637.7,324.7 L637.9,322.58 L638.1,320.45 L638.3,318.32 L638.5,316.18 L638.7,314.04 L638.9,311.91 L639.1,309.77 L639.3,307.63 L639.5,305.5 L639.7,303.37 L639.9,301.25 L640.1,299.14 L640.3,297.03 L640.5,294.94 L640.7,292.86 L640.9,290.8 L641.1,288.75 L641.3,286.71 L641.5,284.69 L641.7,282.7 L641.9,280.72 L642.1,278.77 L642.3,276.83 L642.5,274.93 L642.7,273.05 L642.9,271.2 L643.1,269.37 L643.3,267.58 L643.5,265.82 L643.7,264.09 L643.9,262.39 L644.1,260.73 L644.3,259.1 L644.5,257.52 L644.7,255.97 L644.9,254.46 L645.1,252.99 L645.3,251.56 L645.5,250.18 L645.7,248.84 L645.9,247.54 L646.1,246.29 L646.3,245.08 L646.5,243.93 L646.7,242.82 L646.9,241.76 L647.1,240.75 L647.3,239.79 L647.5,238.88 L647.7,238.02 L647.9,237.21 L648.1,236.46 L648.3,235.76 L648.5,235.12 L648.7,234.53 L648.9,233.99 L649.1,233.52 L649.3,233.09 L649.5,232.72 L649.7,232.41 L649.9,232.16 L650.1,231.96 L650.3,231.81 L650.5,231.73 L650.7,231.7 L650.9,231.73 L651.1,231.81 L651.3,231.96 L651.5,232.16 L651.7,232.41 L651.9,232.72 L652.1,233.09 L652.3,233.52 L652.5,233.99 L652.7,234.53 L652.9,235.12 L653.1,235.76 L653.3,236.46 L653.5,237.21 L653.7,238.02 L653.9,238.88 L654.1,239.79 L654.3,240.75 L654.5,241.76 L654.7,242.82 L654.9,243.93 L655.1,245.08 L655.3,246.29 L655.5,247.54 L655.7,248.84 L655.9,250.18 L656.1,251.56 L656.3,252.99 L656.5,254.46 L656.7,255.97 L656.9,257.52 L657.1,259.1 L657.3,260.73 L657.5,262.39 L657.7,264.09 L657.9,265.82 L658.1,267.58 L658.3,269.37 L658.5,271.2 L658.7,273.05 L658.9,274.93 L659.1,276.83 L659.3,278.77 L659.5,280.72 L659.7,282.7 L659.9,284.69 L660.1,286.71 L660.3,288.75 L660.5,290.8 L660.7,292.86 L660.9,294.94 L661.1,297.03 L661.3,299.14 L661.5,301.25 L661.7,303.37 L661.9,305.5 L662.1,307.63 L662.3,309.77 L662.5,311.91 L662.7,314.04 L662.9,316.18 L663.1,318.32 L663.3,320.45 L663.5,322.58 L663.7,324.7 L663.9,326.82 L664.1,328.92 L664.3,331.02 L664.5,333.1 L664.7,335.17 L664.9,337.23 L665.1,339.27 L665.3,341.29 L665.5,343.3 L665.7,345.28 L665.9,347.25 L666.1,349.19 L666.3,351.11 L666.5,353.01 L666.7,354.88 L666.9,356.73 L667.1,358.54 L667.3,360.33 L667.5,362.09 L667.7,363.82 L667.9,365.52 L668.1,367.18 L668.3,367.19 L668.5,365.59 L668.7,364.03 L668.9,362.5 L669.1,361.01 L669.3,359.56 L669.5,358.15 L669.7,356.77 L669.9,355.44 L670.1,354.14 L670.3,352.89 L670.5,351.67 L670.7,350.5 L670.9,349.37 L671.1,348.29 L671.3,347.24 L671.5,346.24 L671.7,345.28 L671.9,344.37 L672.1,343.5 L672.3,342.68 L672.5,341.89 L672.7,341.16 L672.9,340.47 L673.1,339.82 L673.3,339.22 L673.5,338.66 L673.7,338.15 L673.9,337.68 L674.1,337.26 L674.3,336.88 L674.5,336.54 L674.7,336.25 L674.9,336 L675.1,335.8 L675.3,335.64 L675.5,335.52 L675.7,335.44 L675.9,335.4 L676.1,335.41 L676.3,335.45 L676.5,335.54 L676.7,335.66 L676.9,335.83 L677.1,336.03 L677.3,336.27 L677.5,336.54 L677.7,336.86 L677.9,337.2 L678.1,337.58 L678.3,338 L678.5,338.45 L678.7,338.93 L678.9,339.44 L679.1,339.98 L679.3,340.55 L679.5,341.15 L679.7,341.78 L679.9,342.43 L680.1,343.11 L680.3,343.81 L680.5,344.54 L680.7,345.28 L680.9,346.05 L681.1,346.84 L681.3,347.65 L681.5,348.48 L681.7,349.32 L681.9,350.18 L682.1,351.05 L682.3,351.94 L682.5,352.84 L682.7,353.75 L682.9,354.67 L683.1,355.6 L683.3,356.54" stroke="#f71fe0" stroke-width="2.3" stroke-dasharray="3.8 1.7 1.5 1.7"/>
<path d="M407.7,338.49 L407.9,339.06 L408.1,339.65 L408.3,340.26 L408.5,340.89 L408.7,341.53 L408.9,342.2 L409.1,342.89 L409.3,343.6 L409.5,344.33 L409.7,345.07 L409.9,345.84 L410.1,346.62 L410.3,347.43 L410.5,348.25 L410.7,349.09 L410.9,349.95 L411.1,350.83 L411.3,351.72 L411.5,352.63 L411.7,353.56 L411.9,354.51 L412.1,355.47 L412.3,356.45 L412.5,357.45 L412.7,358.47 L412.9,359.5 L413.1,360.54 L413.3,361.6 L413.5,362.68 L413.7,363.77 L413.9,364.88 L414.1,366 L414.3,367.14 L414.5,367.71 L414.7,366.55 L414.9,365.37 L415.1,364.18 L415.3,362.98 L415.5,361.76 L415.7,360.53 L415.9,359.29 L416.1,358.04 L416.3,356.78 L416.5,355.51 L416.7,354.22 L416.9,352.93 L417.1,351.62 L417.3,350.31 L417.5,348.99 L417.7,347.65 L417.9,346.31 L418.1,344.96 L418.3,343.61 L418.5,342.24 L418.7,340.87 L418.9,339.5 L419.1,338.11 L419.3,336.72 L419.5,335.33 L419.7,333.93 L419.9,332.52 L420.1,331.11 L420.3,329.7 L420.5,328.28 L420.7,326.86 L420.9,325.43 L421.1,324.01 L421.3,322.58 L421.5,321.15 L421.7,319.72 L421.9,318.28 L422.1,316.85 L422.3,315.42 L422.5,313.99 L422.7,312.55 L422.9,311.12 L423.1,309.69 L423.3,308.27 L423.5,306.84 L423.7,305.42 L423.9,304 L424.1,302.58 L424.3,301.17 L424.5,299.77 L424.7,298.36 L424.9,296.97 L425.1,295.57 L425.3,294.19 L425.5,292.81 L425.7,291.43 L425.9,290.07 L426.1,288.71 L426.3,287.36 L426.5,286.02 L426.7,284.68 L426.9,283.36 L427.1,282.04 L427.3,280.74 L427.5,279.44 L427.7,278.16 L427.9,276.88 L428.1,275.62 L428.3,274.37 L428.5,273.13 L428.7,271.9 L428.9,270.69 L429.1,269.49 L429.3,268.3 L429.5,267.12 L429.7,265.96 L429.9,264.82 L430.1,263.69 L430.3,262.57 L430.5,261.47 L430.7,260.39 L430.9,259.32 L431.1,258.27 L431.3,257.23 L431.5,256.21 L431.7,255.21 L431.9,254.23 L432.1,253.26 L432.3,252.31 L432.5,251.38 L432.7,250.47 L432.9,249.58 L433.1,248.71 L433.3,247.85 L433.5,247.02 L433.7,246.2 L433.9,245.41 L434.1,244.64 L434.3,243.88 L434.5,243.15 L434.7,242.44 L434.9,241.75 L435.1,241.08 L435.3,240.44 L435.5,239.81 L435.7,239.21 L435.9,238.63 L436.1,238.07 L436.3,237.54 L436.5,237.02 L436.7,236.53 L436.9,236.07 L437.1,235.62 L437.3,235.2 L437.5,234.8 L437.7,234.43 L437.9,234.08 L438.1,233.75 L438.3,233.45 L438.5,233.17 L438.7,232.92 L438.9,232.69 L439.1,232.48 L439.3,232.3 L439.5,232.14 L439.7,232 L439.9,231.9 L440.1,231.81 L440.3,231.75 L440.5,231.71 L440.7,231.7 L440.9,231.71 L441.1,231.75 L441.3,231.81 L441.5,231.9 L441.7,232 L441.9,232.14 L442.1,232.3 L442.3,232.48 L442.5,232.69 L442.7,232.92 L442.9,233.17 L443.1,233.45 L443.3,233.75 L443.5,234.08 L443.7,234.43 L443.9,234.8 L444.1,235.2 L444.3,235.62 L444.5,236.07 L444.7,236.53 L444.9,237.02 L445.1,237.54 L445.3,238.07 L445.5,238.63 L445.7,239.21 L445.9,239.81 L446.1,240.44 L446.3,241.08 L446.5,241.75 L446.7,242.44 L446.9,243.15 L447.1,243.88 L447.3,244.64 L447.5,245.41 L447.7,246.2 L447.9,247.02 L448.1,247.85 L448.3,248.71 L448.5,249.58 L448.7,250.47 L448.9,251.38 L449.1,252.31 L449.3,253.26 L449.5,254.23 L449.7,255.21 L449.9,256.21 L450.1,257.23 L450.3,258.27 L450.5,259.32 L450.7,260.39 L450.9,261.47 L451.1,262.57 L451.3,263.69 L451.5,264.82 L451.7,265.96 L451.9,267.12 L452.1,268.3 L452.3,269.49 L452.5,270.69 L452.7,271.9 L452.9,273.13 L453.1,274.37 L453.3,275.62 L453.5,276.88 L453.7,278.16 L453.9,279.44 L454.1,280.74 L454.3,282.04 L454.5,283.36 L454.7,284.68 L454.9,286.02 L455.1,287.36 L455.3,288.71 L455.5,290.07 L455.7,291.43 L455.9,292.81 L456.1,294.19 L456.3,295.57 L456.5,296.97 L456.7,298.36 L456.9,299.77 L457.1,301.17 L457.3,302.58 L457.5,304 L457.7,305.42 L457.9,306.84 L458.1,308.27 L458.3,309.69 L458.5,311.12 L458.7,312.55 L458.9,313.99 L459.1,315.42 L459.3,316.85 L459.5,318.28 L459.7,319.72 L459.9,321.15 L460.1,322.58 L460.3,324.01 L460.5,325.43 L460.7,326.86 L460.9,328.28 L461.1,329.7 L461.3,331.11 L461.5,332.52 L461.7,333.92 L461.9,335.33 L462.1,336.72 L462.3,338.11 L462.5,339.5 L462.7,340.87 L462.9,342.24 L463.1,343.61 L463.3,344.96 L463.5,346.31 L463.7,347.65 L463.9,348.99 L464.1,350.31 L464.3,351.62 L464.5,352.93 L464.7,354.22 L464.9,355.51 L465.1,356.78 L465.3,358.04 L465.5,359.29 L465.7,360.53 L465.9,361.76 L466.1,362.98 L466.3,364.18 L466.5,365.37 L466.7,366.55 L466.9,367.71 L467.1,367.14 L467.3,366 L467.5,364.88 L467.7,363.77 L467.9,362.68 L468.1,361.6 L468.3,360.54 L468.5,359.5 L468.7,358.47 L468.9,357.45 L469.1,356.45 L469.3,355.47 L469.5,354.51 L469.7,353.56 L469.9,352.63 L470.1,351.72 L470.3,350.83 L470.5,349.95 L470.7,349.09 L470.9,348.25 L471.1,347.43 L471.3,346.62 L471.5,345.84 L471.7,345.07 L471.9,344.33 L472.1,343.6 L472.3,342.89 L472.5,342.2 L472.7,341.53 L472.9,340.89 L473.1,340.26 L473.3,339.65 L473.5,339.06 L473.7,338.49 L473.9,337.94 L474.1,337.41 L474.3,336.9 L474.5,336.42 L474.7,335.95 L474.9,335.5 L475.1,335.08 L475.3,334.67 L475.5,334.29 L475.7,333.93 L475.9,333.58 L476.1,333.26 L476.3,332.96 L476.5,332.68 L476.7,332.42 L476.9,332.18 L477.1,331.96 L477.3,331.76 L477.5,331.59 L477.7,331.43 L477.9,331.29 L478.1,331.18 L478.3,331.08 L478.5,331.01 L478.7,330.95 L478.9,330.92 L479.1,330.9 L479.3,330.91 L479.5,330.94 L479.7,330.98 L479.9,331.04 L480.1,331.13 L480.3,331.23 L480.5,331.36 L480.7,331.5 L480.9,331.66 L481.1,331.84 L481.3,332.03 L481.5,332.25 L481.7,332.49 L481.9,332.74 L482.1,333.01 L482.3,333.3 L482.5,333.6 L482.7,333.92 L482.9,334.26 L483.1,334.62 L483.3,334.99 L483.5,335.38 L483.7,335.79 L483.9,336.21 L484.1,336.65 L484.3,337.1 L484.5,337.57 L484.7,338.05 L484.9,338.55 L485.1,339.06 L485.3,339.58 L485.5,340.12 L485.7,340.67 L485.9,341.24 L486.1,341.82 L486.3,342.41 L486.5,343.01 L486.7,343.63 L486.9,344.25 L487.1,344.89 L487.3,345.54 L487.5,346.2 L487.7,346.87 L487.9,347.55 L488.1,348.24 L488.3,348.94 L488.5,349.65 L488.7,350.36 L488.9,351.09 L489.1,351.82 L489.3,352.56 L489.5,353.31 L489.7,354.06 L489.9,354.83 L490.1,355.59 L490.3,356.37 L490.5,357.14 L490.7,357.93 L490.9,358.72 L491.1,359.51 L491.3,360.31 L491.5,361.11 L491.7,361.91 L491.9,362.72 L492.1,363.52 L492.3,364.34 L492.5,365.15 L492.7,365.96 L492.9,366.78 L493.1,367.59 L493.3,367.59 L493.5,366.78 L493.7,365.96 L493.9,365.15 L494.1,364.34 L494.3,363.52 L494.5,362.72 L494.7,361.91 L494.9,361.11 L495.1,360.31 L495.3,359.51 L495.5,358.72 L495.7,357.93 L495.9,357.14 L496.1,356.37 L496.3,355.59 L496.5,354.83 L496.7,354.06 L496.9,353.31 L497.1,352.56 L497.3,351.82 L497.5,351.09 L497.7,350.36 L497.9,349.65 L498.1,348.94 L498.3,348.24 L498.5,347.55 L498.7,346.87 L498.9,346.2 L499.1,345.54 L499.3,344.89 L499.5,344.25 L499.7,343.63 L499.9,343.01 L500.1,342.41 L500.3,341.82 L500.5,341.24 L500.7,340.67 L500.9,340.12 L501.1,339.58 L501.3,339.06 L501.5,338.55 L501.7,338.05 L501.9,337.57 L502.1,337.1 L502.3,336.65 L502.5,336.21 L502.7,335.79 L502.9,335.38 L503.1,334.99 L503.3,334.62 L503.5,334.26 L503.7,333.93 L503.9,333.6 L504.1,333.3 L504.3,333.01 L504.5,332.74 L504.7,332.49 L504.9,332.25 L505.1,332.03 L505.3,331.84 L505.5,331.66 L505.7,331.5 L505.9,331.36 L506.1,331.23 L506.3,331.13 L506.5,331.04 L506.7,330.98 L506.9,330.94 L507.1,330.91 L507.3,330.9 L507.5,330.92 L507.7,330.95 L507.9,331.01 L508.1,331.08 L508.3,331.18 L508.5,331.29 L508.7,331.43 L508.9,331.59 L509.1,331.76 L509.3,331.96 L509.5,332.18 L509.7,332.42 L509.9,332.68 L510.1,332.96 L510.3,333.26 L510.5,333.58 L510.7,333.92 L510.9,334.29 L511.1,334.67 L511.3,335.08 L511.5,335.5 L511.7,335.95 L511.9,336.42 L512.1,336.9 L512.3,337.41 L512.5,337.94 L512.7,338.49 L512.9,339.06 L513.1,339.65 L513.3,340.26 L513.5,340.89 L513.7,341.53 L513.9,342.2 L514.1,342.89 L514.3,343.6 L514.5,344.33 L514.7,345.07 L514.9,345.84 L515.1,346.62 L515.3,347.43 L515.5,348.25 L515.7,349.09 L515.9,349.95 L516.1,350.83 L516.3,351.72 L516.5,352.63 L516.7,353.56 L516.9,354.51 L517.1,355.47 L517.3,356.45 L517.5,357.45 L517.7,358.47 L517.9,359.5 L518.1,360.54 L518.3,361.6 L518.5,362.68 L518.7,363.77 L518.9,364.88 L519.1,366 L519.3,367.14 L519.5,367.71 L519.7,366.55 L519.9,365.37 L520.1,364.18 L520.3,362.98 L520.5,361.76 L520.7,360.53 L520.9,359.29 L521.1,358.04 L521.3,356.78 L521.5,355.51 L521.7,354.22 L521.9,352.93 L522.1,351.62 L522.3,350.31 L522.5,348.99 L522.7,347.65 L522.9,346.31 L523.1,344.96 L523.3,343.61 L523.5,342.24 L523.7,340.87 L523.9,339.5 L524.1,338.11 L524.3,336.72 L524.5,335.33 L524.7,333.93 L524.9,332.52 L525.1,331.11 L525.3,329.7 L525.5,328.28 L525.7,326.86 L525.9,325.43 L526.1,324.01 L526.3,322.58 L526.5,321.15 L526.7,319.72 L526.9,318.28 L527.1,316.85 L527.3,315.42 L527.5,313.99 L527.7,312.55 L527.9,311.12 L528.1,309.69 L528.3,308.27 L528.5,306.84 L528.7,305.42 L528.9,304 L529.1,302.58 L529.3,301.17 L529.5,299.77 L529.7,298.36 L529.9,296.97 L530.1,295.57 L530.3,294.19 L530.5,292.81 L530.7,291.43 L530.9,290.07 L531.1,288.71 L531.3,287.36 L531.5,286.02 L531.7,284.68 L531.9,283.36 L532.1,282.04 L532.3,280.74 L532.5,279.44 L532.7,278.16 L532.9,276.88 L533.1,275.62 L533.3,274.37 L533.5,273.13 L533.7,271.9 L533.9,270.69 L534.1,269.49 L534.3,268.3 L534.5,267.12 L534.7,265.96 L534.9,264.82 L535.1,263.69 L535.3,262.57 L535.5,261.47 L535.7,260.39 L535.9,259.32 L536.1,258.27 L536.3,257.23 L536.5,256.21 L536.7,255.21 L536.9,254.23 L537.1,253.26 L537.3,252.31 L537.5,251.38 L537.7,250.47 L537.9,249.58 L538.1,248.71 L538.3,247.85 L538.5,247.02 L538.7,246.2 L538.9,245.41 L539.1,244.64 L539.3,243.88 L539.5,243.15 L539.7,242.44 L539.9,241.75 L540.1,241.08 L540.3,240.44 L540.5,239.81 L540.7,239.21 L540.9,238.63 L541.1,238.07 L541.3,237.54 L541.5,237.02 L541.7,236.53 L541.9,236.07 L542.1,235.62 L542.3,235.2 L542.5,234.8 L542.7,234.43 L542.9,234.08 L543.1,233.75 L543.3,233.45 L543.5,233.17 L543.7,232.92 L543.9,232.69 L544.1,232.48 L544.3,232.3 L544.5,232.14 L544.7,232 L544.9,231.9 L545.1,231.81 L545.3,231.75 L545.5,231.71 L545.7,231.7 L545.9,231.71 L546.1,231.75 L546.3,231.81 L546.5,231.9 L546.7,232 L546.9,232.14 L547.1,232.3 L547.3,232.48 L547.5,232.69 L547.7,232.92 L547.9,233.17 L548.1,233.45 L548.3,233.75 L548.5,234.08 L548.7,234.43 L548.9,234.8 L549.1,235.2 L549.3,235.62 L549.5,236.07 L549.7,236.53 L549.9,237.02 L550.1,237.54 L550.3,238.07 L550.5,238.63 L550.7,239.21 L550.9,239.81 L551.1,240.44 L551.3,241.08 L551.5,241.75 L551.7,242.44 L551.9,243.15 L552.1,243.88 L552.3,244.64 L552.5,245.41 L552.7,246.2 L552.9,247.02 L553.1,247.85 L553.3,248.71 L553.5,249.58 L553.7,250.47 L553.9,251.38 L554.1,252.31 L554.3,253.26 L554.5,254.23 L554.7,255.21 L554.9,256.21 L555.1,257.23 L555.3,258.27 L555.5,259.32 L555.7,260.39 L555.9,261.47 L556.1,262.57 L556.3,263.69 L556.5,264.82 L556.7,265.96 L556.9,267.12 L557.1,268.3 L557.3,269.49 L557.5,270.69 L557.7,271.9 L557.9,273.13 L558.1,274.37 L558.3,275.62 L558.5,276.88 L558.7,278.16 L558.9,279.44 L559.1,280.74 L559.3,282.04 L559.5,283.36 L559.7,284.68 L559.9,286.02 L560.1,287.36 L560.3,288.71 L560.5,290.07 L560.7,291.43 L560.9,292.81 L561.1,294.19 L561.3,295.57 L561.5,296.97 L561.7,298.36 L561.9,299.77 L562.1,301.17 L562.3,302.58 L562.5,304 L562.7,305.42 L562.9,306.84 L563.1,308.27 L563.3,309.69 L563.5,311.12 L563.7,312.55 L563.9,313.99 L564.1,315.42 L564.3,316.85 L564.5,318.28 L564.7,319.72 L564.9,321.15 L565.1,322.58 L565.3,324.01 L565.5,325.43 L565.7,326.86 L565.9,328.28 L566.1,329.7 L566.3,331.11 L566.5,332.52 L566.7,333.93 L566.9,335.33 L567.1,336.72 L567.3,338.11 L567.5,339.5 L567.7,340.87 L567.9,342.24 L568.1,343.61 L568.3,344.96 L568.5,346.31 L568.7,347.65 L568.9,348.99 L569.1,350.31 L569.3,351.62 L569.5,352.93 L569.7,354.22 L569.9,355.51 L570.1,356.78 L570.3,358.04 L570.5,359.29 L570.7,360.53 L570.9,361.76 L571.1,362.98 L571.3,364.18 L571.5,365.37 L571.7,366.55 L571.9,367.71 L572.1,367.14 L572.3,366 L572.5,364.88 L572.7,363.77 L572.9,362.68 L573.1,361.6 L573.3,360.54 L573.5,359.5 L573.7,358.47 L573.9,357.45 L574.1,356.45 L574.3,355.47 L574.5,354.51 L574.7,353.56 L574.9,352.63 L575.1,351.72 L575.3,350.83 L575.5,349.95 L575.7,349.09 L575.9,348.25 L576.1,347.43 L576.3,346.62 L576.5,345.84 L576.7,345.07 L576.9,344.33 L577.1,343.6 L577.3,342.89 L577.5,342.2 L577.7,341.53 L577.9,340.89 L578.1,340.26 L578.3,339.65 L578.5,339.06 L578.7,338.49 L578.9,337.94 L579.1,337.41 L579.3,336.9 L579.5,336.42 L579.7,335.95 L579.9,335.5 L580.1,335.08 L580.3,334.67 L580.5,334.29 L580.7,333.92 L580.9,333.58 L581.1,333.26 L581.3,332.96 L581.5,332.68 L581.7,332.42 L581.9,332.18 L582.1,331.96 L582.3,331.76 L582.5,331.59 L582.7,331.43 L582.9,331.29 L583.1,331.18 L583.3,331.08 L583.5,331.01 L583.7,330.95 L583.9,330.92 L584.1,330.9 L584.3,330.91 L584.5,330.94 L584.7,330.98 L584.9,331.04 L585.1,331.13 L585.3,331.23 L585.5,331.36 L585.7,331.5 L585.9,331.66 L586.1,331.84 L586.3,332.03 L586.5,332.25 L586.7,332.49 L586.9,332.74 L587.1,333.01 L587.3,333.3 L587.5,333.6 L587.7,333.93 L587.9,334.26 L588.1,334.62 L588.3,334.99 L588.5,335.38 L588.7,335.79 L588.9,336.21 L589.1,336.65 L589.3,337.1 L589.5,337.57 L589.7,338.05 L589.9,338.55 L590.1,339.06 L590.3,339.58 L590.5,340.12 L590.7,340.67 L590.9,341.24 L591.1,341.82 L591.3,342.41 L591.5,343.01 L591.7,343.63 L591.9,344.25 L592.1,344.89 L592.3,345.54 L592.5,346.2 L592.7,346.87 L592.9,347.55 L593.1,348.24 L593.3,348.94 L593.5,349.65 L593.7,350.36 L593.9,351.09 L594.1,351.82 L594.3,352.56 L594.5,353.31 L594.7,354.06 L594.9,354.83 L595.1,355.59 L595.3,356.37 L595.5,357.14 L595.7,357.93 L595.9,358.72 L596.1,359.51 L596.3,360.31 L596.5,361.11 L596.7,361.91 L596.9,362.72 L597.1,363.52 L597.3,364.34 L597.5,365.15 L597.7,365.96 L597.9,366.78 L598.1,367.59 L598.3,367.59 L598.5,366.78 L598.7,365.96 L598.9,365.15 L599.1,364.34 L599.3,363.52 L599.5,362.72 L599.7,361.91 L599.9,361.11 L600.1,360.31 L600.3,359.51 L600.5,358.72 L600.7,357.93 L600.9,357.14 L601.1,356.37 L601.3,355.59 L601.5,354.83 L601.7,354.06 L601.9,353.31 L602.1,352.56 L602.3,351.82 L602.5,351.09 L602.7,350.36 L602.9,349.65 L603.1,348.94 L603.3,348.24 L603.5,347.55 L603.7,346.87 L603.9,346.2 L604.1,345.54 L604.3,344.89 L604.5,344.25 L604.7,343.63 L604.9,343.01 L605.1,342.41 L605.3,341.82 L605.5,341.24 L605.7,340.67 L605.9,340.12 L606.1,339.58 L606.3,339.06 L606.5,338.55 L606.7,338.05 L606.9,337.57 L607.1,337.1 L607.3,336.65 L607.5,336.21 L607.7,335.79 L607.9,335.38 L608.1,334.99 L608.3,334.62 L608.5,334.26 L608.7,333.92 L608.9,333.6 L609.1,333.3 L609.3,333.01 L609.5,332.74 L609.7,332.49 L609.9,332.25 L610.1,332.03 L610.3,331.84 L610.5,331.66 L610.7,331.5 L610.9,331.36 L611.1,331.23 L611.3,331.13 L611.5,331.04 L611.7,330.98 L611.9,330.94 L612.1,330.91 L612.3,330.9 L612.5,330.92 L612.7,330.95 L612.9,331.01 L613.1,331.08 L613.3,331.18 L613.5,331.29 L613.7,331.43 L613.9,331.59 L614.1,331.76 L614.3,331.96 L614.5,332.18 L614.7,332.42 L614.9,332.68 L615.1,332.96 L615.3,333.26 L615.5,333.58 L615.7,333.93 L615.9,334.29 L616.1,334.67 L616.3,335.08 L616.5,335.5 L616.7,335.95 L616.9,336.42 L617.1,336.9 L617.3,337.41 L617.5,337.94 L617.7,338.49 L617.9,339.06 L618.1,339.65 L618.3,340.26 L618.5,340.89 L618.7,341.53 L618.9,342.2 L619.1,342.89 L619.3,343.6 L619.5,344.33 L619.7,345.07 L619.9,345.84 L620.1,346.62 L620.3,347.43 L620.5,348.25 L620.7,349.09 L620.9,349.95 L621.1,350.83 L621.3,351.72 L621.5,352.63 L621.7,353.56 L621.9,354.51 L622.1,355.47 L622.3,356.45 L622.5,357.45 L622.7,358.47 L622.9,359.5 L623.1,360.54 L623.3,361.6 L623.5,362.68 L623.7,363.77 L623.9,364.88 L624.1,366 L624.3,367.14 L624.5,367.71 L624.7,366.55 L624.9,365.37 L625.1,364.18 L625.3,362.98 L625.5,361.76 L625.7,360.53 L625.9,359.29 L626.1,358.04 L626.3,356.78 L626.5,355.51 L626.7,354.22 L626.9,352.93 L627.1,351.62 L627.3,350.31 L627.5,348.99 L627.7,347.65 L627.9,346.31 L628.1,344.96 L628.3,343.61 L628.5,342.24 L628.7,340.87 L628.9,339.5 L629.1,338.11 L629.3,336.72 L629.5,335.33 L629.7,333.92 L629.9,332.52 L630.1,331.11 L630.3,329.7 L630.5,328.28 L630.7,326.86 L630.9,325.43 L631.1,324.01 L631.3,322.58 L631.5,321.15 L631.7,319.72 L631.9,318.28 L632.1,316.85 L632.3,315.42 L632.5,313.99 L632.7,312.55 L632.9,311.12 L633.1,309.69 L633.3,308.27 L633.5,306.84 L633.7,305.42 L633.9,304 L634.1,302.58 L634.3,301.17 L634.5,299.77 L634.7,298.36 L634.9,296.97 L635.1,295.57 L635.3,294.19 L635.5,292.81 L635.7,291.43 L635.9,290.07 L636.1,288.71 L636.3,287.36 L636.5,286.02 L636.7,284.68 L636.9,283.36 L637.1,282.04 L637.3,280.74 L637.5,279.44 L637.7,278.16 L637.9,276.88 L638.1,275.62 L638.3,274.37 L638.5,273.13 L638.7,271.9 L638.9,270.69 L639.1,269.49 L639.3,268.3 L639.5,267.12 L639.7,265.96 L639.9,264.82 L640.1,263.69 L640.3,262.57 L640.5,261.47 L640.7,260.39 L640.9,259.32 L641.1,258.27 L641.3,257.23 L641.5,256.21 L641.7,255.21 L641.9,254.23 L642.1,253.26 L642.3,252.31 L642.5,251.38 L642.7,250.47 L642.9,249.58 L643.1,248.71 L643.3,247.85 L643.5,247.02 L643.7,246.2 L643.9,245.41 L644.1,244.64 L644.3,243.88 L644.5,243.15 L644.7,242.44 L644.9,241.75 L645.1,241.08 L645.3,240.44 L645.5,239.81 L645.7,239.21 L645.9,238.63 L646.1,238.07 L646.3,237.54 L646.5,237.02 L646.7,236.53 L646.9,236.07 L647.1,235.62 L647.3,235.2 L647.5,234.8 L647.7,234.43 L647.9,234.08 L648.1,233.75 L648.3,233.45 L648.5,233.17 L648.7,232.92 L648.9,232.69 L649.1,232.48 L649.3,232.3 L649.5,232.14 L649.7,232 L649.9,231.9 L650.1,231.81 L650.3,231.75 L650.5,231.71 L650.7,231.7 L650.9,231.71 L651.1,231.75 L651.3,231.81 L651.5,231.9 L651.7,232 L651.9,232.14 L652.1,232.3 L652.3,232.48 L652.5,232.69 L652.7,232.92 L652.9,233.17 L653.1,233.45 L653.3,233.75 L653.5,234.08 L653.7,234.43 L653.9,234.8 L654.1,235.2 L654.3,235.62 L654.5,236.07 L654.7,236.53 L654.9,237.02 L655.1,237.54 L655.3,238.07 L655.5,238.63 L655.7,239.21 L655.9,239.81 L656.1,240.44 L656.3,241.08 L656.5,241.75 L656.7,242.44 L656.9,243.15 L657.1,243.88 L657.3,244.64 L657.5,245.41 L657.7,246.2 L657.9,247.02 L658.1,247.85 L658.3,248.71 L658.5,249.58 L658.7,250.47 L658.9,251.38 L659.1,252.31 L659.3,253.26 L659.5,254.23 L659.7,255.21 L659.9,256.21 L660.1,257.23 L660.3,258.27 L660.5,259.32 L660.7,260.39 L660.9,261.47 L661.1,262.57 L661.3,263.69 L661.5,264.82 L661.7,265.96 L661.9,267.12 L662.1,268.3 L662.3,269.49 L662.5,270.69 L662.7,271.9 L662.9,273.13 L663.1,274.37 L663.3,275.62 L663.5,276.88 L663.7,278.16 L663.9,279.44 L664.1,280.74 L664.3,282.04 L664.5,283.36 L664.7,284.68 L664.9,286.02 L665.1,287.36 L665.3,288.71 L665.5,290.07 L665.7,291.43 L665.9,292.81 L666.1,294.19 L666.3,295.57 L666.5,296.97 L666.7,298.36 L666.9,299.77 L667.1,301.17 L667.3,302.58 L667.5,304 L667.7,305.42 L667.9,306.84 L668.1,308.27 L668.3,309.69 L668.5,311.12 L668.7,312.55 L668.9,313.99 L669.1,315.42 L669.3,316.85 L669.5,318.28 L669.7,319.72 L669.9,321.15 L670.1,322.58 L670.3,324.01 L670.5,325.43 L670.7,326.86 L670.9,328.28 L671.1,329.7 L671.3,331.11 L671.5,332.52 L671.7,333.93 L671.9,335.33 L672.1,336.72 L672.3,338.11 L672.5,339.5 L672.7,340.87 L672.9,342.24 L673.1,343.61 L673.3,344.96 L673.5,346.31 L673.7,347.65 L673.9,348.99 L674.1,350.31 L674.3,351.62 L674.5,352.93 L674.7,354.22 L674.9,355.51 L675.1,356.78 L675.3,358.04 L675.5,359.29 L675.7,360.53 L675.9,361.76 L676.1,362.98 L676.3,364.18 L676.5,365.37 L676.7,366.55 L676.9,367.71 L677.1,367.14 L677.3,366 L677.5,364.88 L677.7,363.77 L677.9,362.68 L678.1,361.6 L678.3,360.54 L678.5,359.5 L678.7,358.47 L678.9,357.45 L679.1,356.45 L679.3,355.47 L679.5,354.51 L679.7,353.56 L679.9,352.63 L680.1,351.72 L680.3,350.83 L680.5,349.95 L680.7,349.09 L680.9,348.25 L681.1,347.43 L681.3,346.62 L681.5,345.84 L681.7,345.07 L681.9,344.33 L682.1,343.6 L682.3,342.89 L682.5,342.2 L682.7,341.53 L682.9,340.89 L683.1,340.26 L683.3,339.65" stroke="#ee1c1c" stroke-width="2.4" stroke-dasharray="4.8 3.3"/>
<path d="M407.7,292.91 L407.9,292.23 L408.1,291.56 L408.3,290.88 L408.5,290.21 L408.7,289.54 L408.9,288.88 L409.1,288.22 L409.3,287.56 L409.5,286.9 L409.7,286.24 L409.9,285.59 L410.1,284.94 L410.3,284.3 L410.5,283.66 L410.7,283.02 L410.9,282.38 L411.1,281.75 L411.3,281.12 L411.5,280.49 L411.7,279.87 L411.9,279.25 L412.1,278.63 L412.3,278.02 L412.5,277.41 L412.7,276.8 L412.9,276.19 L413.1,275.59 L413.3,274.99 L413.5,274.4 L413.7,273.81 L413.9,273.22 L414.1,272.64 L414.3,272.05 L414.5,271.48 L414.7,270.9 L414.9,270.33 L415.1,269.77 L415.3,269.2 L415.5,268.64 L415.7,268.09 L415.9,267.53 L416.1,266.98 L416.3,266.44 L416.5,265.89 L416.7,265.36 L416.9,264.82 L417.1,264.29 L417.3,263.76 L417.5,263.24 L417.7,262.72 L417.9,262.2 L418.1,261.69 L418.3,261.18 L418.5,260.68 L418.7,260.18 L418.9,259.68 L419.1,259.19 L419.3,258.7 L419.5,258.21 L419.7,257.73 L419.9,257.25 L420.1,256.78 L420.3,256.31 L420.5,255.85 L420.7,255.38 L420.9,254.93 L421.1,254.47 L421.3,254.02 L421.5,253.58 L421.7,253.14 L421.9,252.7 L422.1,252.27 L422.3,251.84 L422.5,251.41 L422.7,250.99 L422.9,250.58 L423.1,250.17 L423.3,249.76 L423.5,249.35 L423.7,248.95 L423.9,248.56 L424.1,248.17 L424.3,247.78 L424.5,247.4 L424.7,247.02 L424.9,246.65 L425.1,246.28 L425.3,245.91 L425.5,245.55 L425.7,245.2 L425.9,244.85 L426.1,244.5 L426.3,244.16 L426.5,243.82 L426.7,243.48 L426.9,243.15 L427.1,242.83 L427.3,242.51 L427.5,242.19 L427.7,241.88 L427.9,241.57 L428.1,241.27 L428.3,240.97 L428.5,240.68 L428.7,240.39 L428.9,240.11 L429.1,239.83 L429.3,239.55 L429.5,239.28 L429.7,239.02 L429.9,238.75 L430.1,238.5 L430.3,238.25 L430.5,238 L430.7,237.76 L430.9,237.52 L431.1,237.28 L431.3,237.06 L431.5,236.83 L431.7,236.61 L431.9,236.4 L432.1,236.19 L432.3,235.98 L432.5,235.78 L432.7,235.59 L432.9,235.39 L433.1,235.21 L433.3,235.03 L433.5,234.85 L433.7,234.68 L433.9,234.51 L434.1,234.35 L434.3,234.19 L434.5,234.04 L434.7,233.89 L434.9,233.75 L435.1,233.61 L435.3,233.48 L435.5,233.35 L435.7,233.22 L435.9,233.1 L436.1,232.99 L436.3,232.88 L436.5,232.77 L436.7,232.67 L436.9,232.58 L437.1,232.49 L437.3,232.4 L437.5,232.32 L437.7,232.25 L437.9,232.18 L438.1,232.11 L438.3,232.05 L438.5,232 L438.7,231.94 L438.9,231.9 L439.1,231.86 L439.3,231.82 L439.5,231.79 L439.7,231.76 L439.9,231.74 L440.1,231.72 L440.3,231.71 L440.5,231.7 L440.7,231.7 L440.9,231.7 L441.1,231.71 L441.3,231.72 L441.5,231.74 L441.7,231.76 L441.9,231.79 L442.1,231.82 L442.3,231.86 L442.5,231.9 L442.7,231.94 L442.9,232 L443.1,232.05 L443.3,232.11 L443.5,232.18 L443.7,232.25 L443.9,232.32 L444.1,232.4 L444.3,232.49 L444.5,232.58 L444.7,232.67 L444.9,232.77 L445.1,232.88 L445.3,232.99 L445.5,233.1 L445.7,233.22 L445.9,233.35 L446.1,233.48 L446.3,233.61 L446.5,233.75 L446.7,233.89 L446.9,234.04 L447.1,234.19 L447.3,234.35 L447.5,234.51 L447.7,234.68 L447.9,234.85 L448.1,235.03 L448.3,235.21 L448.5,235.39 L448.7,235.59 L448.9,235.78 L449.1,235.98 L449.3,236.19 L449.5,236.4 L449.7,236.61 L449.9,236.83 L450.1,237.06 L450.3,237.28 L450.5,237.52 L450.7,237.76 L450.9,238 L451.1,238.25 L451.3,238.5 L451.5,238.75 L451.7,239.02 L451.9,239.28 L452.1,239.55 L452.3,239.83 L452.5,240.11 L452.7,240.39 L452.9,240.68 L453.1,240.97 L453.3,241.27 L453.5,241.57 L453.7,241.88 L453.9,242.19 L454.1,242.51 L454.3,242.83 L454.5,243.15 L454.7,243.48 L454.9,243.82 L455.1,244.16 L455.3,244.5 L455.5,244.85 L455.7,245.2 L455.9,245.55 L456.1,245.91 L456.3,246.28 L456.5,246.65 L456.7,247.02 L456.9,247.4 L457.1,247.78 L457.3,248.17 L457.5,248.56 L457.7,248.95 L457.9,249.35 L458.1,249.76 L458.3,250.17 L458.5,250.58 L458.7,250.99 L458.9,251.41 L459.1,251.84 L459.3,252.27 L459.5,252.7 L459.7,253.14 L459.9,253.58 L460.1,254.02 L460.3,254.47 L460.5,254.93 L460.7,255.38 L460.9,255.85 L461.1,256.31 L461.3,256.78 L461.5,257.25 L461.7,257.73 L461.9,258.21 L462.1,258.7 L462.3,259.19 L462.5,259.68 L462.7,260.18 L462.9,260.68 L463.1,261.18 L463.3,261.69 L463.5,262.2 L463.7,262.72 L463.9,263.24 L464.1,263.76 L464.3,264.29 L464.5,264.82 L464.7,265.36 L464.9,265.89 L465.1,266.44 L465.3,266.98 L465.5,267.53 L465.7,268.09 L465.9,268.64 L466.1,269.2 L466.3,269.77 L466.5,270.33 L466.7,270.9 L466.9,271.48 L467.1,272.05 L467.3,272.64 L467.5,273.22 L467.7,273.81 L467.9,274.4 L468.1,274.99 L468.3,275.59 L468.5,276.19 L468.7,276.8 L468.9,277.41 L469.1,278.02 L469.3,278.63 L469.5,279.25 L469.7,279.87 L469.9,280.49 L470.1,281.12 L470.3,281.75 L470.5,282.38 L470.7,283.02 L470.9,283.66 L471.1,284.3 L471.3,284.94 L471.5,285.59 L471.7,286.24 L471.9,286.9 L472.1,287.56 L472.3,288.22 L472.5,288.88 L472.7,289.54 L472.9,290.21 L473.1,290.88 L473.3,291.56 L473.5,292.23 L473.7,292.91 L473.9,293.59 L474.1,294.28 L474.3,294.97 L474.5,295.66 L474.7,296.35 L474.9,297.04 L475.1,297.74 L475.3,298.44 L475.5,299.14 L475.7,299.85 L475.9,300.56 L476.1,301.27 L476.3,301.98 L476.5,302.69 L476.7,303.41 L476.9,304.13 L477.1,304.85 L477.3,305.58 L477.5,306.3 L477.7,307.03 L477.9,307.76 L478.1,308.49 L478.3,309.23 L478.5,309.97 L478.7,310.71 L478.9,311.45 L479.1,312.19 L479.3,312.93 L479.5,313.68 L479.7,314.43 L479.9,315.18 L480.1,315.93 L480.3,316.69 L480.5,317.45 L480.7,318.2 L480.9,318.96 L481.1,319.73 L481.3,320.49 L481.5,321.25 L481.7,322.02 L481.9,322.79 L482.1,323.56 L482.3,324.33 L482.5,325.11 L482.7,325.88 L482.9,326.66 L483.1,327.44 L483.3,328.21 L483.5,329 L483.7,329.78 L483.9,330.56 L484.1,331.35 L484.3,332.13 L484.5,332.92 L484.7,333.71 L484.9,334.5 L485.1,335.29 L485.3,336.08 L485.5,336.88 L485.7,337.67 L485.9,338.47 L486.1,339.26 L486.3,340.06 L486.5,340.86 L486.7,341.66 L486.9,342.46 L487.1,343.26 L487.3,344.06 L487.5,344.87 L487.7,345.67 L487.9,346.48 L488.1,347.28 L488.3,348.09 L488.5,348.9 L488.7,349.7 L488.9,350.51 L489.1,351.32 L489.3,352.13 L489.5,352.94 L489.7,353.75 L489.9,354.56 L490.1,355.38 L490.3,356.19 L490.5,357 L490.7,357.81 L490.9,358.63 L491.1,359.44 L491.3,360.26 L491.5,361.07 L491.7,361.88 L491.9,362.7 L492.1,363.51 L492.3,364.33 L492.5,365.15 L492.7,365.96 L492.9,366.78 L493.1,367.59 L493.3,367.59 L493.5,366.78 L493.7,365.96 L493.9,365.15 L494.1,364.33 L494.3,363.51 L494.5,362.7 L494.7,361.88 L494.9,361.07 L495.1,360.26 L495.3,359.44 L495.5,358.63 L495.7,357.81 L495.9,357 L496.1,356.19 L496.3,355.38 L496.5,354.56 L496.7,353.75 L496.9,352.94 L497.1,352.13 L497.3,351.32 L497.5,350.51 L497.7,349.7 L497.9,348.9 L498.1,348.09 L498.3,347.28 L498.5,346.48 L498.7,345.67 L498.9,344.87 L499.1,344.06 L499.3,343.26 L499.5,342.46 L499.7,341.66 L499.9,340.86 L500.1,340.06 L500.3,339.26 L500.5,338.47 L500.7,337.67 L500.9,336.88 L501.1,336.08 L501.3,335.29 L501.5,334.5 L501.7,333.71 L501.9,332.92 L502.1,332.13 L502.3,331.35 L502.5,330.56 L502.7,329.78 L502.9,329 L503.1,328.21 L503.3,327.44 L503.5,326.66 L503.7,325.88 L503.9,325.11 L504.1,324.33 L504.3,323.56 L504.5,322.79 L504.7,322.02 L504.9,321.25 L505.1,320.49 L505.3,319.73 L505.5,318.96 L505.7,318.2 L505.9,317.45 L506.1,316.69 L506.3,315.93 L506.5,315.18 L506.7,314.43 L506.9,313.68 L507.1,312.93 L507.3,312.19 L507.5,311.45 L507.7,310.71 L507.9,309.97 L508.1,309.23 L508.3,308.49 L508.5,307.76 L508.7,307.03 L508.9,306.3 L509.1,305.58 L509.3,304.85 L509.5,304.13 L509.7,303.41 L509.9,302.69 L510.1,301.98 L510.3,301.27 L510.5,300.56 L510.7,299.85 L510.9,299.14 L511.1,298.44 L511.3,297.74 L511.5,297.04 L511.7,296.35 L511.9,295.66 L512.1,294.97 L512.3,294.28 L512.5,293.59 L512.7,292.91 L512.9,292.23 L513.1,291.56 L513.3,290.88 L513.5,290.21 L513.7,289.54 L513.9,288.88 L514.1,288.22 L514.3,287.56 L514.5,286.9 L514.7,286.24 L514.9,285.59 L515.1,284.94 L515.3,284.3 L515.5,283.66 L515.7,283.02 L515.9,282.38 L516.1,281.75 L516.3,281.12 L516.5,280.49 L516.7,279.87 L516.9,279.25 L517.1,278.63 L517.3,278.02 L517.5,277.41 L517.7,276.8 L517.9,276.19 L518.1,275.59 L518.3,274.99 L518.5,274.4 L518.7,273.81 L518.9,273.22 L519.1,272.64 L519.3,272.05 L519.5,271.48 L519.7,270.9 L519.9,270.33 L520.1,269.77 L520.3,269.2 L520.5,268.64 L520.7,268.09 L520.9,267.53 L521.1,266.98 L521.3,266.44 L521.5,265.89 L521.7,265.36 L521.9,264.82 L522.1,264.29 L522.3,263.76 L522.5,263.24 L522.7,262.72 L522.9,262.2 L523.1,261.69 L523.3,261.18 L523.5,260.68 L523.7,260.18 L523.9,259.68 L524.1,259.19 L524.3,258.7 L524.5,258.21 L524.7,257.73 L524.9,257.25 L525.1,256.78 L525.3,256.31 L525.5,255.85 L525.7,255.38 L525.9,254.93 L526.1,254.47 L526.3,254.02 L526.5,253.58 L526.7,253.14 L526.9,252.7 L527.1,252.27 L527.3,251.84 L527.5,251.41 L527.7,250.99 L527.9,250.58 L528.1,250.17 L528.3,249.76 L528.5,249.35 L528.7,248.95 L528.9,248.56 L529.1,248.17 L529.3,247.78 L529.5,247.4 L529.7,247.02 L529.9,246.65 L530.1,246.28 L530.3,245.91 L530.5,245.55 L530.7,245.2 L530.9,244.85 L531.1,244.5 L531.3,244.16 L531.5,243.82 L531.7,243.48 L531.9,243.15 L532.1,242.83 L532.3,242.51 L532.5,242.19 L532.7,241.88 L532.9,241.57 L533.1,241.27 L533.3,240.97 L533.5,240.68 L533.7,240.39 L533.9,240.11 L534.1,239.83 L534.3,239.55 L534.5,239.28 L534.7,239.02 L534.9,238.75 L535.1,238.5 L535.3,238.25 L535.5,238 L535.7,237.76 L535.9,237.52 L536.1,237.28 L536.3,237.06 L536.5,236.83 L536.7,236.61 L536.9,236.4 L537.1,236.19 L537.3,235.98 L537.5,235.78 L537.7,235.59 L537.9,235.39 L538.1,235.21 L538.3,235.03 L538.5,234.85 L538.7,234.68 L538.9,234.51 L539.1,234.35 L539.3,234.19 L539.5,234.04 L539.7,233.89 L539.9,233.75 L540.1,233.61 L540.3,233.48 L540.5,233.35 L540.7,233.22 L540.9,233.1 L541.1,232.99 L541.3,232.88 L541.5,232.77 L541.7,232.67 L541.9,232.58 L542.1,232.49 L542.3,232.4 L542.5,232.32 L542.7,232.25 L542.9,232.18 L543.1,232.11 L543.3,232.05 L543.5,232 L543.7,231.94 L543.9,231.9 L544.1,231.86 L544.3,231.82 L544.5,231.79 L544.7,231.76 L544.9,231.74 L545.1,231.72 L545.3,231.71 L545.5,231.7 L545.7,231.7 L545.9,231.7 L546.1,231.71 L546.3,231.72 L546.5,231.74 L546.7,231.76 L546.9,231.79 L547.1,231.82 L547.3,231.86 L547.5,231.9 L547.7,231.94 L547.9,232 L548.1,232.05 L548.3,232.11 L548.5,232.18 L548.7,232.25 L548.9,232.32 L549.1,232.4 L549.3,232.49 L549.5,232.58 L549.7,232.67 L549.9,232.77 L550.1,232.88 L550.3,232.99 L550.5,233.1 L550.7,233.22 L550.9,233.35 L551.1,233.48 L551.3,233.61 L551.5,233.75 L551.7,233.89 L551.9,234.04 L552.1,234.19 L552.3,234.35 L552.5,234.51 L552.7,234.68 L552.9,234.85 L553.1,235.03 L553.3,235.21 L553.5,235.39 L553.7,235.59 L553.9,235.78 L554.1,235.98 L554.3,236.19 L554.5,236.4 L554.7,236.61 L554.9,236.83 L555.1,237.06 L555.3,237.28 L555.5,237.52 L555.7,237.76 L555.9,238 L556.1,238.25 L556.3,238.5 L556.5,238.75 L556.7,239.02 L556.9,239.28 L557.1,239.55 L557.3,239.83 L557.5,240.11 L557.7,240.39 L557.9,240.68 L558.1,240.97 L558.3,241.27 L558.5,241.57 L558.7,241.88 L558.9,242.19 L559.1,242.51 L559.3,242.83 L559.5,243.15 L559.7,243.48 L559.9,243.82 L560.1,244.16 L560.3,244.5 L560.5,244.85 L560.7,245.2 L560.9,245.55 L561.1,245.91 L561.3,246.28 L561.5,246.65 L561.7,247.02 L561.9,247.4 L562.1,247.78 L562.3,248.17 L562.5,248.56 L562.7,248.95 L562.9,249.35 L563.1,249.76 L563.3,250.17 L563.5,250.58 L563.7,250.99 L563.9,251.41 L564.1,251.84 L564.3,252.27 L564.5,252.7 L564.7,253.14 L564.9,253.58 L565.1,254.02 L565.3,254.47 L565.5,254.93 L565.7,255.38 L565.9,255.85 L566.1,256.31 L566.3,256.78 L566.5,257.25 L566.7,257.73 L566.9,258.21 L567.1,258.7 L567.3,259.19 L567.5,259.68 L567.7,260.18 L567.9,260.68 L568.1,261.18 L568.3,261.69 L568.5,262.2 L568.7,262.72 L568.9,263.24 L569.1,263.76 L569.3,264.29 L569.5,264.82 L569.7,265.36 L569.9,265.89 L570.1,266.44 L570.3,266.98 L570.5,267.53 L570.7,268.09 L570.9,268.64 L571.1,269.2 L571.3,269.77 L571.5,270.33 L571.7,270.9 L571.9,271.48 L572.1,272.05 L572.3,272.64 L572.5,273.22 L572.7,273.81 L572.9,274.4 L573.1,274.99 L573.3,275.59 L573.5,276.19 L573.7,276.8 L573.9,277.41 L574.1,278.02 L574.3,278.63 L574.5,279.25 L574.7,279.87 L574.9,280.49 L575.1,281.12 L575.3,281.75 L575.5,282.38 L575.7,283.02 L575.9,283.66 L576.1,284.3 L576.3,284.94 L576.5,285.59 L576.7,286.24 L576.9,286.9 L577.1,287.56 L577.3,288.22 L577.5,288.88 L577.7,289.54 L577.9,290.21 L578.1,290.88 L578.3,291.56 L578.5,292.23 L578.7,292.91 L578.9,293.59 L579.1,294.28 L579.3,294.97 L579.5,295.66 L579.7,296.35 L579.9,297.04 L580.1,297.74 L580.3,298.44 L580.5,299.14 L580.7,299.85 L580.9,300.56 L581.1,301.27 L581.3,301.98 L581.5,302.69 L581.7,303.41 L581.9,304.13 L582.1,304.85 L582.3,305.58 L582.5,306.3 L582.7,307.03 L582.9,307.76 L583.1,308.49 L583.3,309.23 L583.5,309.97 L583.7,310.71 L583.9,311.45 L584.1,312.19 L584.3,312.93 L584.5,313.68 L584.7,314.43 L584.9,315.18 L585.1,315.93 L585.3,316.69 L585.5,317.45 L585.7,318.2 L585.9,318.96 L586.1,319.73 L586.3,320.49 L586.5,321.25 L586.7,322.02 L586.9,322.79 L587.1,323.56 L587.3,324.33 L587.5,325.11 L587.7,325.88 L587.9,326.66 L588.1,327.44 L588.3,328.21 L588.5,329 L588.7,329.78 L588.9,330.56 L589.1,331.35 L589.3,332.13 L589.5,332.92 L589.7,333.71 L589.9,334.5 L590.1,335.29 L590.3,336.08 L590.5,336.88 L590.7,337.67 L590.9,338.47 L591.1,339.26 L591.3,340.06 L591.5,340.86 L591.7,341.66 L591.9,342.46 L592.1,343.26 L592.3,344.06 L592.5,344.87 L592.7,345.67 L592.9,346.48 L593.1,347.28 L593.3,348.09 L593.5,348.9 L593.7,349.7 L593.9,350.51 L594.1,351.32 L594.3,352.13 L594.5,352.94 L594.7,353.75 L594.9,354.56 L595.1,355.38 L595.3,356.19 L595.5,357 L595.7,357.81 L595.9,358.63 L596.1,359.44 L596.3,360.26 L596.5,361.07 L596.7,361.88 L596.9,362.7 L597.1,363.51 L597.3,364.33 L597.5,365.15 L597.7,365.96 L597.9,366.78 L598.1,367.59 L598.3,367.59 L598.5,366.78 L598.7,365.96 L598.9,365.15 L599.1,364.33 L599.3,363.51 L599.5,362.7 L599.7,361.88 L599.9,361.07 L600.1,360.26 L600.3,359.44 L600.5,358.63 L600.7,357.81 L600.9,357 L601.1,356.19 L601.3,355.38 L601.5,354.56 L601.7,353.75 L601.9,352.94 L602.1,352.13 L602.3,351.32 L602.5,350.51 L602.7,349.7 L602.9,348.9 L603.1,348.09 L603.3,347.28 L603.5,346.48 L603.7,345.67 L603.9,344.87 L604.1,344.06 L604.3,343.26 L604.5,342.46 L604.7,341.66 L604.9,340.86 L605.1,340.06 L605.3,339.26 L605.5,338.47 L605.7,337.67 L605.9,336.88 L606.1,336.08 L606.3,335.29 L606.5,334.5 L606.7,333.71 L606.9,332.92 L607.1,332.13 L607.3,331.35 L607.5,330.56 L607.7,329.78 L607.9,329 L608.1,328.21 L608.3,327.44 L608.5,326.66 L608.7,325.88 L608.9,325.11 L609.1,324.33 L609.3,323.56 L609.5,322.79 L609.7,322.02 L609.9,321.25 L610.1,320.49 L610.3,319.73 L610.5,318.96 L610.7,318.2 L610.9,317.45 L611.1,316.69 L611.3,315.93 L611.5,315.18 L611.7,314.43 L611.9,313.68 L612.1,312.93 L612.3,312.19 L612.5,311.45 L612.7,310.71 L612.9,309.97 L613.1,309.23 L613.3,308.49 L613.5,307.76 L613.7,307.03 L613.9,306.3 L614.1,305.58 L614.3,304.85 L614.5,304.13 L614.7,303.41 L614.9,302.69 L615.1,301.98 L615.3,301.27 L615.5,300.56 L615.7,299.85 L615.9,299.14 L616.1,298.44 L616.3,297.74 L616.5,297.04 L616.7,296.35 L616.9,295.66 L617.1,294.97 L617.3,294.28 L617.5,293.59 L617.7,292.91 L617.9,292.23 L618.1,291.56 L618.3,290.88 L618.5,290.21 L618.7,289.54 L618.9,288.88 L619.1,288.22 L619.3,287.56 L619.5,286.9 L619.7,286.24 L619.9,285.59 L620.1,284.94 L620.3,284.3 L620.5,283.66 L620.7,283.02 L620.9,282.38 L621.1,281.75 L621.3,281.12 L621.5,280.49 L621.7,279.87 L621.9,279.25 L622.1,278.63 L622.3,278.02 L622.5,277.41 L622.7,276.8 L622.9,276.19 L623.1,275.59 L623.3,274.99 L623.5,274.4 L623.7,273.81 L623.9,273.22 L624.1,272.64 L624.3,272.05 L624.5,271.48 L624.7,270.9 L624.9,270.33 L625.1,269.77 L625.3,269.2 L625.5,268.64 L625.7,268.09 L625.9,267.53 L626.1,266.98 L626.3,266.44 L626.5,265.89 L626.7,265.36 L626.9,264.82 L627.1,264.29 L627.3,263.76 L627.5,263.24 L627.7,262.72 L627.9,262.2 L628.1,261.69 L628.3,261.18 L628.5,260.68 L628.7,260.18 L628.9,259.68 L629.1,259.19 L629.3,258.7 L629.5,258.21 L629.7,257.73 L629.9,257.25 L630.1,256.78 L630.3,256.31 L630.5,255.85 L630.7,255.38 L630.9,254.93 L631.1,254.47 L631.3,254.02 L631.5,253.58 L631.7,253.14 L631.9,252.7 L632.1,252.27 L632.3,251.84 L632.5,251.41 L632.7,250.99 L632.9,250.58 L633.1,250.17 L633.3,249.76 L633.5,249.35 L633.7,248.95 L633.9,248.56 L634.1,248.17 L634.3,247.78 L634.5,247.4 L634.7,247.02 L634.9,246.65 L635.1,246.28 L635.3,245.91 L635.5,245.55 L635.7,245.2 L635.9,244.85 L636.1,244.5 L636.3,244.16 L636.5,243.82 L636.7,243.48 L636.9,243.15 L637.1,242.83 L637.3,242.51 L637.5,242.19 L637.7,241.88 L637.9,241.57 L638.1,241.27 L638.3,240.97 L638.5,240.68 L638.7,240.39 L638.9,240.11 L639.1,239.83 L639.3,239.55 L639.5,239.28 L639.7,239.02 L639.9,238.75 L640.1,238.5 L640.3,238.25 L640.5,238 L640.7,237.76 L640.9,237.52 L641.1,237.28 L641.3,237.06 L641.5,236.83 L641.7,236.61 L641.9,236.4 L642.1,236.19 L642.3,235.98 L642.5,235.78 L642.7,235.59 L642.9,235.39 L643.1,235.21 L643.3,235.03 L643.5,234.85 L643.7,234.68 L643.9,234.51 L644.1,234.35 L644.3,234.19 L644.5,234.04 L644.7,233.89 L644.9,233.75 L645.1,233.61 L645.3,233.48 L645.5,233.35 L645.7,233.22 L645.9,233.1 L646.1,232.99 L646.3,232.88 L646.5,232.77 L646.7,232.67 L646.9,232.58 L647.1,232.49 L647.3,232.4 L647.5,232.32 L647.7,232.25 L647.9,232.18 L648.1,232.11 L648.3,232.05 L648.5,232 L648.7,231.94 L648.9,231.9 L649.1,231.86 L649.3,231.82 L649.5,231.79 L649.7,231.76 L649.9,231.74 L650.1,231.72 L650.3,231.71 L650.5,231.7 L650.7,231.7 L650.9,231.7 L651.1,231.71 L651.3,231.72 L651.5,231.74 L651.7,231.76 L651.9,231.79 L652.1,231.82 L652.3,231.86 L652.5,231.9 L652.7,231.94 L652.9,232 L653.1,232.05 L653.3,232.11 L653.5,232.18 L653.7,232.25 L653.9,232.32 L654.1,232.4 L654.3,232.49 L654.5,232.58 L654.7,232.67 L654.9,232.77 L655.1,232.88 L655.3,232.99 L655.5,233.1 L655.7,233.22 L655.9,233.35 L656.1,233.48 L656.3,233.61 L656.5,233.75 L656.7,233.89 L656.9,234.04 L657.1,234.19 L657.3,234.35 L657.5,234.51 L657.7,234.68 L657.9,234.85 L658.1,235.03 L658.3,235.21 L658.5,235.39 L658.7,235.59 L658.9,235.78 L659.1,235.98 L659.3,236.19 L659.5,236.4 L659.7,236.61 L659.9,236.83 L660.1,237.06 L660.3,237.28 L660.5,237.52 L660.7,237.76 L660.9,238 L661.1,238.25 L661.3,238.5 L661.5,238.75 L661.7,239.02 L661.9,239.28 L662.1,239.55 L662.3,239.83 L662.5,240.11 L662.7,240.39 L662.9,240.68 L663.1,240.97 L663.3,241.27 L663.5,241.57 L663.7,241.88 L663.9,242.19 L664.1,242.51 L664.3,242.83 L664.5,243.15 L664.7,243.48 L664.9,243.82 L665.1,244.16 L665.3,244.5 L665.5,244.85 L665.7,245.2 L665.9,245.55 L666.1,245.91 L666.3,246.28 L666.5,246.65 L666.7,247.02 L666.9,247.4 L667.1,247.78 L667.3,248.17 L667.5,248.56 L667.7,248.95 L667.9,249.35 L668.1,249.76 L668.3,250.17 L668.5,250.58 L668.7,250.99 L668.9,251.41 L669.1,251.84 L669.3,252.27 L669.5,252.7 L669.7,253.14 L669.9,253.58 L670.1,254.02 L670.3,254.47 L670.5,254.93 L670.7,255.38 L670.9,255.85 L671.1,256.31 L671.3,256.78 L671.5,257.25 L671.7,257.73 L671.9,258.21 L672.1,258.7 L672.3,259.19 L672.5,259.68 L672.7,260.18 L672.9,260.68 L673.1,261.18 L673.3,261.69 L673.5,262.2 L673.7,262.72 L673.9,263.24 L674.1,263.76 L674.3,264.29 L674.5,264.82 L674.7,265.36 L674.9,265.89 L675.1,266.44 L675.3,266.98 L675.5,267.53 L675.7,268.09 L675.9,268.64 L676.1,269.2 L676.3,269.77 L676.5,270.33 L676.7,270.9 L676.9,271.48 L677.1,272.05 L677.3,272.64 L677.5,273.22 L677.7,273.81 L677.9,274.4 L678.1,274.99 L678.3,275.59 L678.5,276.19 L678.7,276.8 L678.9,277.41 L679.1,278.02 L679.3,278.63 L679.5,279.25 L679.7,279.87 L679.9,280.49 L680.1,281.12 L680.3,281.75 L680.5,282.38 L680.7,283.02 L680.9,283.66 L681.1,284.3 L681.3,284.94 L681.5,285.59 L681.7,286.24 L681.9,286.9 L682.1,287.56 L682.3,288.22 L682.5,288.88 L682.7,289.54 L682.9,290.21 L683.1,290.88 L683.3,291.56" stroke="#1212f0" stroke-width="2.4"/>
</g>
<rect x="407.7" y="214.8" width="275.7" height="153.4" fill="none" stroke="#000" stroke-width="1.3"/>
<path d="M435.27,214.8 v3.2 M435.27,368.2 v-3.2 M407.7,352.86 h3.2 M683.4,352.86 h-3.2 M462.84,214.8 v3.2 M462.84,368.2 v-3.2 M407.7,337.52 h3.2 M683.4,337.52 h-3.2 M490.41,214.8 v3.2 M490.41,368.2 v-3.2 M407.7,322.18 h3.2 M683.4,322.18 h-3.2 M517.98,214.8 v3.2 M517.98,368.2 v-3.2 M407.7,306.84 h3.2 M683.4,306.84 h-3.2 M545.55,214.8 v3.2 M545.55,368.2 v-3.2 M407.7,291.5 h3.2 M683.4,291.5 h-3.2 M573.12,214.8 v3.2 M573.12,368.2 v-3.2 M407.7,276.16 h3.2 M683.4,276.16 h-3.2 M600.69,214.8 v3.2 M600.69,368.2 v-3.2 M407.7,260.82 h3.2 M683.4,260.82 h-3.2 M628.26,214.8 v3.2 M628.26,368.2 v-3.2 M407.7,245.48 h3.2 M683.4,245.48 h-3.2 M655.83,214.8 v3.2 M655.83,368.2 v-3.2 M407.7,230.14 h3.2 M683.4,230.14 h-3.2" stroke="#000" stroke-width="1.1" fill="none"/>
<line x1="435.5" y1="179.5" x2="466" y2="179.5" stroke="#1212f0" stroke-width="2.1"/>
<line x1="435.5" y1="203.7" x2="462.5" y2="203.7" stroke="#ee1c1c" stroke-width="2" stroke-dasharray="7 2.9"/>
<line x1="551" y1="179.5" x2="582.5" y2="179.5" stroke="#f71fe0" stroke-width="2" stroke-dasharray="4.5 1.6 1.4 1.6"/>
<line x1="551" y1="203.7" x2="582.5" y2="203.7" stroke="#80c040" stroke-width="2" stroke-dasharray="1.3 1.3"/>
<text x="472.82" y="184.5" font-size="17.3" font-family='"Liberation Sans", Arial, Helvetica, sans-serif' textLength="56.51" lengthAdjust="spacingAndGlyphs" >2 Lines</text>
<text x="473.3" y="207.5" font-size="17.3" font-family='"Liberation Sans", Arial, Helvetica, sans-serif' textLength="56.03" lengthAdjust="spacingAndGlyphs" >4 Lines</text>
<text x="591.6" y="184.5" font-size="17.3" font-family='"Liberation Sans", Arial, Helvetica, sans-serif' textLength="57.04" lengthAdjust="spacingAndGlyphs" >6 Lines</text>
<text x="591.73" y="207.5" font-size="17.3" font-family='"Liberation Sans", Arial, Helvetica, sans-serif' textLength="56.9" lengthAdjust="spacingAndGlyphs" >8 Lines</text>
<text x="395.8" y="234.3" font-size="17.2" font-family='"Liberation Sans", Arial, Helvetica, sans-serif' text-anchor="start" >1</text>
<text x="394.38" y="371.6" font-size="17.4" font-family='"Liberation Sans", Arial, Helvetica, sans-serif' textLength="10.24" lengthAdjust="spacingAndGlyphs" >0</text>
<text x="378.86" y="290" font-size="17.2" font-family='"Liberation Sans", Arial, Helvetica, sans-serif' textLength="12.17" lengthAdjust="spacingAndGlyphs" >A</text>
<text x="694.75" y="374.6" font-size="17.0" font-family='"Liberation Sans", Arial, Helvetica, sans-serif' textLength="4.93" lengthAdjust="spacingAndGlyphs" >f</text>
<text x="435.86" y="385.4" font-size="17" font-family='"Liberation Sans", Arial, Helvetica, sans-serif'>f<tspan font-size="10.6" dy="5.8">0</tspan></text>
<text x="539.15" y="385.4" font-size="17" font-family='"Liberation Sans", Arial, Helvetica, sans-serif'>2f<tspan font-size="10.6" dy="5.8">0</tspan></text>
<text x="644.55" y="385.4" font-size="17" font-family='"Liberation Sans", Arial, Helvetica, sans-serif'>3f<tspan font-size="10.6" dy="5.8">0</tspan></text>
</svg>
</body></html>
